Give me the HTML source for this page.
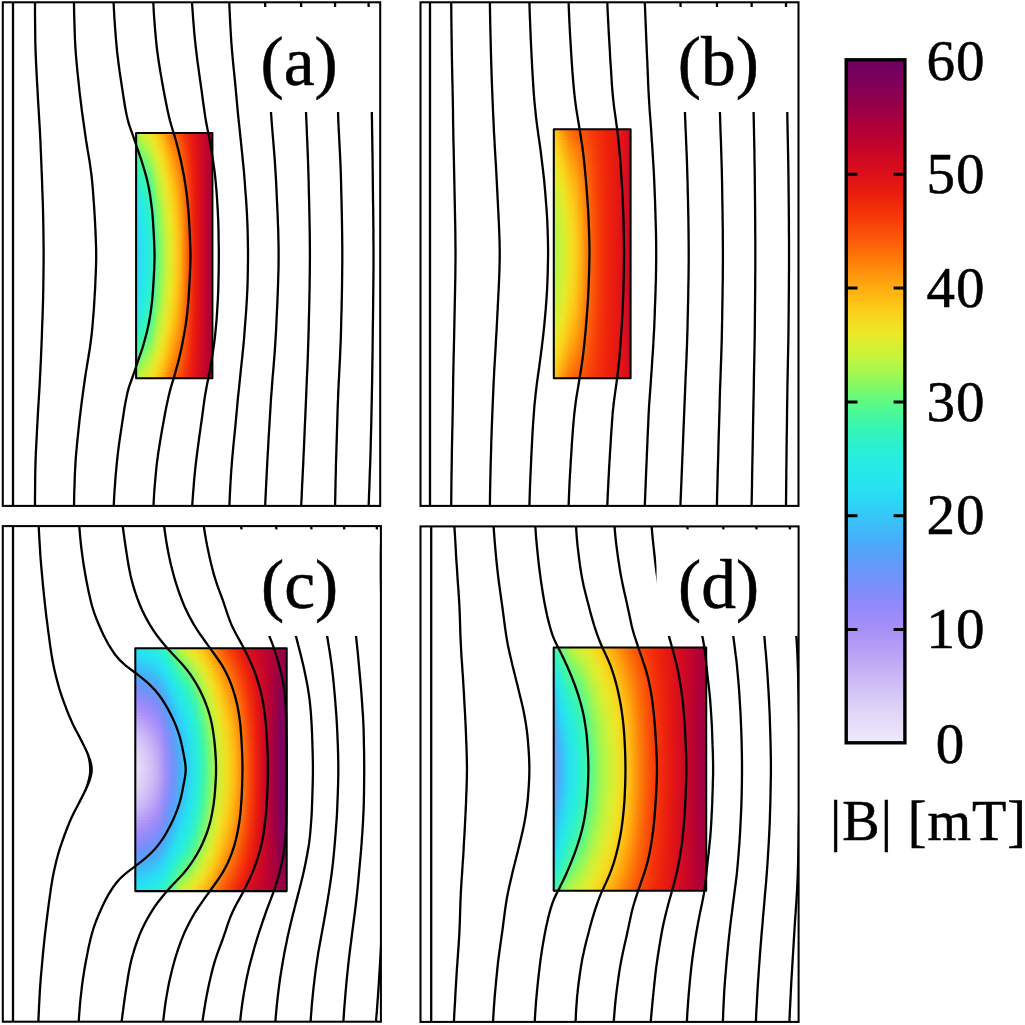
<!DOCTYPE html>
<html><head><meta charset="utf-8"><title>figure</title>
<style>
html,body{margin:0;padding:0;background:#fff}
#f{position:relative;width:1025px;height:1025px;overflow:hidden;background:#fff}
#f i{position:absolute;display:block}
#f svg{position:absolute;left:0;top:0}
text{font-family:"Liberation Serif",serif;fill:#000;stroke:#000;stroke-width:.55px}
.a0{background:linear-gradient(90deg,#2ed3f6 0%,#28def4 5%,#27e5ed 10%,#27ebe3 15%,#2af0d2 20%,#46f7a1 25%,#72f974 30%,#9df754 35%,#c0f43f 40%,#e0ec2e 45%,#f3dc22 50%,#fdc818 55%,#ffa70f 60%,#fc7a09 65%,#f94c08 70%,#f0280b 75%,#e51813 80%,#d70e1d 85%,#c80628 90%,#b60234 95%,#a6003f 100%)}
.a1{background:linear-gradient(90deg,#2ed3f6 0%,#28def4 5%,#27e5ed 10%,#27ece2 15%,#2af0d2 20%,#46f7a0 25%,#72f973 30%,#9df754 35%,#c0f43f 40%,#e0ec2e 45%,#f3dc22 50%,#fdc718 55%,#ffa70f 60%,#fc7909 65%,#f94c08 70%,#f0280b 75%,#e51813 80%,#d70e1d 85%,#c80628 90%,#b60234 95%,#a6003f 100%)}
.a2{background:linear-gradient(90deg,#2ed3f6 0%,#28dff3 5%,#27e5ed 10%,#27ece2 15%,#2af0d1 20%,#47f7a0 25%,#73f973 30%,#9ef753 35%,#c0f43f 40%,#e0ec2e 45%,#f3dc22 50%,#fdc718 55%,#ffa70f 60%,#fc7909 65%,#f94c08 70%,#f0280b 75%,#e51813 80%,#d70e1d 85%,#c80628 90%,#b60234 95%,#a6003f 100%)}
.a3{background:linear-gradient(90deg,#2dd4f6 0%,#28dff3 5%,#27e6ec 10%,#27ece2 15%,#2bf0d1 20%,#47f79f 25%,#73f972 30%,#9ef753 35%,#c1f43e 40%,#e1eb2e 45%,#f4dc21 50%,#fdc718 55%,#ffa60f 60%,#fc7909 65%,#f94c08 70%,#f0280b 75%,#e51813 80%,#d70e1d 85%,#c80628 90%,#b60234 95%,#a6003f 100%)}
.a4{background:linear-gradient(90deg,#2dd5f6 0%,#28dff3 5%,#27e6ec 10%,#27ece1 15%,#2bf0d0 20%,#48f89e 25%,#75f972 30%,#9ff752 35%,#c2f43e 40%,#e1eb2d 45%,#f4db21 50%,#fdc618 55%,#ffa60f 60%,#fc7909 65%,#f94c08 70%,#f0280b 75%,#e51813 80%,#d70e1d 85%,#c80628 90%,#b60234 95%,#a6003f 100%)}
.a5{background:linear-gradient(90deg,#2dd5f6 0%,#28e0f2 5%,#27e6ec 10%,#27ece0 15%,#2cf1cf 20%,#49f89d 25%,#76f971 30%,#a0f752 35%,#c3f33d 40%,#e2eb2d 45%,#f4db21 50%,#fdc618 55%,#ffa50f 60%,#fc7809 65%,#f94b08 70%,#f0280b 75%,#e51813 80%,#d70e1d 85%,#c80628 90%,#b60234 95%,#a6003f 100%)}
.a6{background:linear-gradient(90deg,#2cd6f5 0%,#28e0f2 5%,#27e7eb 10%,#28ecdf 15%,#2cf1cd 20%,#4af89b 25%,#77f96f 30%,#a2f751 35%,#c4f33c 40%,#e3eb2c 45%,#f5da21 50%,#fdc517 55%,#ffa40f 60%,#fc7709 65%,#f94b08 70%,#f0280b 75%,#e51813 80%,#d70e1d 85%,#c80628 90%,#b60234 95%,#a6003f 100%)}
.a7{background:linear-gradient(90deg,#2cd7f5 0%,#28e1f1 5%,#26e7eb 10%,#28edde 15%,#2df1cc 20%,#4bf89a 25%,#79f96e 30%,#a3f750 35%,#c6f33b 40%,#e4ea2c 45%,#f5d920 50%,#fdc417 55%,#ffa30f 60%,#fc7709 65%,#f94b08 70%,#f0280b 75%,#e51813 80%,#d70e1d 85%,#c80628 90%,#b60234 95%,#a6003f 100%)}
.a8{background:linear-gradient(90deg,#2bd9f5 0%,#27e1f1 5%,#26e8ea 10%,#28eddd 15%,#2ef1ca 20%,#4df898 25%,#7bf96c 30%,#a5f64f 35%,#c8f33a 40%,#e5ea2b 45%,#f6d920 50%,#fdc317 55%,#ffa20f 60%,#fc7609 65%,#f94a08 70%,#f0270b 75%,#e41813 80%,#d70d1e 85%,#c80628 90%,#b60234 95%,#a6003f 100%)}
.a9{background:linear-gradient(90deg,#2adaf5 0%,#27e2f0 5%,#26e9e9 10%,#28eddc 15%,#2ff2c8 20%,#4ff896 25%,#7ef96b 30%,#a7f64e 35%,#c9f339 40%,#e7ea2b 45%,#f6d81f 50%,#fdc216 55%,#fea10e 60%,#fc7509 65%,#f94a08 70%,#f0270b 75%,#e41813 80%,#d70d1e 85%,#c80628 90%,#b60234 95%,#a6003f 100%)}
.a10{background:linear-gradient(90deg,#29dcf4 0%,#27e3ef 5%,#26eae8 10%,#28eeda 15%,#30f2c6 20%,#51f893 25%,#80f968 30%,#aaf64c 35%,#cbf238 40%,#e8e92a 45%,#f7d61f 50%,#fdc016 55%,#fea00e 60%,#fc7409 65%,#f94908 70%,#ef270b 75%,#e41813 80%,#d70d1e 85%,#c80628 90%,#b60234 95%,#a6003f 100%)}
.a11{background:linear-gradient(90deg,#28ddf4 0%,#27e4ee 5%,#26eae7 10%,#29eed9 15%,#31f3c3 20%,#53f991 25%,#83f966 30%,#acf64b 35%,#cdf238 40%,#eae929 45%,#f8d51e 50%,#fdbf16 55%,#fe9e0e 60%,#fc7309 65%,#f84808 70%,#ef270b 75%,#e41813 80%,#d70d1e 85%,#c80628 90%,#b70234 95%,#a6003f 100%)}
.a12{background:linear-gradient(90deg,#28dff3 0%,#27e5ed 5%,#27ebe5 10%,#29efd7 15%,#32f3c1 20%,#55f98e 25%,#86f964 30%,#aff649 35%,#cff137 40%,#ece828 45%,#f8d41d 50%,#fdbd15 55%,#fe9d0e 60%,#fc7209 65%,#f84808 70%,#ef260b 75%,#e41813 80%,#d70d1e 85%,#c80628 90%,#b70234 95%,#a7003f 100%)}
.a13{background:linear-gradient(90deg,#28e0f2 0%,#27e6ec 5%,#27ebe3 10%,#29efd5 15%,#33f3be 20%,#58f98b 25%,#8af861 30%,#b2f547 35%,#d1f036 40%,#ede627 45%,#f9d31c 50%,#febc15 55%,#fe9b0d 60%,#fc7009 65%,#f84708 70%,#ef260b 75%,#e41714 80%,#d70d1e 85%,#c80628 90%,#b70234 95%,#a7003e 100%)}
.a14{background:linear-gradient(90deg,#27e1f1 0%,#26e7eb 5%,#27ece1 10%,#2af0d3 15%,#35f4ba 20%,#5bfa87 25%,#8ef85e 30%,#b5f545 35%,#d3f034 40%,#eee526 45%,#fad11c 50%,#feba14 55%,#fe990d 60%,#fc6f09 65%,#f84608 70%,#ef260b 75%,#e41714 80%,#d60d1e 85%,#c80628 90%,#b70233 95%,#a7003e 100%)}
.a15{background:linear-gradient(90deg,#27e2f0 0%,#26e9e9 5%,#28eddf 10%,#2bf0d0 15%,#36f5b7 20%,#5efa84 25%,#92f85b 30%,#b8f543 35%,#d6ef33 40%,#efe325 45%,#fbcf1b 50%,#feb814 55%,#fe970d 60%,#fc6e09 65%,#f84508 70%,#ef250b 75%,#e41714 80%,#d60d1e 85%,#c80628 90%,#b70233 95%,#a7003e 100%)}
.a16{background:linear-gradient(90deg,#27e4ee 0%,#26eae8 5%,#28eddc 10%,#2df1cc 15%,#38f5b4 20%,#62fa80 25%,#96f858 30%,#bcf441 35%,#d8ee32 40%,#f0e124 45%,#fcce1a 50%,#feb613 55%,#fe950d 60%,#fc6c09 65%,#f84408 70%,#ef250b 75%,#e31714 80%,#d60d1e 85%,#c80628 90%,#b70233 95%,#a7003e 100%)}
.a17{background:linear-gradient(90deg,#27e5ed 0%,#26ebe5 5%,#29eed9 10%,#2ef2c8 15%,#3af6b0 20%,#67fa7c 25%,#9af856 30%,#c0f43f 35%,#dbed30 40%,#f1df23 45%,#fccb19 50%,#feb412 55%,#fe930c 60%,#fc6a09 65%,#f84308 70%,#ef240b 75%,#e31714 80%,#d60d1e 85%,#c80628 90%,#b70233 95%,#a8003e 100%)}
.a18{background:linear-gradient(90deg,#27e7eb 0%,#27ece2 5%,#29efd7 10%,#30f2c4 15%,#3df6ab 20%,#6cfa78 25%,#9ef753 30%,#c4f33c 35%,#deec2f 40%,#f3dd22 45%,#fcc918 50%,#ffb112 55%,#fe910c 60%,#fc6909 65%,#f84208 70%,#ee240b 75%,#e31714 80%,#d60d1e 85%,#c80628 90%,#b70233 95%,#a8003e 100%)}
.a19{background:linear-gradient(90deg,#26e8ea 0%,#28ecdf 5%,#2af0d4 10%,#32f3bf 15%,#42f7a5 20%,#72f974 25%,#a3f750 30%,#c8f33a 35%,#e1eb2d 40%,#f4db21 45%,#fdc618 50%,#ffaf11 55%,#fe8e0c 60%,#fb6708 65%,#f84108 70%,#ee230c 75%,#e31614 80%,#d60d1e 85%,#c80628 90%,#b70233 95%,#a8003e 100%)}
.a20{background:linear-gradient(90deg,#26eae8 0%,#28eddc 5%,#2bf0d0 10%,#35f4bb 15%,#47f7a0 20%,#78f96f 25%,#a8f64d 30%,#ccf238 35%,#e5ea2c 40%,#f5d920 45%,#fdc317 50%,#ffac10 55%,#fd8c0b 60%,#fb6508 65%,#f74008 70%,#ee230c 75%,#e31615 80%,#d60d1e 85%,#c80628 90%,#b70233 95%,#a8003d 100%)}
.a21{background:linear-gradient(90deg,#27ebe4 0%,#29eed9 5%,#2df1ca 10%,#37f5b6 15%,#4cf89a 20%,#7ef96b 25%,#adf64a 30%,#cff137 35%,#e8e92a 40%,#f7d71f 45%,#fdc016 50%,#ffa910 55%,#fd890b 60%,#fb6308 65%,#f73e08 70%,#ee220c 75%,#e21615 80%,#d60d1f 85%,#c80628 90%,#b80233 95%,#a8003d 100%)}
.a22{background:linear-gradient(90deg,#27ece1 0%,#29efd6 5%,#30f2c5 10%,#39f6b1 15%,#51f893 20%,#84f966 25%,#b2f547 30%,#d3f035 35%,#ece828 40%,#f8d41d 45%,#fdbd15 50%,#ffa60f 55%,#fd860a 60%,#fb6008 65%,#f73d08 70%,#ee220c 75%,#e21615 80%,#d50d1f 85%,#c80628 90%,#b80233 95%,#a9003d 100%)}
.a23{background:linear-gradient(90deg,#28eddd 0%,#2af0d2 5%,#33f3bf 10%,#3ef6aa 15%,#56f98d 20%,#8bf860 25%,#b7f544 30%,#d6ef33 35%,#eee527 40%,#fad11c 45%,#feba14 50%,#ffa20f 55%,#fd830a 60%,#fb5e08 65%,#f73c08 70%,#ed210c 75%,#e21515 80%,#d50d1f 85%,#c80628 90%,#b80233 95%,#a9003d 100%)}
.a24{background:linear-gradient(90deg,#29eeda 0%,#2df1cc 5%,#35f4b9 10%,#44f7a3 15%,#5cfa86 20%,#92f85b 25%,#bdf441 30%,#daed31 35%,#efe325 40%,#fccf1a 45%,#feb713 50%,#fe9f0e 55%,#fd800a 60%,#fb5c08 65%,#f73b08 70%,#ed210c 75%,#e21515 80%,#d50d1f 85%,#c80628 90%,#b80233 95%,#a9003d 100%)}
.a25{background:linear-gradient(90deg,#29efd6 0%,#30f2c6 5%,#38f5b3 10%,#4af89b 15%,#63fa7f 20%,#99f856 25%,#c3f33d 30%,#deec2f 35%,#f1e023 40%,#fccb19 45%,#feb312 50%,#fe9b0d 55%,#fd7d0a 60%,#fa5a08 65%,#f63908 70%,#ed200c 75%,#e11516 80%,#d50c1f 85%,#c80628 90%,#b80233 95%,#aa003c 100%)}
.a26{background:linear-gradient(90deg,#2af0d1 0%,#33f3bf 5%,#3cf6ac 10%,#51f893 15%,#6cfa78 20%,#a0f752 25%,#c9f339 30%,#e3eb2d 35%,#f3dd22 40%,#fdc718 45%,#ffaf11 50%,#fe970d 55%,#fc7a09 60%,#fa5708 65%,#f63809 70%,#ec200c 75%,#e11516 80%,#d50c1f 85%,#c80628 90%,#b80232 95%,#aa003c 100%)}
.a27{background:linear-gradient(90deg,#2df1ca 0%,#36f4b8 5%,#43f7a4 10%,#58f98b 15%,#76f971 20%,#a7f64e 25%,#cef137 30%,#e7e92a 35%,#f5d920 40%,#fdc317 45%,#ffac10 50%,#fe930c 55%,#fc7609 60%,#fa5508 65%,#f53709 70%,#ec1f0d 75%,#e11416 80%,#d40c1f 85%,#c80628 90%,#b90232 95%,#aa003c 100%)}
.a28{background:linear-gradient(90deg,#31f2c3 0%,#39f6b1 5%,#4bf89b 10%,#5ffa82 15%,#80f969 20%,#aff649 25%,#d3f035 30%,#ece828 35%,#f7d61e 40%,#fdbf16 45%,#ffa70f 50%,#fe8f0c 55%,#fc7309 60%,#fa5308 65%,#f53509 70%,#ec1f0d 75%,#e01416 80%,#d40c1f 85%,#c80628 90%,#b90232 95%,#ab003c 100%)}
.a29{background:linear-gradient(90deg,#34f4bc 0%,#3ff7a9 5%,#52f992 10%,#69fa7a 15%,#8af861 20%,#b7f544 25%,#d8ee32 30%,#eee526 35%,#f9d21c 40%,#febb14 45%,#ffa20f 50%,#fd8a0b 55%,#fc6f09 60%,#f95008 65%,#f43409 70%,#eb1e0e 75%,#e01417 80%,#d40c20 85%,#c80628 90%,#b90232 95%,#ab003b 100%)}
.a30{background:linear-gradient(90deg,#37f5b5 0%,#47f79f 5%,#5af988 10%,#75f972 15%,#94f859 20%,#bff440 25%,#dded30 30%,#f0e124 35%,#fbcf1a 40%,#feb713 45%,#fe9d0e 50%,#fd860a 55%,#fc6c09 60%,#f94d08 65%,#f43209 70%,#eb1e0e 75%,#e01417 80%,#d40c20 85%,#c80628 90%,#b90232 95%,#ab003b 100%)}
.a31{background:linear-gradient(90deg,#3cf6ac 0%,#4ff895 5%,#64fa7e 10%,#80f969 15%,#9ef753 20%,#c7f33b 25%,#e2eb2d 30%,#f2dd22 35%,#fcca19 40%,#feb212 45%,#fe980d 50%,#fd810a 55%,#fc6809 60%,#f94b08 65%,#f3310a 70%,#ea1d0e 75%,#df1317 80%,#d40c20 85%,#c80628 90%,#b90232 95%,#ac003b 100%)}
.a32{background:linear-gradient(90deg,#45f7a2 0%,#58f98b 5%,#70f975 10%,#8cf860 15%,#a9f64d 20%,#cdf137 25%,#e8e92a 30%,#f5da20 35%,#fdc517 40%,#ffad10 45%,#fe930c 50%,#fd7d0a 55%,#fb6408 60%,#f84808 65%,#f22f0a 70%,#ea1d0f 75%,#df1317 80%,#d30c20 85%,#c70628 90%,#ba0232 95%,#ac003b 100%)}
.a33{background:linear-gradient(90deg,#4ef897 0%,#61fa80 5%,#7df96b 10%,#98f857 15%,#b3f546 20%,#d4ef34 25%,#ede727 30%,#f7d61e 35%,#fdc016 40%,#ffa80f 45%,#fd8d0b 50%,#fc7809 55%,#fb6008 60%,#f84508 65%,#f22e0a 70%,#e91c0f 75%,#df1318 80%,#d30c20 85%,#c70628 90%,#ba0231 95%,#ad003a 100%)}
.a34{background:linear-gradient(90deg,#57f98c 0%,#6ef976 5%,#8af861 10%,#a4f750 15%,#bef440 20%,#daed31 25%,#efe325 30%,#fad21c 35%,#febb14 40%,#fea20e 45%,#fd880b 50%,#fc7309 55%,#fb5c08 60%,#f84208 65%,#f12c0a 70%,#e91c10 75%,#de1218 80%,#d30b20 85%,#c70628 90%,#ba0231 95%,#ad003a 100%)}
.a35{background:linear-gradient(90deg,#60fa81 0%,#7cf96c 5%,#98f857 10%,#aff549 15%,#c9f33a 20%,#e1eb2d 25%,#f2de23 30%,#fccd1a 35%,#feb513 40%,#fe9c0e 45%,#fd820a 50%,#fc6e09 55%,#fa5808 60%,#f73f08 65%,#f12a0b 70%,#e81b10 75%,#de1218 80%,#d30b21 85%,#c70628 90%,#ba0331 95%,#ad003a 100%)}
.a36{background:linear-gradient(90deg,#6ff976 0%,#8af861 5%,#a4f74f 10%,#bcf441 15%,#d1f035 20%,#e8e92a 25%,#f5da20 30%,#fdc818 35%,#ffb011 40%,#fe950d 45%,#fd7c0a 50%,#fc6909 55%,#fa5408 60%,#f73c08 65%,#f0290b 70%,#e81b11 75%,#de1119 80%,#d20b21 85%,#c70628 90%,#ba0331 95%,#ae0039 100%)}
.a37{background:linear-gradient(90deg,#7df96b 0%,#99f856 5%,#b1f548 10%,#c8f33a 15%,#daee31 20%,#ede627 25%,#f7d51e 30%,#fdc216 35%,#ffaa10 40%,#fe8f0c 45%,#fc7709 50%,#fb6308 55%,#f95008 60%,#f63908 65%,#ef270b 70%,#e71a11 75%,#dd1119 80%,#d20b21 85%,#c70628 90%,#bb0331 95%,#ae0039 100%)}
.a38{background:linear-gradient(90deg,#8cf860 0%,#a6f64e 5%,#bff440 10%,#d1f035 15%,#e2eb2d 20%,#f1e024 25%,#fad11b 30%,#febc15 35%,#ffa30f 40%,#fd880b 45%,#fc7109 50%,#fb5e08 55%,#f94b08 60%,#f53609 65%,#ef250b 70%,#e61a11 75%,#dd1119 80%,#d20b21 85%,#c70628 90%,#bb0331 95%,#af0039 100%)}
.a39{background:linear-gradient(90deg,#9bf755 0%,#b4f546 5%,#cbf238 10%,#dbed31 15%,#ebe828 20%,#f4db21 25%,#fccb19 30%,#feb613 35%,#fe9c0e 40%,#fd820a 45%,#fc6b09 50%,#fa5908 55%,#f84708 60%,#f43309 65%,#ee230c 70%,#e61912 75%,#dc101a 80%,#d10b21 85%,#c70629 90%,#bb0331 95%,#af0038 100%)}
.a40{background:linear-gradient(90deg,#a9f64d 0%,#c2f43e 5%,#d5ef34 10%,#e4ea2c 15%,#f0e225 20%,#f7d61e 25%,#fdc517 30%,#ffb011 35%,#fe950c 40%,#fd7b0a 45%,#fb6508 50%,#fa5408 55%,#f84308 60%,#f3300a 65%,#ed210c 70%,#e51912 75%,#dc101a 80%,#d10b22 85%,#c70629 90%,#bb0330 95%,#b00038 100%)}
.b0{background:linear-gradient(90deg,#aaf64c 0%,#b8f543 5%,#c9f339 10%,#dced30 15%,#eee426 20%,#f5d920 25%,#fcc918 30%,#ffb011 35%,#fe900c 40%,#fc7509 45%,#fb5c08 50%,#f94908 55%,#f63908 60%,#f22f0a 65%,#ef250b 70%,#eb1e0e 75%,#e61a11 80%,#e11416 85%,#d90f1c 90%,#d00a23 95%,#c80628 100%)}
.b1{background:linear-gradient(90deg,#aaf64c 0%,#b9f543 5%,#c9f339 10%,#dced30 15%,#eee426 20%,#f5d920 25%,#fcc818 30%,#ffb011 35%,#fe900c 40%,#fc7509 45%,#fb5c08 50%,#f94908 55%,#f63908 60%,#f22f0a 65%,#ef250b 70%,#eb1e0e 75%,#e61a11 80%,#e11416 85%,#da0f1c 90%,#d00a22 95%,#c80628 100%)}
.b2{background:linear-gradient(90deg,#abf64c 0%,#b9f543 5%,#caf339 10%,#dced30 15%,#efe426 20%,#f5d920 25%,#fdc818 30%,#ffb011 35%,#fe900c 40%,#fc7509 45%,#fb5c08 50%,#f94908 55%,#f63908 60%,#f22f0a 65%,#ef250b 70%,#eb1e0e 75%,#e61a11 80%,#e11416 85%,#da0f1c 90%,#d00a22 95%,#c80628 100%)}
.b3{background:linear-gradient(90deg,#abf64b 0%,#b9f443 5%,#caf239 10%,#dded30 15%,#efe326 20%,#f6d820 25%,#fdc818 30%,#ffaf11 35%,#fe8f0c 40%,#fc7509 45%,#fb5c08 50%,#f94908 55%,#f63908 60%,#f22f0a 65%,#ef250b 70%,#eb1e0e 75%,#e61a11 80%,#e11416 85%,#da0f1c 90%,#d00a22 95%,#c80628 100%)}
.b4{background:linear-gradient(90deg,#acf64b 0%,#baf442 5%,#cbf239 10%,#ddec2f 15%,#efe325 20%,#f6d81f 25%,#fdc718 30%,#ffaf11 35%,#fe8f0c 40%,#fc7509 45%,#fb5c08 50%,#f94908 55%,#f63908 60%,#f22f0a 65%,#ef250b 70%,#eb1e0e 75%,#e61a11 80%,#e11416 85%,#da0f1c 90%,#d00a22 95%,#c80628 100%)}
.b5{background:linear-gradient(90deg,#adf64a 0%,#bbf442 5%,#cbf238 10%,#deec2f 15%,#efe325 20%,#f6d81f 25%,#fdc718 30%,#ffae11 35%,#fe8f0c 40%,#fc7409 45%,#fb5b08 50%,#f94908 55%,#f63908 60%,#f22f0a 65%,#ef250b 70%,#eb1e0e 75%,#e61a11 80%,#e11416 85%,#da0f1c 90%,#d00a22 95%,#c80628 100%)}
.b6{background:linear-gradient(90deg,#adf64a 0%,#bcf441 5%,#ccf238 10%,#dfec2e 15%,#f0e225 20%,#f6d71f 25%,#fdc618 30%,#ffae11 35%,#fe8e0c 40%,#fc7409 45%,#fb5b08 50%,#f94908 55%,#f63908 60%,#f22f0a 65%,#ef250b 70%,#eb1e0e 75%,#e61a11 80%,#e11416 85%,#da0f1c 90%,#d00a22 95%,#c80628 100%)}
.b7{background:linear-gradient(90deg,#aff649 0%,#bef440 5%,#cdf137 10%,#e0ec2e 15%,#f0e124 20%,#f7d61e 25%,#fdc517 30%,#ffad10 35%,#fd8d0b 40%,#fc7409 45%,#fb5b08 50%,#f84908 55%,#f63908 60%,#f22f0a 65%,#ef250b 70%,#eb1e0e 75%,#e61a11 80%,#e11416 85%,#da0f1c 90%,#d00a22 95%,#c80628 100%)}
.b8{background:linear-gradient(90deg,#b0f548 0%,#bff43f 5%,#cef137 10%,#e1eb2d 15%,#f1e024 20%,#f7d51e 25%,#fdc417 30%,#ffac10 35%,#fd8d0b 40%,#fc7309 45%,#fb5a08 50%,#f84808 55%,#f63908 60%,#f22f0a 65%,#ef250b 70%,#eb1e0e 75%,#e61a11 80%,#e11516 85%,#da0f1c 90%,#d00a22 95%,#c80628 100%)}
.b9{background:linear-gradient(90deg,#b1f548 0%,#c1f43e 5%,#d0f136 10%,#e3eb2d 15%,#f1df23 20%,#f8d51e 25%,#fdc317 30%,#ffab10 35%,#fd8c0b 40%,#fc7209 45%,#fb5a08 50%,#f84808 55%,#f63908 60%,#f22f0a 65%,#ef240b 70%,#eb1e0e 75%,#e61a11 80%,#e11516 85%,#da0f1b 90%,#d00a22 95%,#c90628 100%)}
.b10{background:linear-gradient(90deg,#b3f547 0%,#c3f43d 5%,#d1f036 10%,#e4ea2c 15%,#f2de23 20%,#f9d41d 25%,#fdc216 30%,#ffaa10 35%,#fd8b0b 40%,#fc7209 45%,#fa5a08 50%,#f84808 55%,#f63809 60%,#f22e0a 65%,#ef240b 70%,#eb1e0e 75%,#e61a11 80%,#e11516 85%,#da0f1b 90%,#d00a22 95%,#c90628 100%)}
.b11{background:linear-gradient(90deg,#b5f545 0%,#c5f33c 5%,#d3f035 10%,#e6ea2b 15%,#f3dd22 20%,#f9d21c 25%,#fdc116 30%,#ffa910 35%,#fd8a0b 40%,#fc7109 45%,#fa5908 50%,#f84708 55%,#f63809 60%,#f22e0a 65%,#ef240b 70%,#eb1e0e 75%,#e61a11 80%,#e11516 85%,#da0f1b 90%,#d10a22 95%,#c90627 100%)}
.b12{background:linear-gradient(90deg,#b7f544 0%,#c7f33b 5%,#d4ef34 10%,#e7e92a 15%,#f3dc22 20%,#fad11c 25%,#fdbf16 30%,#ffa70f 35%,#fd890b 40%,#fc7009 45%,#fa5908 50%,#f84708 55%,#f63809 60%,#f22e0a 65%,#ef240b 70%,#eb1e0e 75%,#e61a11 80%,#e11516 85%,#da0f1b 90%,#d10a22 95%,#c90627 100%)}
.b13{background:linear-gradient(90deg,#b9f443 0%,#c9f33a 5%,#d6ef33 10%,#e9e929 15%,#f4db21 20%,#fbd01b 25%,#fdbe15 30%,#ffa60f 35%,#fd880b 40%,#fc6f09 45%,#fa5808 50%,#f84708 55%,#f63809 60%,#f22e0a 65%,#ee240b 70%,#eb1e0e 75%,#e61a11 80%,#e11516 85%,#da0f1b 90%,#d10a22 95%,#c90727 100%)}
.b14{background:linear-gradient(90deg,#bbf442 0%,#cbf239 5%,#d8ee32 10%,#ebe828 15%,#f5d920 20%,#fccf1a 25%,#febc15 30%,#ffa40f 35%,#fd870a 40%,#fc6f09 45%,#fa5808 50%,#f84608 55%,#f53809 60%,#f22e0a 65%,#ee240b 70%,#eb1e0e 75%,#e61a11 80%,#e11516 85%,#da0f1b 90%,#d10b22 95%,#c90727 100%)}
.b15{background:linear-gradient(90deg,#bef440 0%,#cdf238 5%,#daed31 10%,#ede727 15%,#f6d81f 20%,#fccd1a 25%,#feba14 30%,#ffa30f 35%,#fd850a 40%,#fc6e09 45%,#fa5708 50%,#f84608 55%,#f53709 60%,#f22e0a 65%,#ee240b 70%,#eb1e0e 75%,#e61a11 80%,#e11516 85%,#db0f1b 90%,#d10b22 95%,#c90727 100%)}
.b16{background:linear-gradient(90deg,#c1f43e 0%,#cff137 5%,#dded30 10%,#eee527 15%,#f7d61e 20%,#fccb19 25%,#feb814 30%,#fea10e 35%,#fd840a 40%,#fc6d09 45%,#fa5608 50%,#f84508 55%,#f53709 60%,#f22d0a 65%,#ee240b 70%,#eb1e0e 75%,#e61a11 80%,#e11516 85%,#db0f1b 90%,#d10b21 95%,#ca0727 100%)}
.b17{background:linear-gradient(90deg,#c3f33d 0%,#d1f035 5%,#dfec2e 10%,#efe426 15%,#f8d41d 20%,#fcc918 25%,#feb613 30%,#fe9f0e 35%,#fd820a 40%,#fc6b09 45%,#fa5608 50%,#f84508 55%,#f53709 60%,#f22d0a 65%,#ee240b 70%,#eb1e0e 75%,#e61a11 80%,#e11516 85%,#db0f1b 90%,#d20b21 95%,#ca0727 100%)}
.b18{background:linear-gradient(90deg,#c6f33b 0%,#d3f034 5%,#e2eb2d 10%,#f0e225 15%,#f9d21c 20%,#fdc618 25%,#feb412 30%,#fe9d0e 35%,#fd810a 40%,#fc6a09 45%,#fa5508 50%,#f84408 55%,#f53609 60%,#f22d0a 65%,#ee240b 70%,#eb1e0e 75%,#e61a11 80%,#e11516 85%,#db101b 90%,#d20b21 95%,#ca0727 100%)}
.b19{background:linear-gradient(90deg,#c9f339 0%,#d6ef33 5%,#e4ea2c 10%,#f1e024 15%,#fad01b 20%,#fdc417 25%,#feb212 30%,#fe9a0d 35%,#fd7f0a 40%,#fc6909 45%,#fa5408 50%,#f84408 55%,#f53609 60%,#f22d0a 65%,#ee230c 70%,#eb1e0e 75%,#e61a11 80%,#e11516 85%,#db101b 90%,#d20b21 95%,#ca0726 100%)}
.b20{background:linear-gradient(90deg,#cbf238 0%,#d9ee32 5%,#e7e92a 10%,#f2de22 15%,#fcce1a 20%,#fdc116 25%,#ffb011 30%,#fe980d 35%,#fd7e0a 40%,#fc6809 45%,#fa5308 50%,#f84308 55%,#f53609 60%,#f12d0a 65%,#ee230c 70%,#eb1e0e 75%,#e61a11 80%,#e11516 85%,#db101a 90%,#d20b21 95%,#ca0726 100%)}
.b21{background:linear-gradient(90deg,#cef137 0%,#dbed30 5%,#eae929 10%,#f4db21 15%,#fccc19 20%,#fdbe15 25%,#ffad10 30%,#fe960d 35%,#fd7c0a 40%,#fb6608 45%,#fa5208 50%,#f84208 55%,#f53509 60%,#f12c0a 65%,#ee230c 70%,#eb1e0e 75%,#e61a11 80%,#e11516 85%,#dc101a 90%,#d30b21 95%,#cb0726 100%)}
.b22{background:linear-gradient(90deg,#d1f036 0%,#deec2f 5%,#ede727 10%,#f5d920 15%,#fcc918 20%,#febc15 25%,#ffaa10 30%,#fe930c 35%,#fc7a09 40%,#fb6508 45%,#fa5108 50%,#f84208 55%,#f53509 60%,#f12c0a 65%,#ee230c 70%,#eb1e0e 75%,#e61a11 80%,#e11516 85%,#dc101a 90%,#d30b20 95%,#cb0726 100%)}
.b23{background:linear-gradient(90deg,#d3f034 0%,#e1eb2d 5%,#eee526 10%,#f7d71f 15%,#fdc618 20%,#feb914 25%,#ffa70f 30%,#fe910c 35%,#fc7809 40%,#fb6308 45%,#f95008 50%,#f84108 55%,#f43509 60%,#f12c0a 65%,#ee230c 70%,#eb1e0e 75%,#e61a11 80%,#e21515 85%,#dc101a 90%,#d30c20 95%,#cb0826 100%)}
.b24{background:linear-gradient(90deg,#d6ef33 0%,#e5ea2c 5%,#f0e225 10%,#f8d41d 15%,#fdc217 20%,#feb513 25%,#ffa40f 30%,#fd8e0b 35%,#fc7609 40%,#fb6208 45%,#f94f08 50%,#f74008 55%,#f43409 60%,#f12b0a 65%,#ee230c 70%,#ea1e0e 75%,#e61a11 80%,#e21515 85%,#dc101a 90%,#d30c20 95%,#cb0826 100%)}
.b25{background:linear-gradient(90deg,#d9ee31 0%,#e8e92a 5%,#f1e023 10%,#fad21c 15%,#fdbf16 20%,#feb212 25%,#fea00e 30%,#fd8b0b 35%,#fc7409 40%,#fb6008 45%,#f94e08 50%,#f73f08 55%,#f43409 60%,#f12b0a 65%,#ee230c 70%,#ea1e0e 75%,#e61a12 80%,#e21515 85%,#dc101a 90%,#d40c20 95%,#cc0825 100%)}
.b26{background:linear-gradient(90deg,#dced30 0%,#ebe828 5%,#f3dd22 10%,#fbcf1a 15%,#febc15 20%,#ffaf11 25%,#fe9d0e 30%,#fd880b 35%,#fc7209 40%,#fb5f08 45%,#f94d08 50%,#f73f08 55%,#f43309 60%,#f12b0a 65%,#ee220c 70%,#ea1d0e 75%,#e61a12 80%,#e21515 85%,#dd111a 90%,#d40c20 95%,#cc0825 100%)}
.b27{background:linear-gradient(90deg,#dfec2e 0%,#ede627 5%,#f5da20 10%,#fccb19 15%,#feb813 20%,#ffab10 25%,#fe990d 30%,#fd850a 35%,#fc7009 40%,#fb5d08 45%,#f94c08 50%,#f73e08 55%,#f43309 60%,#f12a0b 65%,#ee220c 70%,#ea1d0e 75%,#e61a12 80%,#e21515 85%,#dd1119 90%,#d40c1f 95%,#cc0825 100%)}
.b28{background:linear-gradient(90deg,#e3eb2d 0%,#efe325 5%,#f6d71f 10%,#fdc818 15%,#feb412 20%,#ffa70f 25%,#fe950d 30%,#fd820a 35%,#fc6d09 40%,#fb5b08 45%,#f94b08 50%,#f73d08 55%,#f43309 60%,#f12a0b 65%,#ee220c 70%,#ea1d0e 75%,#e61a12 80%,#e21615 85%,#dd1119 90%,#d50c1f 95%,#cd0825 100%)}
.b29{background:linear-gradient(90deg,#e6ea2b 0%,#f1e024 5%,#f8d41d 10%,#fdc417 15%,#ffb011 20%,#ffa20f 25%,#fe910c 30%,#fd7e0a 35%,#fc6b09 40%,#fa5a08 45%,#f94a08 50%,#f73c08 55%,#f33209 60%,#f12a0b 65%,#ee220c 70%,#ea1d0e 75%,#e61a12 80%,#e21615 85%,#dd1119 90%,#d50c1f 95%,#cd0924 100%)}
.b30{background:linear-gradient(90deg,#eae929 0%,#f2de22 5%,#fad11c 10%,#fdc016 15%,#ffac10 20%,#fe9e0e 25%,#fd8d0b 30%,#fd7b0a 35%,#fc6809 40%,#fa5808 45%,#f84808 50%,#f73b08 55%,#f33209 60%,#f0290b 65%,#ee220c 70%,#ea1d0e 75%,#e61a12 80%,#e21615 85%,#dd1119 90%,#d50d1f 95%,#cd0924 100%)}
.b31{background:linear-gradient(90deg,#ede727 0%,#f4db21 5%,#fcce1a 10%,#febb15 15%,#ffa70f 20%,#fe990d 25%,#fd890b 30%,#fc7809 35%,#fb6608 40%,#fa5608 45%,#f84708 50%,#f63b08 55%,#f3310a 60%,#f0290b 65%,#ed210c 70%,#ea1d0e 75%,#e61a12 80%,#e21615 85%,#de1219 90%,#d60d1f 95%,#ce0924 100%)}
.b32{background:linear-gradient(90deg,#eee426 0%,#f6d81f 5%,#fcc919 10%,#feb713 15%,#ffa20f 20%,#fe940c 25%,#fd840a 30%,#fc7409 35%,#fb6308 40%,#fa5408 45%,#f84608 50%,#f63a08 55%,#f3300a 60%,#f0290b 65%,#ed210c 70%,#ea1d0f 75%,#e61a12 80%,#e21615 85%,#de1218 90%,#d60d1e 95%,#ce0924 100%)}
.b33{background:linear-gradient(90deg,#f0e124 0%,#f8d41d 5%,#fdc517 10%,#feb212 15%,#fe9d0e 20%,#fe8f0c 25%,#fd800a 30%,#fc7109 35%,#fb6008 40%,#fa5208 45%,#f84408 50%,#f63908 55%,#f3300a 60%,#f0280b 65%,#ed210c 70%,#ea1d0f 75%,#e61a12 80%,#e21615 85%,#de1218 90%,#d60d1e 95%,#cf0923 100%)}
.b34{background:linear-gradient(90deg,#f2de23 0%,#fad11c 5%,#fdc016 10%,#ffae11 15%,#fe980d 20%,#fd8a0b 25%,#fd7b0a 30%,#fc6d09 35%,#fb5d08 40%,#f95008 45%,#f84308 50%,#f63809 55%,#f22f0a 60%,#f0280b 65%,#ed210c 70%,#ea1d0f 75%,#e61a12 80%,#e31615 85%,#de1218 90%,#d70d1e 95%,#cf0923 100%)}
.b35{background:linear-gradient(90deg,#f4db21 0%,#fcce1a 5%,#febc15 10%,#ffa80f 15%,#fe920c 20%,#fd850a 25%,#fc7709 30%,#fc6909 35%,#fb5b08 40%,#f94e08 45%,#f84208 50%,#f53709 55%,#f22f0a 60%,#f0270b 65%,#ed200c 70%,#ea1d0f 75%,#e61a12 80%,#e31615 85%,#df1318 90%,#d70e1d 95%,#cf0a23 100%)}
.b36{background:linear-gradient(90deg,#f6d820 0%,#fcc919 5%,#feb713 10%,#ffa30f 15%,#fd8c0b 20%,#fd7f0a 25%,#fc7209 30%,#fb6508 35%,#fa5808 40%,#f94c08 45%,#f74008 50%,#f53609 55%,#f22e0a 60%,#f0270b 65%,#ed200c 70%,#ea1d0f 75%,#e61a12 80%,#e31614 85%,#df1318 90%,#d70e1d 95%,#d00a23 100%)}
.b37{background:linear-gradient(90deg,#f8d51e 0%,#fdc517 5%,#ffb212 10%,#fe9d0e 15%,#fd860a 20%,#fc7a09 25%,#fc6d09 30%,#fb6108 35%,#fa5508 40%,#f94a08 45%,#f73f08 50%,#f53509 55%,#f22e0a 60%,#ef270b 65%,#ed200c 70%,#ea1d0f 75%,#e61a12 80%,#e31614 85%,#df1317 90%,#d80e1d 95%,#d00a22 100%)}
.b38{background:linear-gradient(90deg,#fad21c 0%,#fdc016 5%,#ffac10 10%,#fe970d 15%,#fd810a 20%,#fc7509 25%,#fc6809 30%,#fb5d08 35%,#fa5208 40%,#f84808 45%,#f73d08 50%,#f43409 55%,#f22d0a 60%,#ef260b 65%,#ed200c 70%,#e91d0f 75%,#e61a12 80%,#e31714 85%,#e01317 90%,#d80e1d 95%,#d10a22 100%)}
.b39{background:linear-gradient(90deg,#fcce1a 0%,#febb14 5%,#ffa60f 10%,#fe900c 15%,#fd7b0a 20%,#fc6f09 25%,#fb6308 30%,#fa5908 35%,#f94f08 40%,#f84608 45%,#f73b08 50%,#f43309 55%,#f12c0a 60%,#ef260b 65%,#ed200c 70%,#e91d0f 75%,#e61a12 80%,#e31714 85%,#e01417 90%,#d90e1c 95%,#d10b22 100%)}
.b40{background:linear-gradient(90deg,#fcca19 0%,#feb613 5%,#fea00e 10%,#fd8a0b 15%,#fc7509 20%,#fc6909 25%,#fb5e08 30%,#fa5508 35%,#f94c08 40%,#f84308 45%,#f63a08 50%,#f43209 55%,#f12c0a 60%,#ef250b 65%,#ec1f0c 70%,#e91d0f 75%,#e61a12 80%,#e31714 85%,#e01417 90%,#d90f1c 95%,#d20b21 100%)}
.b41{background:linear-gradient(90deg,#fdc718 0%,#feb212 5%,#fe9b0d 10%,#fd850a 15%,#fc7009 20%,#fb6508 25%,#fb5a08 30%,#fa5208 35%,#f94a08 40%,#f84108 45%,#f63908 50%,#f33209 55%,#f12b0a 60%,#ef250b 65%,#ec1f0d 70%,#e91c0f 75%,#e61a12 80%,#e31714 85%,#e01416 90%,#da0f1c 95%,#d20b21 100%)}
.c0{background:linear-gradient(90deg,#e6def8 0%,#dfd4f7 5%,#d3c4f6 10%,#c3aef5 15%,#a28ef9 20%,#7392fa 25%,#46b0f8 30%,#2fd1f6 35%,#27ebe4 40%,#3af6af 45%,#7ff969 50%,#caf239 55%,#f1e024 60%,#fdbf16 65%,#fd8b0b 70%,#f94f08 75%,#ec1f0d 80%,#cf0a23 85%,#aa003c 90%,#850057 95%,#6e0066 100%)}
.c1{background:linear-gradient(90deg,#e5ddf8 0%,#ded3f7 5%,#d3c3f6 10%,#c3adf5 15%,#a18ef9 20%,#7292fa 25%,#46b1f8 30%,#2fd2f6 35%,#27ebe3 40%,#3af6af 45%,#80f969 50%,#caf239 55%,#f1e024 60%,#fdbf16 65%,#fd8a0b 70%,#f94e08 75%,#ec1f0d 80%,#cf0a23 85%,#aa003c 90%,#850057 95%,#6e0066 100%)}
.c2{background:linear-gradient(90deg,#e5dcf8 0%,#ddd2f7 5%,#d2c1f6 10%,#c2acf5 15%,#a18df9 20%,#7192fa 25%,#45b1f8 30%,#2fd2f6 35%,#27ebe3 40%,#3bf6ae 45%,#80f968 50%,#cbf239 55%,#f1e024 60%,#fdbf16 65%,#fd8a0b 70%,#f94e08 75%,#ec1f0d 80%,#cf0a23 85%,#aa003c 90%,#850057 95%,#6e0066 100%)}
.c3{background:linear-gradient(90deg,#e4dbf8 0%,#dcd0f7 5%,#d1c0f6 10%,#c1abf5 15%,#a08df9 20%,#7093fa 25%,#45b2f8 30%,#2ed3f6 35%,#27ebe3 40%,#3cf6ad 45%,#81f968 50%,#cbf238 55%,#f1df23 60%,#fdbe15 65%,#fd8a0b 70%,#f94e08 75%,#ec1f0d 80%,#cf0a23 85%,#aa003c 90%,#850057 95%,#6e0066 100%)}
.c4{background:linear-gradient(90deg,#e3d9f8 0%,#dbcff7 5%,#d0bff5 10%,#c0a9f6 15%,#9e8df9 20%,#6f93fa 25%,#44b3f8 30%,#2ed3f6 35%,#27ece2 40%,#3df6ac 45%,#83f967 50%,#ccf238 55%,#f2df23 60%,#fdbe15 65%,#fd890b 70%,#f94d08 75%,#ec1f0d 80%,#cf0a23 85%,#aa003c 90%,#850056 95%,#6e0066 100%)}
.c5{background:linear-gradient(90deg,#e2d8f8 0%,#dacef7 5%,#cfbef5 10%,#bfa8f6 15%,#9d8df9 20%,#6e94fa 25%,#43b4f8 30%,#2dd4f6 35%,#27ece1 40%,#3ef6aa 45%,#84f965 50%,#cdf137 55%,#f2de23 60%,#febd15 65%,#fd880b 70%,#f94d08 75%,#ec1f0d 80%,#cf0923 85%,#aa003c 90%,#850056 95%,#6e0066 100%)}
.c6{background:linear-gradient(90deg,#e0d5f7 0%,#d9cbf6 5%,#cdbbf5 10%,#bea6f6 15%,#9b8cf9 20%,#6c95fa 25%,#42b6f8 30%,#2dd6f6 35%,#27ece0 40%,#3ff7a9 45%,#86f964 50%,#cef137 55%,#f3dd22 60%,#febc15 65%,#fd870a 70%,#f94c08 75%,#eb1f0d 80%,#cf0923 85%,#aa003c 90%,#850056 95%,#6e0066 100%)}
.c7{background:linear-gradient(90deg,#ddd2f7 0%,#d6c8f6 5%,#cbb8f5 10%,#bba3f6 15%,#998cf9 20%,#6996fa 25%,#40b8f8 30%,#2cd7f5 35%,#28eddf 40%,#41f7a6 45%,#89f862 50%,#d0f136 55%,#f3dc22 60%,#febb14 65%,#fd860a 70%,#f94b08 75%,#eb1e0e 80%,#cf0923 85%,#aa003c 90%,#860056 95%,#6e0066 100%)}
.c8{background:linear-gradient(90deg,#dbcef7 0%,#d4c5f6 5%,#c9b5f5 10%,#b9a0f6 15%,#968bfa 20%,#6798fa 25%,#3fbaf8 30%,#2bd9f5 35%,#28eddd 40%,#43f7a4 45%,#8cf860 50%,#d1f035 55%,#f4db21 60%,#feb914 65%,#fd840a 70%,#f94a08 75%,#eb1e0e 80%,#cf0923 85%,#ab003c 90%,#860056 95%,#6e0066 100%)}
.c9{background:linear-gradient(90deg,#d8cbf6 0%,#d1c1f6 5%,#c6b2f5 10%,#b79ef6 15%,#948afa 20%,#6499fa 25%,#3dbcf8 30%,#2adaf5 35%,#28eddc 40%,#45f7a1 45%,#8ff85e 50%,#d3f034 55%,#f5da20 60%,#feb813 65%,#fd830a 70%,#f94908 75%,#eb1e0e 80%,#ce0923 85%,#ab003c 90%,#860055 95%,#6e0066 100%)}
.c10{background:linear-gradient(90deg,#d6c7f6 0%,#cfbdf5 5%,#c4aef5 10%,#b49bf7 15%,#908afa 20%,#619bfa 25%,#3bbff8 30%,#29dcf4 35%,#29eeda 40%,#48f89e 45%,#92f85b 50%,#d5ef33 55%,#f5d920 60%,#feb613 65%,#fd810a 70%,#f84808 75%,#ea1d0e 80%,#ce0924 85%,#ab003c 90%,#870055 95%,#6e0066 100%)}
.c11{background:linear-gradient(90deg,#d3c3f6 0%,#ccb9f5 5%,#c1aaf6 10%,#b198f7 15%,#8d8bfa 20%,#5e9cfa 25%,#39c1f8 30%,#28def4 35%,#29eed8 40%,#4bf89b 45%,#96f858 50%,#d7ee32 55%,#f6d71f 60%,#feb412 65%,#fd7f0a 70%,#f84708 75%,#ea1d0f 80%,#ce0924 85%,#ab003c 90%,#870055 95%,#6e0066 100%)}
.c12{background:linear-gradient(90deg,#cfbef5 0%,#c9b5f5 5%,#bea6f6 10%,#ae95f7 15%,#898cfa 20%,#5a9ffa 25%,#37c4f8 30%,#28e0f2 35%,#29efd6 40%,#4ef897 45%,#99f856 50%,#daee31 55%,#f7d51e 60%,#feb212 65%,#fd7d0a 70%,#f84508 75%,#e91c0f 80%,#ce0924 85%,#ab003b 90%,#870055 95%,#6e0066 100%)}
.c13{background:linear-gradient(90deg,#cbb8f5 0%,#c5aff5 5%,#baa1f6 10%,#ab92f8 15%,#848dfa 20%,#56a2f9 25%,#34c8f8 30%,#27e1f1 35%,#2af0d4 40%,#51f893 45%,#9df754 50%,#dced30 55%,#f9d41d 60%,#ffb011 65%,#fd7b0a 70%,#f84408 75%,#e91c0f 80%,#ce0924 85%,#ab003b 90%,#880054 95%,#6e0066 100%)}
.c14{background:linear-gradient(90deg,#c7b2f5 0%,#c0a9f6 5%,#b69df6 10%,#a78ff8 15%,#7f8efa 20%,#52a6f9 25%,#32cbf7 30%,#27e3ef 35%,#2bf0d1 40%,#55f98f 45%,#a2f751 50%,#dfec2e 55%,#fad21c 60%,#ffae10 65%,#fc7909 70%,#f84208 75%,#e81c10 80%,#cd0924 85%,#ab003b 90%,#880054 95%,#6f0066 100%)}
.c15{background:linear-gradient(90deg,#c2acf5 0%,#bca4f6 5%,#b198f7 10%,#a28ef9 15%,#7a8ffa 20%,#4ea9f9 25%,#30cff7 30%,#27e4ee 35%,#2df1cc 40%,#58f98a 45%,#a6f64e 50%,#e2eb2d 55%,#fbd01b 60%,#ffab10 65%,#fc7609 70%,#f84108 75%,#e81b10 80%,#cd0924 85%,#ac003b 90%,#890053 95%,#6f0065 100%)}
.c16{background:linear-gradient(90deg,#bda6f6 0%,#b79ef6 5%,#ad94f7 10%,#9c8cf9 15%,#7591fa 20%,#4aadf8 25%,#2ed2f6 30%,#27e6ec 35%,#2ff2c8 40%,#5cfa85 45%,#abf64b 50%,#e6ea2b 55%,#fccd1a 60%,#ffa80f 65%,#fc7409 70%,#f73f08 75%,#e71a11 80%,#cd0825 85%,#ac003b 90%,#8a0053 95%,#700065 100%)}
.c17{background:linear-gradient(90deg,#b89ff6 0%,#b299f7 5%,#a990f8 10%,#978bfa 15%,#6f93fa 20%,#45b1f8 25%,#2cd6f5 30%,#26e8ea 35%,#31f3c3 40%,#62fa80 45%,#b0f548 50%,#e9e92a 55%,#fcca19 60%,#ffa40f 65%,#fc7109 70%,#f73d08 75%,#e61a11 80%,#cd0825 85%,#ac003b 90%,#8a0053 95%,#710064 100%)}
.c18{background:linear-gradient(90deg,#b39af7 0%,#ad94f7 5%,#a38ef8 10%,#928afa 15%,#6a96fa 20%,#42b5f8 25%,#2adaf5 30%,#26eae8 35%,#33f3be 40%,#68fa7b 45%,#b6f545 50%,#ece828 55%,#fdc718 60%,#fea10e 65%,#fc6e09 70%,#f73b08 75%,#e61912 80%,#cc0825 85%,#ac003b 90%,#8b0052 95%,#720063 100%)}
.c19{background:linear-gradient(90deg,#ae95f7 0%,#a990f8 5%,#9d8df9 10%,#8b8bfa 15%,#6499fa 20%,#3ebaf8 25%,#28def4 30%,#27ebe4 35%,#36f4b9 40%,#6ff975 45%,#bcf441 50%,#eee526 55%,#fdc317 60%,#fe9d0e 65%,#fc6b09 70%,#f63908 75%,#e51813 80%,#cc0825 85%,#ac003b 90%,#8c0052 95%,#730063 100%)}
.c20{background:linear-gradient(90deg,#a990f8 0%,#a28ef9 5%,#978bfa 10%,#858dfa 15%,#5e9cfa 20%,#3abff8 25%,#28e1f1 30%,#27ece0 35%,#38f5b3 40%,#77f970 45%,#c2f43e 50%,#f0e225 55%,#fdc016 60%,#fe990d 65%,#fb6708 70%,#f53709 75%,#e41813 80%,#cb0826 85%,#ad003a 90%,#8c0051 95%,#740062 100%)}
.c21{background:linear-gradient(90deg,#a28ef9 0%,#9b8cf9 5%,#908afa 10%,#7e8efa 15%,#58a1fa 20%,#36c5f8 25%,#27e3ef 30%,#28eddc 35%,#3cf6ad 40%,#7ff96a 45%,#c8f33a 50%,#f2df23 55%,#febc15 60%,#fe950d 65%,#fb6408 70%,#f53509 75%,#e31714 80%,#cb0826 85%,#ad003a 90%,#8d0051 95%,#750061 100%)}
.c22{background:linear-gradient(90deg,#9b8cf9 0%,#948bfa 5%,#898cfa 10%,#7690fa 15%,#52a6f9 20%,#33caf8 25%,#27e6ec 30%,#29eed8 35%,#42f7a5 40%,#87f963 45%,#cdf238 50%,#f4dc21 55%,#feb814 60%,#fe900c 65%,#fb6008 70%,#f43309 75%,#e31615 80%,#cb0726 85%,#ad003a 90%,#8e0050 95%,#760061 100%)}
.c23{background:linear-gradient(90deg,#938afa 0%,#8c8bfa 5%,#818dfa 10%,#6f93fa 15%,#4cabf8 20%,#30cff7 25%,#26e9e9 30%,#2af0d3 35%,#49f89d 40%,#90f85d 45%,#d2f035 50%,#f6d820 55%,#feb412 60%,#fd8c0b 65%,#fb5c08 70%,#f3310a 75%,#e21515 80%,#ca0726 85%,#ad003a 90%,#8f004f 95%,#770060 100%)}
.c24{background:linear-gradient(90deg,#8b8bfa 0%,#848dfa 5%,#798ffa 10%,#6897fa 15%,#46b0f8 20%,#2dd5f6 25%,#26ebe6 30%,#2df1cc 35%,#50f894 40%,#99f856 45%,#d7ee32 50%,#f8d51e 55%,#ffb011 60%,#fd870a 65%,#fa5908 70%,#f22f0a 75%,#e11516 80%,#ca0727 85%,#ae003a 90%,#90004f 95%,#78005f 100%)}
.c25{background:linear-gradient(90deg,#838dfa 0%,#7c8efa 5%,#7193fa 10%,#609bfa 15%,#41b7f8 20%,#2adaf5 25%,#27ece0 30%,#30f2c4 35%,#58f98b 40%,#a1f751 45%,#dded30 50%,#fad11c 55%,#ffab10 60%,#fd820a 65%,#fa5508 70%,#f12c0a 75%,#e01417 80%,#c90727 85%,#ae0039 90%,#90004e 95%,#7a005e 100%)}
.c26{background:linear-gradient(90deg,#7a8ffa 0%,#7391fa 5%,#6997fa 10%,#59a0fa 15%,#3cbdf8 20%,#28dff3 25%,#28eedb 30%,#34f4bc 35%,#5ffa82 40%,#aaf64c 45%,#e2eb2d 50%,#fccd1a 55%,#ffa50f 60%,#fd7d0a 65%,#f95108 70%,#f02a0b 75%,#df1318 80%,#c90627 85%,#ae0039 90%,#91004d 95%,#7b005d 100%)}
.c27{background:linear-gradient(90deg,#7192fa 0%,#6b95fa 5%,#619bfa 10%,#52a6f9 15%,#37c4f8 20%,#27e2f0 25%,#29efd5 30%,#38f5b3 35%,#6bfa79 40%,#b3f546 45%,#e8e92a 50%,#fdc818 55%,#fea00e 60%,#fc7809 65%,#f94d08 70%,#f0270b 75%,#de1218 80%,#c80628 85%,#af0039 90%,#92004d 95%,#7c005d 100%)}
.c28{background:linear-gradient(90deg,#6897fa 0%,#629afa 5%,#59a1fa 10%,#4aadf8 15%,#32cbf7 20%,#27e6ec 25%,#2cf1cd 30%,#3ff7a9 35%,#78f96f 40%,#bdf441 45%,#ede627 50%,#fdc317 55%,#fe9a0d 60%,#fc7309 65%,#f94908 70%,#ef240b 75%,#dd1119 80%,#c80628 85%,#af0039 90%,#93004c 95%,#7e005c 100%)}
.c29{background:linear-gradient(90deg,#5f9cfa 0%,#59a0fa 5%,#50a7f9 10%,#43b4f8 15%,#2fd1f6 20%,#26e9e9 25%,#31f3c3 30%,#49f89d 35%,#84f966 40%,#c7f33b 45%,#f0e225 50%,#fdbd15 55%,#fe930c 60%,#fc6e09 65%,#f84508 70%,#ee220c 75%,#dc101a 80%,#c70628 85%,#af0039 90%,#95004b 95%,#7f005b 100%)}
.c30{background:linear-gradient(90deg,#56a3f9 0%,#51a7f9 5%,#48aef8 10%,#3dbcf8 15%,#2bd8f5 20%,#27ebe3 25%,#35f4b9 30%,#53f991 35%,#91f85b 40%,#cef137 45%,#f3dd22 50%,#feb813 55%,#fd8d0b 60%,#fc6809 65%,#f74008 70%,#ec1f0d 75%,#da0f1b 80%,#c70629 85%,#b00038 90%,#96004a 95%,#81005a 100%)}
.c31{background:linear-gradient(90deg,#4eaaf9 0%,#48aef8 5%,#41b6f8 10%,#37c4f8 15%,#28dff3 20%,#28eddc 25%,#3bf6ae 30%,#5dfa84 35%,#9ef753 40%,#d6ef33 45%,#f6d81f 50%,#ffb212 55%,#fd860a 60%,#fb6208 65%,#f73c08 70%,#eb1e0e 75%,#d90e1c 80%,#c60529 85%,#b00038 90%,#970049 95%,#820058 100%)}
.c32{background:linear-gradient(90deg,#45b1f8 0%,#41b7f8 5%,#3bbff8 10%,#32ccf7 15%,#27e2f0 20%,#29efd5 25%,#46f7a0 30%,#6cfa78 35%,#abf64b 40%,#deec2f 45%,#f9d31d 50%,#ffab10 55%,#fd800a 60%,#fb5c08 65%,#f53809 70%,#e91c10 75%,#d80e1d 80%,#c5052a 85%,#b00038 90%,#980048 95%,#840057 100%)}
.c33{background:linear-gradient(90deg,#3fb9f8 0%,#3bbff8 5%,#35c7f8 10%,#2ed3f6 15%,#27e6ec 20%,#2df1cc 25%,#51f992 30%,#7df96b 35%,#b8f543 40%,#e6ea2b 45%,#fccd1a 50%,#ffa40f 55%,#fc7909 60%,#fa5708 65%,#f43409 70%,#e71a11 75%,#d60d1e 80%,#c5052a 85%,#b10038 90%,#9a0047 95%,#860055 100%)}
.c34{background:linear-gradient(90deg,#3ac0f8 0%,#35c6f8 5%,#31cef7 10%,#2adaf5 15%,#26eae8 20%,#32f3c1 25%,#5dfa84 30%,#8ef85e 35%,#c6f33b 40%,#ede627 45%,#fdc618 50%,#fe9c0e 55%,#fc7209 60%,#f95108 65%,#f22f0a 70%,#e51813 75%,#d50c1f 80%,#c4052b 85%,#b10037 90%,#9b0046 95%,#880054 100%)}
.c35{background:linear-gradient(90deg,#34c8f8 0%,#31cef7 5%,#2dd5f6 10%,#28e0f2 15%,#27ece1 20%,#37f5b6 25%,#6ef976 30%,#9ef753 35%,#d1f036 40%,#f1e024 45%,#fdbf16 50%,#fe950c 55%,#fc6b09 60%,#f94b08 65%,#f12b0a 70%,#e31614 75%,#d30b20 80%,#c3052b 85%,#b10037 90%,#9d0045 95%,#8b0052 100%)}
.c36{background:linear-gradient(90deg,#30cff7 0%,#2dd5f6 5%,#29dcf4 10%,#27e4ee 15%,#29eeda 20%,#3ef6aa 25%,#81f968 30%,#aff649 35%,#dbed31 40%,#f5da20 45%,#feb713 50%,#fd8d0b 55%,#fb6408 60%,#f84508 65%,#ef270b 70%,#e11416 75%,#d10b21 80%,#c2052c 85%,#b20037 90%,#9e0044 95%,#8d0051 100%)}
.c37{background:linear-gradient(90deg,#2dd5f6 0%,#29dcf4 5%,#27e1f1 10%,#26e8ea 15%,#2af0d2 20%,#4bf89a 25%,#94f85a 30%,#c0f43f 35%,#e6ea2b 40%,#f9d31d 45%,#ffb011 50%,#fd840a 55%,#fb5c08 60%,#f73f08 65%,#ee220c 70%,#de1218 75%,#d00a23 80%,#c1042c 85%,#b20137 90%,#a00043 95%,#8f004f 100%)}
.c38{background:linear-gradient(90deg,#2adbf5 0%,#28e0f2 5%,#27e5ed 10%,#27ebe5 15%,#2ff2c8 20%,#57f98c 25%,#a5f64f 30%,#cef137 35%,#eee526 40%,#fccc19 45%,#ffa70f 50%,#fd7c0a 55%,#fa5608 60%,#f63908 65%,#eb1f0d 70%,#dc101a 75%,#ce0924 80%,#c1042d 85%,#b30136 90%,#a10042 95%,#91004d 100%)}
.c39{background:linear-gradient(90deg,#28dff3 0%,#27e3ef 5%,#26e8ea 10%,#28edde 15%,#34f4bd 20%,#65fa7d 25%,#b7f544 30%,#dbed30 35%,#f3dd22 40%,#fdc317 45%,#fe9e0e 50%,#fc7409 55%,#f94e08 60%,#f43309 65%,#e91c10 70%,#da0f1c 75%,#cc0825 80%,#c0042d 85%,#b30136 90%,#a30041 95%,#94004c 100%)}
.c40{background:linear-gradient(90deg,#28e0f2 0%,#27e5ed 5%,#26eae7 10%,#29eed9 15%,#37f5b5 20%,#73f973 25%,#c4f33d 30%,#e5ea2c 35%,#f7d71f 40%,#febc15 45%,#fe960d 50%,#fc6e09 55%,#f94908 60%,#f22f0a 65%,#e61a12 70%,#d80e1d 75%,#cb0726 80%,#bf042e 85%,#b30136 90%,#a40040 95%,#95004a 100%)}
.d0{background:linear-gradient(90deg,#788ffa 0%,#3fbaf8 5%,#28dff3 10%,#28edde 15%,#36f4b9 20%,#60fa81 25%,#98f857 30%,#c0f43f 35%,#deec2f 40%,#f4db21 45%,#febc15 50%,#fe8f0c 55%,#fb6508 60%,#f84208 65%,#f22d0a 70%,#e91d0f 75%,#de1219 80%,#d00a23 85%,#be042e 90%,#ac003b 95%,#9d0045 100%)}
.d1{background:linear-gradient(90deg,#778ffa 0%,#3ebaf8 5%,#28e0f2 10%,#28edde 15%,#36f4b8 20%,#60fa81 25%,#98f857 30%,#c0f43f 35%,#dfec2f 40%,#f4da21 45%,#febc15 50%,#fe8f0c 55%,#fb6508 60%,#f84208 65%,#f22d0a 70%,#e91d0f 75%,#de1219 80%,#d00a23 85%,#be042e 90%,#ac003b 95%,#9d0045 100%)}
.d2{background:linear-gradient(90deg,#7690fa 0%,#3ebbf8 5%,#28e0f2 10%,#28eddd 15%,#36f4b8 20%,#61fa81 25%,#98f857 30%,#c0f43f 35%,#dfec2f 40%,#f4da21 45%,#febb15 50%,#fe8f0c 55%,#fb6408 60%,#f84208 65%,#f22d0a 70%,#e91d0f 75%,#de1219 80%,#d00a23 85%,#be042e 90%,#ac003b 95%,#9d0045 100%)}
.d3{background:linear-gradient(90deg,#7591fa 0%,#3dbcf8 5%,#28e0f2 10%,#28eddd 15%,#36f5b7 20%,#62fa80 25%,#99f856 30%,#c1f43e 35%,#dfec2e 40%,#f5da20 45%,#febb14 50%,#fe8e0c 55%,#fb6408 60%,#f84208 65%,#f22d0a 70%,#e91d0f 75%,#de1219 80%,#d00a23 85%,#be042e 90%,#ac003b 95%,#9d0045 100%)}
.d4{background:linear-gradient(90deg,#7392fa 0%,#3cbdf8 5%,#28e1f1 10%,#28eddc 15%,#37f5b6 20%,#63fa7f 25%,#99f856 30%,#c1f43e 35%,#e0ec2e 40%,#f5da20 45%,#febb14 50%,#fe8e0c 55%,#fb6408 60%,#f84108 65%,#f22d0a 70%,#e91d0f 75%,#de1219 80%,#d00a23 85%,#be042e 90%,#ac003b 95%,#9d0045 100%)}
.d5{background:linear-gradient(90deg,#7193fa 0%,#3bbff8 5%,#27e1f1 10%,#28eedb 15%,#37f5b5 20%,#64fa7e 25%,#9af855 30%,#c2f43d 35%,#e0ec2e 40%,#f5d920 45%,#feba14 50%,#fd8e0b 55%,#fb6408 60%,#f84108 65%,#f22d0a 70%,#e91d0f 75%,#de1219 80%,#d00a23 85%,#bf042e 90%,#ac003b 95%,#9d0045 100%)}
.d6{background:linear-gradient(90deg,#6f94fa 0%,#3ac0f8 5%,#27e2f0 10%,#29eeda 15%,#38f5b4 20%,#65fa7d 25%,#9cf755 30%,#c3f33d 35%,#e1eb2e 40%,#f5d920 45%,#feba14 50%,#fd8d0b 55%,#fb6308 60%,#f84108 65%,#f22d0a 70%,#e91d0f 75%,#de1219 80%,#d00a23 85%,#bf042e 90%,#ac003a 95%,#9d0045 100%)}
.d7{background:linear-gradient(90deg,#6c95fa 0%,#38c2f8 5%,#27e3ef 10%,#29eed9 15%,#38f5b3 20%,#67fa7c 25%,#9df754 30%,#c5f33c 35%,#e2eb2d 40%,#f6d820 45%,#feb914 50%,#fd8d0b 55%,#fb6308 60%,#f84108 65%,#f22d0a 70%,#e91d0f 75%,#de1219 80%,#d00a23 85%,#bf042e 90%,#ac003a 95%,#9d0045 100%)}
.d8{background:linear-gradient(90deg,#6a96fa 0%,#37c4f8 5%,#27e4ee 10%,#29eed8 15%,#39f6b1 20%,#69fa7a 25%,#9ef753 30%,#c6f33b 35%,#e3eb2d 40%,#f6d81f 45%,#feb814 50%,#fd8c0b 55%,#fb6308 60%,#f84108 65%,#f22d0a 70%,#e91c0f 75%,#de1219 80%,#d00a23 85%,#bf042e 90%,#ad003a 95%,#9d0045 100%)}
.d9{background:linear-gradient(90deg,#6798fa 0%,#35c6f8 5%,#27e5ed 10%,#29efd6 15%,#3af6af 20%,#6bfa79 25%,#a0f752 30%,#c8f33a 35%,#e4ea2c 40%,#f7d71f 45%,#feb713 50%,#fd8b0b 55%,#fb6208 60%,#f84008 65%,#f22d0a 70%,#e91c0f 75%,#de1119 80%,#d00a23 85%,#bf042e 90%,#ad003a 95%,#9d0045 100%)}
.d10{background:linear-gradient(90deg,#6499fa 0%,#34c9f8 5%,#27e6ec 10%,#29efd5 15%,#3cf6ad 20%,#6df977 25%,#a2f751 30%,#c9f33a 35%,#e5ea2b 40%,#f7d61e 45%,#feb613 50%,#fd8a0b 55%,#fb6208 60%,#f74008 65%,#f12c0a 70%,#e91c0f 75%,#de1119 80%,#d00a23 85%,#bf042e 90%,#ad003a 95%,#9d0045 100%)}
.d11{background:linear-gradient(90deg,#619bfa 0%,#32cbf7 5%,#27e7eb 10%,#2af0d3 15%,#3ef6aa 20%,#70f975 25%,#a4f750 30%,#caf239 35%,#e6ea2b 40%,#f8d51e 45%,#feb513 50%,#fd890b 55%,#fb6108 60%,#f74008 65%,#f12c0a 70%,#e91c0f 75%,#de1119 80%,#cf0a23 85%,#bf042e 90%,#ad003a 95%,#9d0045 100%)}
.d12{background:linear-gradient(90deg,#5d9dfa 0%,#31cdf7 5%,#26e8ea 10%,#2af0d1 15%,#40f7a7 20%,#73f973 25%,#a6f64e 30%,#ccf238 35%,#e8e92a 40%,#f8d41d 45%,#feb412 50%,#fd880b 55%,#fb6008 60%,#f73f08 65%,#f12c0a 70%,#e91c0f 75%,#dd1119 80%,#cf0a23 85%,#bf042e 90%,#ad003a 95%,#9d0045 100%)}
.d13{background:linear-gradient(90deg,#5a9ffa 0%,#30d0f7 5%,#26e9e9 10%,#2cf1ce 15%,#43f7a4 20%,#76f970 25%,#a8f64d 30%,#cdf137 35%,#e9e929 40%,#f9d31d 45%,#feb312 50%,#fd870a 55%,#fb6008 60%,#f73f08 65%,#f12c0a 70%,#e91c0f 75%,#dd1119 80%,#cf0a23 85%,#bf042e 90%,#ad003a 95%,#9e0045 100%)}
.d14{background:linear-gradient(90deg,#57a2f9 0%,#2ed2f6 5%,#26eae7 10%,#2df1cb 15%,#46f7a1 20%,#79f96e 25%,#abf64b 30%,#cff136 35%,#ebe829 40%,#fad21c 45%,#feb212 50%,#fd860a 55%,#fb5f08 60%,#f73f08 65%,#f12c0a 70%,#e91c0f 75%,#dd1119 80%,#cf0a23 85%,#bf042e 90%,#ad003a 95%,#9e0045 100%)}
.d15{background:linear-gradient(90deg,#53a5f9 0%,#2dd5f6 5%,#27ebe5 10%,#2ff2c8 15%,#48f89d 20%,#7df96b 25%,#aef64a 30%,#d1f035 35%,#ece728 40%,#fad11c 45%,#ffb011 50%,#fd850a 55%,#fb5e08 60%,#f73e08 65%,#f12b0a 70%,#e91c10 75%,#dd1119 80%,#cf0a23 85%,#bf042e 90%,#ae003a 95%,#9e0045 100%)}
.d16{background:linear-gradient(90deg,#50a8f9 0%,#2bd8f5 5%,#27ece2 10%,#30f2c4 15%,#4bf89a 20%,#80f968 25%,#b1f548 30%,#d3f034 35%,#ede627 40%,#fbd01b 45%,#ffaf11 50%,#fd830a 55%,#fb5d08 60%,#f73e08 65%,#f12b0a 70%,#e91c10 75%,#dd1119 80%,#cf0a23 85%,#bf042e 90%,#ae003a 95%,#9e0044 100%)}
.d17{background:linear-gradient(90deg,#4cabf8 0%,#2adbf5 5%,#28ece0 10%,#32f3c0 15%,#4ff896 20%,#84f965 25%,#b4f546 30%,#d5ef33 35%,#eee526 40%,#fcce1a 45%,#ffad10 50%,#fd820a 55%,#fb5c08 60%,#f73d08 65%,#f12b0a 70%,#e81c10 75%,#dd1119 80%,#cf0a23 85%,#bf042e 90%,#ae0039 95%,#9e0044 100%)}
.d18{background:linear-gradient(90deg,#48aef8 0%,#28def4 5%,#28eddd 10%,#34f4bd 15%,#52f992 20%,#88f862 25%,#b7f544 30%,#d8ee32 35%,#efe325 40%,#fccc19 45%,#ffab10 50%,#fd800a 55%,#fb5b08 60%,#f73d08 65%,#f12a0b 70%,#e81c10 75%,#dd1119 80%,#cf0a23 85%,#bf042e 90%,#ae0039 95%,#9e0044 100%)}
.d19{background:linear-gradient(90deg,#44b2f8 0%,#28e0f2 5%,#29eeda 10%,#36f4b9 15%,#56f98d 20%,#8df85f 25%,#baf442 30%,#daee31 35%,#f0e124 40%,#fcca19 45%,#ffa910 50%,#fd7f0a 55%,#fb5a08 60%,#f73c08 65%,#f12a0b 70%,#e81c10 75%,#dd1119 80%,#cf0a23 85%,#c0042e 90%,#ae0039 95%,#9f0044 100%)}
.d20{background:linear-gradient(90deg,#41b6f8 0%,#27e2f0 5%,#29efd7 10%,#38f5b4 15%,#59f989 20%,#91f85c 25%,#bef440 30%,#dced30 35%,#f1e024 40%,#fdc818 45%,#ffa70f 50%,#fd7d0a 55%,#fa5908 60%,#f73c08 65%,#f02a0b 70%,#e81b10 75%,#dd1119 80%,#cf0a23 85%,#c0042e 90%,#af0039 95%,#9f0044 100%)}
.d21{background:linear-gradient(90deg,#3ebbf8 0%,#27e4ee 5%,#2af0d3 10%,#3af6b0 15%,#5dfa84 20%,#96f858 25%,#c2f43e 30%,#dfec2e 35%,#f2de23 40%,#fdc618 45%,#ffa50f 50%,#fd7b0a 55%,#fa5808 60%,#f73b08 65%,#f0290b 70%,#e81b10 75%,#dd1119 80%,#cf0a23 85%,#c0042d 90%,#af0039 95%,#9f0044 100%)}
.d22{background:linear-gradient(90deg,#3bbff8 0%,#27e6ec 5%,#2bf0cf 10%,#3ef6aa 15%,#62fa80 20%,#9bf855 25%,#c6f33b 30%,#e2eb2d 35%,#f3dc22 40%,#fdc417 45%,#ffa20f 50%,#fc7a09 55%,#fa5708 60%,#f63a08 65%,#f0290b 70%,#e81b10 75%,#dd1119 80%,#cf0a23 85%,#c0042d 90%,#af0039 95%,#9f0044 100%)}
.d23{background:linear-gradient(90deg,#37c4f8 0%,#26e8ea 5%,#2ef1ca 10%,#43f7a4 15%,#68fa7b 20%,#9ff752 25%,#caf339 30%,#e5ea2c 35%,#f5da20 40%,#fdc116 45%,#fea00e 50%,#fc7809 55%,#fa5608 60%,#f63a08 65%,#f0290b 70%,#e81b10 75%,#dd1119 80%,#cf0a23 85%,#c0042d 90%,#af0038 95%,#a00043 100%)}
.d24{background:linear-gradient(90deg,#34c8f8 0%,#26eae8 5%,#30f2c4 10%,#48f79e 15%,#6ff976 20%,#a4f74f 25%,#cdf238 30%,#e8e92a 35%,#f6d81f 40%,#fdbf15 45%,#fe9d0e 50%,#fc7609 55%,#fa5508 60%,#f63908 65%,#f0280b 70%,#e81b10 75%,#dd111a 80%,#cf0a23 85%,#c0042d 90%,#b00038 95%,#a00043 100%)}
.d25{background:linear-gradient(90deg,#31cdf7 0%,#27ebe4 5%,#33f3be 10%,#4df898 15%,#75f971 20%,#a9f64c 25%,#d0f136 30%,#ebe829 35%,#f7d61e 40%,#febc15 45%,#fe9a0d 50%,#fc7409 55%,#fa5408 60%,#f63908 65%,#f0280b 70%,#e71b11 75%,#dc101a 80%,#cf0a23 85%,#c0042d 90%,#b00038 95%,#a00043 100%)}
.d26{background:linear-gradient(90deg,#2fd1f6 0%,#27ece0 5%,#36f4b8 10%,#53f991 15%,#7cf96c 20%,#aff649 25%,#d3f034 30%,#ede627 35%,#f9d41d 40%,#feb914 45%,#fe970d 50%,#fc7209 55%,#fa5208 60%,#f63809 65%,#f0270b 70%,#e71b11 75%,#dc101a 80%,#cf0a23 85%,#c0042d 90%,#b00038 95%,#a00043 100%)}
.d27{background:linear-gradient(90deg,#2dd6f6 0%,#28eddc 5%,#38f5b2 10%,#58f98a 15%,#83f966 20%,#b4f546 25%,#d7ee33 30%,#eee426 35%,#fad11c 40%,#feb613 45%,#fe940c 50%,#fc6f09 55%,#f95108 60%,#f53709 65%,#ef270b 70%,#e71a11 75%,#dc101a 80%,#cf0a23 85%,#c1042d 90%,#b00038 95%,#a10043 100%)}
.d28{background:linear-gradient(90deg,#2adaf5 0%,#29eed8 5%,#3df6ab 10%,#5efa83 15%,#8bf861 20%,#baf442 25%,#dbed31 30%,#f0e124 35%,#fbcf1a 40%,#feb312 45%,#fe910c 50%,#fc6d09 55%,#f95008 60%,#f53709 65%,#ef260b 70%,#e71a11 75%,#dc101a 80%,#cf0a23 85%,#c1042d 90%,#b10037 95%,#a10042 100%)}
.d29{background:linear-gradient(90deg,#28dff3 0%,#2af0d4 5%,#44f7a3 10%,#66fa7c 15%,#92f85b 20%,#c0f43f 25%,#dfec2f 30%,#f2df23 35%,#fccc19 40%,#ffb011 45%,#fd8e0b 50%,#fc6b09 55%,#f94e08 60%,#f53609 65%,#ef260b 70%,#e71a11 75%,#dc101a 80%,#cf0a23 85%,#c1042d 90%,#b10037 95%,#a10042 100%)}
.d30{background:linear-gradient(90deg,#27e1f1 0%,#2cf1ce 5%,#4bf89b 10%,#70f975 15%,#9af856 20%,#c6f33b 25%,#e2eb2d 30%,#f3dc22 35%,#fcc818 40%,#ffad10 45%,#fd8b0b 50%,#fc6809 55%,#f94d08 60%,#f53509 65%,#ef250b 70%,#e71a11 75%,#dc101a 80%,#cf0a23 85%,#c1042d 90%,#b10037 95%,#a20042 100%)}
.d31{background:linear-gradient(90deg,#27e4ee 0%,#2ff2c6 5%,#52f992 10%,#79f96e 15%,#a1f751 20%,#cbf239 25%,#e7ea2b 30%,#f5d920 35%,#fdc517 40%,#ffa910 45%,#fd870a 50%,#fb6608 55%,#f94b08 60%,#f43409 65%,#ef250b 70%,#e61a11 75%,#dc101a 80%,#cf0a23 85%,#c1042c 90%,#b20037 95%,#a20042 100%)}
.d32{background:linear-gradient(90deg,#27e7eb 0%,#33f3bf 5%,#59f989 10%,#82f967 15%,#a9f64d 20%,#d0f136 25%,#ebe829 30%,#f7d61f 35%,#fdc116 40%,#ffa50f 45%,#fd840a 50%,#fb6308 55%,#f94908 60%,#f43409 65%,#ee240b 70%,#e61a12 75%,#dc101a 80%,#cf0a23 85%,#c1042c 90%,#b20137 95%,#a20041 100%)}
.d33{background:linear-gradient(90deg,#26eae8 0%,#36f5b8 5%,#61fa80 10%,#8cf85f 15%,#b0f548 20%,#d4ef34 25%,#ede627 30%,#f9d31d 35%,#fdbe15 40%,#fea10e 45%,#fd800a 50%,#fb6108 55%,#f84808 60%,#f43309 65%,#ee230c 70%,#e61912 75%,#db101a 80%,#cf0a23 85%,#c2042c 90%,#b20136 95%,#a30041 100%)}
.d34{background:linear-gradient(90deg,#27ebe3 0%,#3af6b0 5%,#6df977 10%,#96f858 15%,#b8f543 20%,#d9ee31 25%,#efe325 30%,#fbd01b 35%,#feba14 40%,#fe9d0e 45%,#fd7c0a 50%,#fb5e08 55%,#f84608 60%,#f33209 65%,#ee230c 70%,#e61912 75%,#db101b 80%,#cf0a23 85%,#c2042c 90%,#b30136 95%,#a30041 100%)}
.d35{background:linear-gradient(90deg,#28edde 0%,#41f7a6 5%,#78f96f 10%,#a0f752 15%,#c0f43f 20%,#deec2f 25%,#f1df23 30%,#fccd1a 35%,#feb613 40%,#fe990d 45%,#fc7909 50%,#fb5b08 55%,#f84408 60%,#f3310a 65%,#ee220c 70%,#e61912 75%,#db101b 80%,#cf0923 85%,#c2052c 90%,#b30136 95%,#a30041 100%)}
.d36{background:linear-gradient(90deg,#29eed9 0%,#4af89c 5%,#84f966 10%,#a9f64c 15%,#c8f33a 20%,#e3eb2c 25%,#f4dc21 30%,#fcc918 35%,#feb212 40%,#fe940c 45%,#fc7509 50%,#fa5908 55%,#f84208 60%,#f3300a 65%,#ee210c 70%,#e51912 75%,#db0f1b 80%,#cf0923 85%,#c2052c 90%,#b40136 95%,#a40040 100%)}
.d37{background:linear-gradient(90deg,#2af0d3 0%,#52f991 5%,#90f85c 10%,#b3f547 15%,#cff137 20%,#e9e92a 25%,#f6d820 30%,#fdc417 35%,#ffae10 40%,#fe900c 45%,#fc7109 50%,#fa5608 55%,#f84108 60%,#f22f0a 65%,#ed210c 70%,#e51913 75%,#db0f1b 80%,#cf0923 85%,#c2052c 90%,#b40135 95%,#a40040 100%)}
.d38{background:linear-gradient(90deg,#2df1cb 0%,#5bfa87 5%,#9cf754 10%,#bdf441 15%,#d5ef34 20%,#ede627 25%,#f8d51e 30%,#fdc016 35%,#ffa910 40%,#fd8b0b 45%,#fc6d09 50%,#fa5308 55%,#f73f08 60%,#f22e0a 65%,#ed200c 70%,#e51813 75%,#da0f1b 80%,#cf0923 85%,#c3052c 90%,#b40135 95%,#a50040 100%)}
.d39{background:linear-gradient(90deg,#31f3c2 0%,#66fa7c 5%,#a7f64e 10%,#c7f33a 15%,#dbed30 20%,#efe225 25%,#fad11c 30%,#febb14 35%,#ffa40f 40%,#fd860a 45%,#fc6909 50%,#f95008 55%,#f73d08 60%,#f22d0a 65%,#ed200c 70%,#e51813 75%,#da0f1b 80%,#cf0923 85%,#c3052b 90%,#b50135 95%,#a50040 100%)}
.d40{background:linear-gradient(90deg,#35f4ba 0%,#71f974 5%,#b0f548 10%,#cdf137 15%,#e0ec2e 20%,#f1df23 25%,#fcce1a 30%,#feb713 35%,#fea00e 40%,#fd820a 45%,#fb6608 50%,#f94e08 55%,#f73b08 60%,#f22d0a 65%,#ec1f0d 70%,#e41813 75%,#da0f1b 80%,#cf0923 85%,#c3052b 90%,#b50135 95%,#a5003f 100%)}
</style></head><body><div id="f">
<i class="a0" style="left:136.1px;width:76.3px;top:252.2px;height:3.6px"></i>
<i class="a0" style="left:136.1px;width:76.3px;top:255.2px;height:3.6px"></i>
<i class="a1" style="left:136.1px;width:76.3px;top:249.2px;height:3.6px"></i>
<i class="a1" style="left:136.1px;width:76.3px;top:258.2px;height:3.6px"></i>
<i class="a2" style="left:136.1px;width:76.3px;top:246.2px;height:3.6px"></i>
<i class="a2" style="left:136.1px;width:76.3px;top:261.2px;height:3.6px"></i>
<i class="a3" style="left:136.1px;width:76.3px;top:243.2px;height:3.6px"></i>
<i class="a3" style="left:136.1px;width:76.3px;top:264.2px;height:3.6px"></i>
<i class="a4" style="left:136.1px;width:76.3px;top:240.2px;height:3.6px"></i>
<i class="a4" style="left:136.1px;width:76.3px;top:267.2px;height:3.6px"></i>
<i class="a5" style="left:136.1px;width:76.3px;top:237.2px;height:3.6px"></i>
<i class="a5" style="left:136.1px;width:76.3px;top:270.2px;height:3.6px"></i>
<i class="a6" style="left:136.1px;width:76.3px;top:234.2px;height:3.6px"></i>
<i class="a6" style="left:136.1px;width:76.3px;top:273.2px;height:3.6px"></i>
<i class="a7" style="left:136.1px;width:76.3px;top:231.2px;height:3.6px"></i>
<i class="a7" style="left:136.1px;width:76.3px;top:276.2px;height:3.6px"></i>
<i class="a8" style="left:136.1px;width:76.3px;top:228.2px;height:3.6px"></i>
<i class="a8" style="left:136.1px;width:76.3px;top:279.2px;height:3.6px"></i>
<i class="a9" style="left:136.1px;width:76.3px;top:225.2px;height:3.6px"></i>
<i class="a9" style="left:136.1px;width:76.3px;top:282.2px;height:3.6px"></i>
<i class="a10" style="left:136.1px;width:76.3px;top:222.2px;height:3.6px"></i>
<i class="a10" style="left:136.1px;width:76.3px;top:285.2px;height:3.6px"></i>
<i class="a11" style="left:136.1px;width:76.3px;top:219.2px;height:3.6px"></i>
<i class="a11" style="left:136.1px;width:76.3px;top:288.2px;height:3.6px"></i>
<i class="a12" style="left:136.1px;width:76.3px;top:216.2px;height:3.6px"></i>
<i class="a12" style="left:136.1px;width:76.3px;top:291.2px;height:3.6px"></i>
<i class="a13" style="left:136.1px;width:76.3px;top:213.2px;height:3.6px"></i>
<i class="a13" style="left:136.1px;width:76.3px;top:294.2px;height:3.6px"></i>
<i class="a14" style="left:136.1px;width:76.3px;top:210.2px;height:3.6px"></i>
<i class="a14" style="left:136.1px;width:76.3px;top:297.2px;height:3.6px"></i>
<i class="a15" style="left:136.1px;width:76.3px;top:207.2px;height:3.6px"></i>
<i class="a15" style="left:136.1px;width:76.3px;top:300.2px;height:3.6px"></i>
<i class="a16" style="left:136.1px;width:76.3px;top:204.2px;height:3.6px"></i>
<i class="a16" style="left:136.1px;width:76.3px;top:303.2px;height:3.6px"></i>
<i class="a17" style="left:136.1px;width:76.3px;top:201.2px;height:3.6px"></i>
<i class="a17" style="left:136.1px;width:76.3px;top:306.2px;height:3.6px"></i>
<i class="a18" style="left:136.1px;width:76.3px;top:198.2px;height:3.6px"></i>
<i class="a18" style="left:136.1px;width:76.3px;top:309.2px;height:3.6px"></i>
<i class="a19" style="left:136.1px;width:76.3px;top:195.2px;height:3.6px"></i>
<i class="a19" style="left:136.1px;width:76.3px;top:312.2px;height:3.6px"></i>
<i class="a20" style="left:136.1px;width:76.3px;top:192.2px;height:3.6px"></i>
<i class="a20" style="left:136.1px;width:76.3px;top:315.2px;height:3.6px"></i>
<i class="a21" style="left:136.1px;width:76.3px;top:189.2px;height:3.6px"></i>
<i class="a21" style="left:136.1px;width:76.3px;top:318.2px;height:3.6px"></i>
<i class="a22" style="left:136.1px;width:76.3px;top:186.2px;height:3.6px"></i>
<i class="a22" style="left:136.1px;width:76.3px;top:321.2px;height:3.6px"></i>
<i class="a23" style="left:136.1px;width:76.3px;top:183.2px;height:3.6px"></i>
<i class="a23" style="left:136.1px;width:76.3px;top:324.2px;height:3.6px"></i>
<i class="a24" style="left:136.1px;width:76.3px;top:180.2px;height:3.6px"></i>
<i class="a24" style="left:136.1px;width:76.3px;top:327.2px;height:3.6px"></i>
<i class="a25" style="left:136.1px;width:76.3px;top:177.2px;height:3.6px"></i>
<i class="a25" style="left:136.1px;width:76.3px;top:330.2px;height:3.6px"></i>
<i class="a26" style="left:136.1px;width:76.3px;top:174.2px;height:3.6px"></i>
<i class="a26" style="left:136.1px;width:76.3px;top:333.2px;height:3.6px"></i>
<i class="a27" style="left:136.1px;width:76.3px;top:171.2px;height:3.6px"></i>
<i class="a27" style="left:136.1px;width:76.3px;top:336.2px;height:3.6px"></i>
<i class="a28" style="left:136.1px;width:76.3px;top:168.2px;height:3.6px"></i>
<i class="a28" style="left:136.1px;width:76.3px;top:339.2px;height:3.6px"></i>
<i class="a29" style="left:136.1px;width:76.3px;top:165.2px;height:3.6px"></i>
<i class="a29" style="left:136.1px;width:76.3px;top:342.2px;height:3.6px"></i>
<i class="a30" style="left:136.1px;width:76.3px;top:162.2px;height:3.6px"></i>
<i class="a30" style="left:136.1px;width:76.3px;top:345.2px;height:3.6px"></i>
<i class="a31" style="left:136.1px;width:76.3px;top:159.2px;height:3.6px"></i>
<i class="a31" style="left:136.1px;width:76.3px;top:348.2px;height:3.6px"></i>
<i class="a32" style="left:136.1px;width:76.3px;top:156.2px;height:3.6px"></i>
<i class="a32" style="left:136.1px;width:76.3px;top:351.2px;height:3.6px"></i>
<i class="a33" style="left:136.1px;width:76.3px;top:153.2px;height:3.6px"></i>
<i class="a33" style="left:136.1px;width:76.3px;top:354.2px;height:3.6px"></i>
<i class="a34" style="left:136.1px;width:76.3px;top:150.2px;height:3.6px"></i>
<i class="a34" style="left:136.1px;width:76.3px;top:357.2px;height:3.6px"></i>
<i class="a35" style="left:136.1px;width:76.3px;top:147.2px;height:3.6px"></i>
<i class="a35" style="left:136.1px;width:76.3px;top:360.2px;height:3.6px"></i>
<i class="a36" style="left:136.1px;width:76.3px;top:144.2px;height:3.6px"></i>
<i class="a36" style="left:136.1px;width:76.3px;top:363.2px;height:3.6px"></i>
<i class="a37" style="left:136.1px;width:76.3px;top:141.2px;height:3.6px"></i>
<i class="a37" style="left:136.1px;width:76.3px;top:366.2px;height:3.6px"></i>
<i class="a38" style="left:136.1px;width:76.3px;top:138.2px;height:3.6px"></i>
<i class="a38" style="left:136.1px;width:76.3px;top:369.2px;height:3.6px"></i>
<i class="a39" style="left:136.1px;width:76.3px;top:135.2px;height:3.6px"></i>
<i class="a39" style="left:136.1px;width:76.3px;top:372.2px;height:3.6px"></i>
<i class="a40" style="left:136.1px;width:76.3px;top:132.6px;height:3.2px"></i>
<i class="a40" style="left:136.1px;width:76.3px;top:375.2px;height:3.2px"></i>
<i class="b0" style="left:553.8px;width:76.8px;top:250.5px;height:3.6px"></i>
<i class="b0" style="left:553.8px;width:76.8px;top:253.5px;height:3.6px"></i>
<i class="b1" style="left:553.8px;width:76.8px;top:247.5px;height:3.6px"></i>
<i class="b1" style="left:553.8px;width:76.8px;top:256.5px;height:3.6px"></i>
<i class="b2" style="left:553.8px;width:76.8px;top:244.5px;height:3.6px"></i>
<i class="b2" style="left:553.8px;width:76.8px;top:259.5px;height:3.6px"></i>
<i class="b3" style="left:553.8px;width:76.8px;top:241.5px;height:3.6px"></i>
<i class="b3" style="left:553.8px;width:76.8px;top:262.5px;height:3.6px"></i>
<i class="b4" style="left:553.8px;width:76.8px;top:238.5px;height:3.6px"></i>
<i class="b4" style="left:553.8px;width:76.8px;top:265.5px;height:3.6px"></i>
<i class="b5" style="left:553.8px;width:76.8px;top:235.5px;height:3.6px"></i>
<i class="b5" style="left:553.8px;width:76.8px;top:268.5px;height:3.6px"></i>
<i class="b6" style="left:553.8px;width:76.8px;top:232.5px;height:3.6px"></i>
<i class="b6" style="left:553.8px;width:76.8px;top:271.5px;height:3.6px"></i>
<i class="b7" style="left:553.8px;width:76.8px;top:229.5px;height:3.6px"></i>
<i class="b7" style="left:553.8px;width:76.8px;top:274.5px;height:3.6px"></i>
<i class="b8" style="left:553.8px;width:76.8px;top:226.5px;height:3.6px"></i>
<i class="b8" style="left:553.8px;width:76.8px;top:277.5px;height:3.6px"></i>
<i class="b9" style="left:553.8px;width:76.8px;top:223.5px;height:3.6px"></i>
<i class="b9" style="left:553.8px;width:76.8px;top:280.5px;height:3.6px"></i>
<i class="b10" style="left:553.8px;width:76.8px;top:220.5px;height:3.6px"></i>
<i class="b10" style="left:553.8px;width:76.8px;top:283.5px;height:3.6px"></i>
<i class="b11" style="left:553.8px;width:76.8px;top:217.5px;height:3.6px"></i>
<i class="b11" style="left:553.8px;width:76.8px;top:286.5px;height:3.6px"></i>
<i class="b12" style="left:553.8px;width:76.8px;top:214.5px;height:3.6px"></i>
<i class="b12" style="left:553.8px;width:76.8px;top:289.5px;height:3.6px"></i>
<i class="b13" style="left:553.8px;width:76.8px;top:211.5px;height:3.6px"></i>
<i class="b13" style="left:553.8px;width:76.8px;top:292.5px;height:3.6px"></i>
<i class="b14" style="left:553.8px;width:76.8px;top:208.5px;height:3.6px"></i>
<i class="b14" style="left:553.8px;width:76.8px;top:295.5px;height:3.6px"></i>
<i class="b15" style="left:553.8px;width:76.8px;top:205.5px;height:3.6px"></i>
<i class="b15" style="left:553.8px;width:76.8px;top:298.5px;height:3.6px"></i>
<i class="b16" style="left:553.8px;width:76.8px;top:202.5px;height:3.6px"></i>
<i class="b16" style="left:553.8px;width:76.8px;top:301.5px;height:3.6px"></i>
<i class="b17" style="left:553.8px;width:76.8px;top:199.5px;height:3.6px"></i>
<i class="b17" style="left:553.8px;width:76.8px;top:304.5px;height:3.6px"></i>
<i class="b18" style="left:553.8px;width:76.8px;top:196.5px;height:3.6px"></i>
<i class="b18" style="left:553.8px;width:76.8px;top:307.5px;height:3.6px"></i>
<i class="b19" style="left:553.8px;width:76.8px;top:193.5px;height:3.6px"></i>
<i class="b19" style="left:553.8px;width:76.8px;top:310.5px;height:3.6px"></i>
<i class="b20" style="left:553.8px;width:76.8px;top:190.5px;height:3.6px"></i>
<i class="b20" style="left:553.8px;width:76.8px;top:313.5px;height:3.6px"></i>
<i class="b21" style="left:553.8px;width:76.8px;top:187.5px;height:3.6px"></i>
<i class="b21" style="left:553.8px;width:76.8px;top:316.5px;height:3.6px"></i>
<i class="b22" style="left:553.8px;width:76.8px;top:184.5px;height:3.6px"></i>
<i class="b22" style="left:553.8px;width:76.8px;top:319.5px;height:3.6px"></i>
<i class="b23" style="left:553.8px;width:76.8px;top:181.5px;height:3.6px"></i>
<i class="b23" style="left:553.8px;width:76.8px;top:322.5px;height:3.6px"></i>
<i class="b24" style="left:553.8px;width:76.8px;top:178.5px;height:3.6px"></i>
<i class="b24" style="left:553.8px;width:76.8px;top:325.5px;height:3.6px"></i>
<i class="b25" style="left:553.8px;width:76.8px;top:175.5px;height:3.6px"></i>
<i class="b25" style="left:553.8px;width:76.8px;top:328.5px;height:3.6px"></i>
<i class="b26" style="left:553.8px;width:76.8px;top:172.5px;height:3.6px"></i>
<i class="b26" style="left:553.8px;width:76.8px;top:331.5px;height:3.6px"></i>
<i class="b27" style="left:553.8px;width:76.8px;top:169.5px;height:3.6px"></i>
<i class="b27" style="left:553.8px;width:76.8px;top:334.5px;height:3.6px"></i>
<i class="b28" style="left:553.8px;width:76.8px;top:166.5px;height:3.6px"></i>
<i class="b28" style="left:553.8px;width:76.8px;top:337.5px;height:3.6px"></i>
<i class="b29" style="left:553.8px;width:76.8px;top:163.5px;height:3.6px"></i>
<i class="b29" style="left:553.8px;width:76.8px;top:340.5px;height:3.6px"></i>
<i class="b30" style="left:553.8px;width:76.8px;top:160.5px;height:3.6px"></i>
<i class="b30" style="left:553.8px;width:76.8px;top:343.5px;height:3.6px"></i>
<i class="b31" style="left:553.8px;width:76.8px;top:157.5px;height:3.6px"></i>
<i class="b31" style="left:553.8px;width:76.8px;top:346.5px;height:3.6px"></i>
<i class="b32" style="left:553.8px;width:76.8px;top:154.5px;height:3.6px"></i>
<i class="b32" style="left:553.8px;width:76.8px;top:349.5px;height:3.6px"></i>
<i class="b33" style="left:553.8px;width:76.8px;top:151.5px;height:3.6px"></i>
<i class="b33" style="left:553.8px;width:76.8px;top:352.5px;height:3.6px"></i>
<i class="b34" style="left:553.8px;width:76.8px;top:148.5px;height:3.6px"></i>
<i class="b34" style="left:553.8px;width:76.8px;top:355.5px;height:3.6px"></i>
<i class="b35" style="left:553.8px;width:76.8px;top:145.5px;height:3.6px"></i>
<i class="b35" style="left:553.8px;width:76.8px;top:358.5px;height:3.6px"></i>
<i class="b36" style="left:553.8px;width:76.8px;top:142.5px;height:3.6px"></i>
<i class="b36" style="left:553.8px;width:76.8px;top:361.5px;height:3.6px"></i>
<i class="b37" style="left:553.8px;width:76.8px;top:139.5px;height:3.6px"></i>
<i class="b37" style="left:553.8px;width:76.8px;top:364.5px;height:3.6px"></i>
<i class="b38" style="left:553.8px;width:76.8px;top:136.5px;height:3.6px"></i>
<i class="b38" style="left:553.8px;width:76.8px;top:367.5px;height:3.6px"></i>
<i class="b39" style="left:553.8px;width:76.8px;top:133.5px;height:3.6px"></i>
<i class="b39" style="left:553.8px;width:76.8px;top:370.5px;height:3.6px"></i>
<i class="b40" style="left:553.8px;width:76.8px;top:130.5px;height:3.6px"></i>
<i class="b40" style="left:553.8px;width:76.8px;top:373.5px;height:3.6px"></i>
<i class="b41" style="left:553.8px;width:76.8px;top:129.0px;height:2.1px"></i>
<i class="b41" style="left:553.8px;width:76.8px;top:376.5px;height:2.1px"></i>
<i class="c0" style="left:135.3px;width:151.4px;top:766.4px;height:3.6px"></i>
<i class="c0" style="left:135.3px;width:151.4px;top:769.4px;height:3.6px"></i>
<i class="c1" style="left:135.3px;width:151.4px;top:763.4px;height:3.6px"></i>
<i class="c1" style="left:135.3px;width:151.4px;top:772.4px;height:3.6px"></i>
<i class="c2" style="left:135.3px;width:151.4px;top:760.4px;height:3.6px"></i>
<i class="c2" style="left:135.3px;width:151.4px;top:775.4px;height:3.6px"></i>
<i class="c3" style="left:135.3px;width:151.4px;top:757.4px;height:3.6px"></i>
<i class="c3" style="left:135.3px;width:151.4px;top:778.4px;height:3.6px"></i>
<i class="c4" style="left:135.3px;width:151.4px;top:754.4px;height:3.6px"></i>
<i class="c4" style="left:135.3px;width:151.4px;top:781.4px;height:3.6px"></i>
<i class="c5" style="left:135.3px;width:151.4px;top:751.4px;height:3.6px"></i>
<i class="c5" style="left:135.3px;width:151.4px;top:784.4px;height:3.6px"></i>
<i class="c6" style="left:135.3px;width:151.4px;top:748.4px;height:3.6px"></i>
<i class="c6" style="left:135.3px;width:151.4px;top:787.4px;height:3.6px"></i>
<i class="c7" style="left:135.3px;width:151.4px;top:745.4px;height:3.6px"></i>
<i class="c7" style="left:135.3px;width:151.4px;top:790.4px;height:3.6px"></i>
<i class="c8" style="left:135.3px;width:151.4px;top:742.4px;height:3.6px"></i>
<i class="c8" style="left:135.3px;width:151.4px;top:793.4px;height:3.6px"></i>
<i class="c9" style="left:135.3px;width:151.4px;top:739.4px;height:3.6px"></i>
<i class="c9" style="left:135.3px;width:151.4px;top:796.4px;height:3.6px"></i>
<i class="c10" style="left:135.3px;width:151.4px;top:736.4px;height:3.6px"></i>
<i class="c10" style="left:135.3px;width:151.4px;top:799.4px;height:3.6px"></i>
<i class="c11" style="left:135.3px;width:151.4px;top:733.4px;height:3.6px"></i>
<i class="c11" style="left:135.3px;width:151.4px;top:802.4px;height:3.6px"></i>
<i class="c12" style="left:135.3px;width:151.4px;top:730.4px;height:3.6px"></i>
<i class="c12" style="left:135.3px;width:151.4px;top:805.4px;height:3.6px"></i>
<i class="c13" style="left:135.3px;width:151.4px;top:727.4px;height:3.6px"></i>
<i class="c13" style="left:135.3px;width:151.4px;top:808.4px;height:3.6px"></i>
<i class="c14" style="left:135.3px;width:151.4px;top:724.4px;height:3.6px"></i>
<i class="c14" style="left:135.3px;width:151.4px;top:811.4px;height:3.6px"></i>
<i class="c15" style="left:135.3px;width:151.4px;top:721.4px;height:3.6px"></i>
<i class="c15" style="left:135.3px;width:151.4px;top:814.4px;height:3.6px"></i>
<i class="c16" style="left:135.3px;width:151.4px;top:718.4px;height:3.6px"></i>
<i class="c16" style="left:135.3px;width:151.4px;top:817.4px;height:3.6px"></i>
<i class="c17" style="left:135.3px;width:151.4px;top:715.4px;height:3.6px"></i>
<i class="c17" style="left:135.3px;width:151.4px;top:820.4px;height:3.6px"></i>
<i class="c18" style="left:135.3px;width:151.4px;top:712.4px;height:3.6px"></i>
<i class="c18" style="left:135.3px;width:151.4px;top:823.4px;height:3.6px"></i>
<i class="c19" style="left:135.3px;width:151.4px;top:709.4px;height:3.6px"></i>
<i class="c19" style="left:135.3px;width:151.4px;top:826.4px;height:3.6px"></i>
<i class="c20" style="left:135.3px;width:151.4px;top:706.4px;height:3.6px"></i>
<i class="c20" style="left:135.3px;width:151.4px;top:829.4px;height:3.6px"></i>
<i class="c21" style="left:135.3px;width:151.4px;top:703.4px;height:3.6px"></i>
<i class="c21" style="left:135.3px;width:151.4px;top:832.4px;height:3.6px"></i>
<i class="c22" style="left:135.3px;width:151.4px;top:700.4px;height:3.6px"></i>
<i class="c22" style="left:135.3px;width:151.4px;top:835.4px;height:3.6px"></i>
<i class="c23" style="left:135.3px;width:151.4px;top:697.4px;height:3.6px"></i>
<i class="c23" style="left:135.3px;width:151.4px;top:838.4px;height:3.6px"></i>
<i class="c24" style="left:135.3px;width:151.4px;top:694.4px;height:3.6px"></i>
<i class="c24" style="left:135.3px;width:151.4px;top:841.4px;height:3.6px"></i>
<i class="c25" style="left:135.3px;width:151.4px;top:691.4px;height:3.6px"></i>
<i class="c25" style="left:135.3px;width:151.4px;top:844.4px;height:3.6px"></i>
<i class="c26" style="left:135.3px;width:151.4px;top:688.4px;height:3.6px"></i>
<i class="c26" style="left:135.3px;width:151.4px;top:847.4px;height:3.6px"></i>
<i class="c27" style="left:135.3px;width:151.4px;top:685.4px;height:3.6px"></i>
<i class="c27" style="left:135.3px;width:151.4px;top:850.4px;height:3.6px"></i>
<i class="c28" style="left:135.3px;width:151.4px;top:682.4px;height:3.6px"></i>
<i class="c28" style="left:135.3px;width:151.4px;top:853.4px;height:3.6px"></i>
<i class="c29" style="left:135.3px;width:151.4px;top:679.4px;height:3.6px"></i>
<i class="c29" style="left:135.3px;width:151.4px;top:856.4px;height:3.6px"></i>
<i class="c30" style="left:135.3px;width:151.4px;top:676.4px;height:3.6px"></i>
<i class="c30" style="left:135.3px;width:151.4px;top:859.4px;height:3.6px"></i>
<i class="c31" style="left:135.3px;width:151.4px;top:673.4px;height:3.6px"></i>
<i class="c31" style="left:135.3px;width:151.4px;top:862.4px;height:3.6px"></i>
<i class="c32" style="left:135.3px;width:151.4px;top:670.4px;height:3.6px"></i>
<i class="c32" style="left:135.3px;width:151.4px;top:865.4px;height:3.6px"></i>
<i class="c33" style="left:135.3px;width:151.4px;top:667.4px;height:3.6px"></i>
<i class="c33" style="left:135.3px;width:151.4px;top:868.4px;height:3.6px"></i>
<i class="c34" style="left:135.3px;width:151.4px;top:664.4px;height:3.6px"></i>
<i class="c34" style="left:135.3px;width:151.4px;top:871.4px;height:3.6px"></i>
<i class="c35" style="left:135.3px;width:151.4px;top:661.4px;height:3.6px"></i>
<i class="c35" style="left:135.3px;width:151.4px;top:874.4px;height:3.6px"></i>
<i class="c36" style="left:135.3px;width:151.4px;top:658.4px;height:3.6px"></i>
<i class="c36" style="left:135.3px;width:151.4px;top:877.4px;height:3.6px"></i>
<i class="c37" style="left:135.3px;width:151.4px;top:655.4px;height:3.6px"></i>
<i class="c37" style="left:135.3px;width:151.4px;top:880.4px;height:3.6px"></i>
<i class="c38" style="left:135.3px;width:151.4px;top:652.4px;height:3.6px"></i>
<i class="c38" style="left:135.3px;width:151.4px;top:883.4px;height:3.6px"></i>
<i class="c39" style="left:135.3px;width:151.4px;top:649.4px;height:3.6px"></i>
<i class="c39" style="left:135.3px;width:151.4px;top:886.4px;height:3.6px"></i>
<i class="c40" style="left:135.3px;width:151.4px;top:647.9px;height:2.0px"></i>
<i class="c40" style="left:135.3px;width:151.4px;top:889.4px;height:2.0px"></i>
<i class="d0" style="left:553.7px;width:152.5px;top:765.8px;height:3.6px"></i>
<i class="d0" style="left:553.7px;width:152.5px;top:768.8px;height:3.6px"></i>
<i class="d1" style="left:553.7px;width:152.5px;top:762.8px;height:3.6px"></i>
<i class="d1" style="left:553.7px;width:152.5px;top:771.8px;height:3.6px"></i>
<i class="d2" style="left:553.7px;width:152.5px;top:759.8px;height:3.6px"></i>
<i class="d2" style="left:553.7px;width:152.5px;top:774.8px;height:3.6px"></i>
<i class="d3" style="left:553.7px;width:152.5px;top:756.8px;height:3.6px"></i>
<i class="d3" style="left:553.7px;width:152.5px;top:777.8px;height:3.6px"></i>
<i class="d4" style="left:553.7px;width:152.5px;top:753.8px;height:3.6px"></i>
<i class="d4" style="left:553.7px;width:152.5px;top:780.8px;height:3.6px"></i>
<i class="d5" style="left:553.7px;width:152.5px;top:750.8px;height:3.6px"></i>
<i class="d5" style="left:553.7px;width:152.5px;top:783.8px;height:3.6px"></i>
<i class="d6" style="left:553.7px;width:152.5px;top:747.8px;height:3.6px"></i>
<i class="d6" style="left:553.7px;width:152.5px;top:786.8px;height:3.6px"></i>
<i class="d7" style="left:553.7px;width:152.5px;top:744.8px;height:3.6px"></i>
<i class="d7" style="left:553.7px;width:152.5px;top:789.8px;height:3.6px"></i>
<i class="d8" style="left:553.7px;width:152.5px;top:741.8px;height:3.6px"></i>
<i class="d8" style="left:553.7px;width:152.5px;top:792.8px;height:3.6px"></i>
<i class="d9" style="left:553.7px;width:152.5px;top:738.8px;height:3.6px"></i>
<i class="d9" style="left:553.7px;width:152.5px;top:795.8px;height:3.6px"></i>
<i class="d10" style="left:553.7px;width:152.5px;top:735.8px;height:3.6px"></i>
<i class="d10" style="left:553.7px;width:152.5px;top:798.8px;height:3.6px"></i>
<i class="d11" style="left:553.7px;width:152.5px;top:732.8px;height:3.6px"></i>
<i class="d11" style="left:553.7px;width:152.5px;top:801.8px;height:3.6px"></i>
<i class="d12" style="left:553.7px;width:152.5px;top:729.8px;height:3.6px"></i>
<i class="d12" style="left:553.7px;width:152.5px;top:804.8px;height:3.6px"></i>
<i class="d13" style="left:553.7px;width:152.5px;top:726.8px;height:3.6px"></i>
<i class="d13" style="left:553.7px;width:152.5px;top:807.8px;height:3.6px"></i>
<i class="d14" style="left:553.7px;width:152.5px;top:723.8px;height:3.6px"></i>
<i class="d14" style="left:553.7px;width:152.5px;top:810.8px;height:3.6px"></i>
<i class="d15" style="left:553.7px;width:152.5px;top:720.8px;height:3.6px"></i>
<i class="d15" style="left:553.7px;width:152.5px;top:813.8px;height:3.6px"></i>
<i class="d16" style="left:553.7px;width:152.5px;top:717.8px;height:3.6px"></i>
<i class="d16" style="left:553.7px;width:152.5px;top:816.8px;height:3.6px"></i>
<i class="d17" style="left:553.7px;width:152.5px;top:714.8px;height:3.6px"></i>
<i class="d17" style="left:553.7px;width:152.5px;top:819.8px;height:3.6px"></i>
<i class="d18" style="left:553.7px;width:152.5px;top:711.8px;height:3.6px"></i>
<i class="d18" style="left:553.7px;width:152.5px;top:822.8px;height:3.6px"></i>
<i class="d19" style="left:553.7px;width:152.5px;top:708.8px;height:3.6px"></i>
<i class="d19" style="left:553.7px;width:152.5px;top:825.8px;height:3.6px"></i>
<i class="d20" style="left:553.7px;width:152.5px;top:705.8px;height:3.6px"></i>
<i class="d20" style="left:553.7px;width:152.5px;top:828.8px;height:3.6px"></i>
<i class="d21" style="left:553.7px;width:152.5px;top:702.8px;height:3.6px"></i>
<i class="d21" style="left:553.7px;width:152.5px;top:831.8px;height:3.6px"></i>
<i class="d22" style="left:553.7px;width:152.5px;top:699.8px;height:3.6px"></i>
<i class="d22" style="left:553.7px;width:152.5px;top:834.8px;height:3.6px"></i>
<i class="d23" style="left:553.7px;width:152.5px;top:696.8px;height:3.6px"></i>
<i class="d23" style="left:553.7px;width:152.5px;top:837.8px;height:3.6px"></i>
<i class="d24" style="left:553.7px;width:152.5px;top:693.8px;height:3.6px"></i>
<i class="d24" style="left:553.7px;width:152.5px;top:840.8px;height:3.6px"></i>
<i class="d25" style="left:553.7px;width:152.5px;top:690.8px;height:3.6px"></i>
<i class="d25" style="left:553.7px;width:152.5px;top:843.8px;height:3.6px"></i>
<i class="d26" style="left:553.7px;width:152.5px;top:687.8px;height:3.6px"></i>
<i class="d26" style="left:553.7px;width:152.5px;top:846.8px;height:3.6px"></i>
<i class="d27" style="left:553.7px;width:152.5px;top:684.8px;height:3.6px"></i>
<i class="d27" style="left:553.7px;width:152.5px;top:849.8px;height:3.6px"></i>
<i class="d28" style="left:553.7px;width:152.5px;top:681.8px;height:3.6px"></i>
<i class="d28" style="left:553.7px;width:152.5px;top:852.8px;height:3.6px"></i>
<i class="d29" style="left:553.7px;width:152.5px;top:678.8px;height:3.6px"></i>
<i class="d29" style="left:553.7px;width:152.5px;top:855.8px;height:3.6px"></i>
<i class="d30" style="left:553.7px;width:152.5px;top:675.8px;height:3.6px"></i>
<i class="d30" style="left:553.7px;width:152.5px;top:858.8px;height:3.6px"></i>
<i class="d31" style="left:553.7px;width:152.5px;top:672.8px;height:3.6px"></i>
<i class="d31" style="left:553.7px;width:152.5px;top:861.8px;height:3.6px"></i>
<i class="d32" style="left:553.7px;width:152.5px;top:669.8px;height:3.6px"></i>
<i class="d32" style="left:553.7px;width:152.5px;top:864.8px;height:3.6px"></i>
<i class="d33" style="left:553.7px;width:152.5px;top:666.8px;height:3.6px"></i>
<i class="d33" style="left:553.7px;width:152.5px;top:867.8px;height:3.6px"></i>
<i class="d34" style="left:553.7px;width:152.5px;top:663.8px;height:3.6px"></i>
<i class="d34" style="left:553.7px;width:152.5px;top:870.8px;height:3.6px"></i>
<i class="d35" style="left:553.7px;width:152.5px;top:660.8px;height:3.6px"></i>
<i class="d35" style="left:553.7px;width:152.5px;top:873.8px;height:3.6px"></i>
<i class="d36" style="left:553.7px;width:152.5px;top:657.8px;height:3.6px"></i>
<i class="d36" style="left:553.7px;width:152.5px;top:876.8px;height:3.6px"></i>
<i class="d37" style="left:553.7px;width:152.5px;top:654.8px;height:3.6px"></i>
<i class="d37" style="left:553.7px;width:152.5px;top:879.8px;height:3.6px"></i>
<i class="d38" style="left:553.7px;width:152.5px;top:651.8px;height:3.6px"></i>
<i class="d38" style="left:553.7px;width:152.5px;top:882.8px;height:3.6px"></i>
<i class="d39" style="left:553.7px;width:152.5px;top:648.8px;height:3.6px"></i>
<i class="d39" style="left:553.7px;width:152.5px;top:885.8px;height:3.6px"></i>
<i class="d40" style="left:553.7px;width:152.5px;top:647.1px;height:2.3px"></i>
<i class="d40" style="left:553.7px;width:152.5px;top:888.8px;height:2.3px"></i>
<i style="left:846.2px;top:59.8px;width:58.7px;height:683.0px;background:linear-gradient(180deg,#6e0066 0%,#770060 1.67%,#80005a 3.33%,#8b0052 5%,#96004a 6.67%,#a30041 8.33%,#b00038 10%,#bc0330 11.67%,#c80628 13.33%,#d20b21 15%,#dc101a 16.67%,#e41813 18.33%,#ed200c 20%,#f22e0a 21.67%,#f73c08 23.33%,#f94d08 25%,#fb5e08 26.67%,#fc7109 28.33%,#fd840a 30%,#fe980d 31.67%,#ffac10 33.33%,#febd15 35%,#fcce1a 36.67%,#f4db21 38.33%,#ece828 40%,#daee31 41.67%,#c8f33a 43.33%,#aff649 45%,#96f858 46.67%,#7af96d 48.33%,#5ffa82 50%,#4cf898 51.67%,#3af6af 53.33%,#32f3c0 55%,#2af0d2 56.67%,#28eddd 58.33%,#26eae8 60%,#27e4ee 61.67%,#28def4 63.33%,#2ed3f6 65%,#34c8f8 66.67%,#3dbcf8 68.33%,#46b0f8 70%,#52a6f9 71.67%,#5e9cfa 73.33%,#6b96fa 75%,#788ffa 76.67%,#858cfa 78.33%,#928afa 80%,#9d8cf9 81.67%,#a88ff8 83.33%,#b098f7 85%,#b9a0f6 86.67%,#c1aaf6 88.33%,#c9b5f5 90%,#d0bff6 91.67%,#d7c9f6 93.33%,#ded2f7 95%,#e4dbf8 96.67%,#e9e2f9 98.33%,#eee9fa 100%)"></i>
<svg width="1025" height="1025" viewBox="0 0 1025 1025">
<clipPath id="clipa"><rect x="2.8" y="2.3" width="377.4" height="503.6"/></clipPath>
<g clip-path="url(#clipa)" fill="none" stroke="#000" stroke-width="2.3">
<path d="M13.0 2.3C13.0 5.6 13.0 8.9 13.0 12.2C13.0 15.5 13.0 18.8 13.0 22.0C13.0 25.3 13.0 28.6 13.0 31.9C13.0 35.2 13.0 38.5 13.0 41.8C13.0 45.1 13.0 48.4 13.0 51.7C13.0 55.0 13.0 58.2 13.0 61.5C13.0 64.8 13.0 68.1 13.0 71.4C13.0 74.7 13.0 78.0 13.0 81.3C13.0 84.6 13.0 87.9 13.0 91.2C13.0 94.5 13.0 97.7 13.0 101.0C13.0 104.3 13.0 107.6 13.0 110.9C13.0 114.2 13.0 117.5 13.0 120.8C13.0 124.1 13.0 127.4 13.0 130.7C13.0 133.9 13.0 137.2 13.0 140.5C13.0 143.8 13.0 147.1 13.0 150.4C13.0 153.7 13.0 157.0 13.0 160.3C13.0 163.6 13.0 166.9 13.0 170.2C13.0 173.4 13.0 176.7 13.0 180.0C13.0 183.3 13.0 186.6 13.0 189.9C13.0 193.2 13.0 196.5 13.0 199.8C13.0 203.1 13.0 206.4 13.0 209.6C13.0 212.9 13.0 216.2 13.0 219.5C13.0 222.8 13.0 226.1 13.0 229.4C13.0 232.7 13.0 236.0 13.0 239.3C13.0 242.6 13.0 245.8 13.0 249.1C13.0 252.4 13.0 255.7 13.0 259.0C13.0 262.3 13.0 265.6 13.0 268.9C13.0 272.2 13.0 275.5 13.0 278.8C13.0 282.1 13.0 285.3 13.0 288.6C13.0 291.9 13.0 295.2 13.0 298.5C13.0 301.8 13.0 305.1 13.0 308.4C13.0 311.7 13.0 315.0 13.0 318.3C13.0 321.5 13.0 324.8 13.0 328.1C13.0 331.4 13.0 334.7 13.0 338.0C13.0 341.3 13.0 344.6 13.0 347.9C13.0 351.2 13.0 354.5 13.0 357.7C13.0 361.0 13.0 364.3 13.0 367.6C13.0 370.9 13.0 374.2 13.0 377.5C13.0 380.8 13.0 384.1 13.0 387.4C13.0 390.7 13.0 393.9 13.0 397.2C13.0 400.5 13.0 403.8 13.0 407.1C13.0 410.4 13.0 413.7 13.0 417.0C13.0 420.3 13.0 423.6 13.0 426.9C13.0 430.2 13.0 433.4 13.0 436.7C13.0 440.0 13.0 443.3 13.0 446.6C13.0 449.9 13.0 453.2 13.0 456.5C13.0 459.8 13.0 463.1 13.0 466.4C13.0 469.6 13.0 472.9 13.0 476.2C13.0 479.5 13.0 482.8 13.0 486.1C13.0 489.4 13.0 492.7 13.0 496.0C13.0 499.3 13.0 502.6 13.0 505.9"/>
<path d="M35.0 2.3C35.0 5.6 35.0 8.9 35.0 12.2C35.0 15.5 35.1 18.8 35.1 22.0C35.1 25.3 35.2 28.6 35.2 31.9C35.2 35.2 35.3 38.5 35.3 41.8C35.4 45.1 35.5 48.4 35.6 51.7C35.7 55.0 35.9 58.2 36.0 61.5C36.2 64.8 36.3 68.1 36.5 71.4C36.7 74.7 36.9 78.0 37.0 81.3C37.2 84.6 37.4 87.9 37.6 91.2C37.7 94.5 37.9 97.7 38.1 101.0C38.3 104.3 38.5 107.6 38.7 110.9C38.9 114.2 39.1 117.5 39.3 120.8C39.5 124.1 39.7 127.4 39.9 130.7C40.0 133.9 40.2 137.2 40.4 140.5C40.5 143.8 40.7 147.1 40.8 150.4C41.0 153.7 41.1 157.0 41.2 160.3C41.4 163.6 41.5 166.9 41.6 170.2C41.8 173.4 41.9 176.7 42.0 180.0C42.1 183.3 42.2 186.6 42.3 189.9C42.5 193.2 42.6 196.5 42.7 199.8C42.8 203.1 42.9 206.4 43.0 209.6C43.1 212.9 43.1 216.2 43.2 219.5C43.3 222.8 43.3 226.1 43.4 229.4C43.4 232.7 43.5 236.0 43.5 239.3C43.5 242.6 43.6 245.8 43.6 249.1C43.6 252.4 43.6 255.7 43.6 259.0C43.6 262.3 43.6 265.6 43.5 268.9C43.5 272.2 43.5 275.5 43.4 278.8C43.4 282.1 43.3 285.3 43.3 288.6C43.2 291.9 43.1 295.2 43.1 298.5C43.0 301.8 42.9 305.1 42.8 308.4C42.7 311.7 42.6 315.0 42.5 318.3C42.3 321.5 42.2 324.8 42.1 328.1C42.0 331.4 41.9 334.7 41.8 338.0C41.6 341.3 41.5 344.6 41.4 347.9C41.2 351.2 41.1 354.5 41.0 357.7C40.8 361.0 40.7 364.3 40.5 367.6C40.4 370.9 40.2 374.2 40.0 377.5C39.9 380.8 39.7 384.1 39.5 387.4C39.3 390.7 39.1 393.9 38.9 397.2C38.7 400.5 38.5 403.8 38.3 407.1C38.1 410.4 37.9 413.7 37.7 417.0C37.6 420.3 37.4 423.6 37.2 426.9C37.0 430.2 36.9 433.4 36.7 436.7C36.5 440.0 36.3 443.3 36.2 446.6C36.0 449.9 35.8 453.2 35.7 456.5C35.6 459.8 35.5 463.1 35.4 466.4C35.3 469.6 35.3 472.9 35.2 476.2C35.2 479.5 35.2 482.8 35.1 486.1C35.1 489.4 35.1 492.7 35.0 496.0C35.0 499.3 35.0 502.6 35.0 505.9"/>
<path d="M74.0 2.3C74.0 5.6 74.1 8.9 74.1 12.2C74.2 15.5 74.3 18.8 74.4 22.0C74.5 25.3 74.6 28.6 74.7 31.9C74.8 35.2 74.9 38.5 75.1 41.8C75.3 45.1 75.4 48.4 75.7 51.7C75.9 55.0 76.2 58.2 76.5 61.5C76.8 64.8 77.1 68.1 77.4 71.4C77.8 74.7 78.1 78.0 78.5 81.3C78.8 84.6 79.2 87.9 79.5 91.2C79.9 94.5 80.3 97.7 80.7 101.0C81.1 104.3 81.5 107.6 81.9 110.9C82.4 114.2 82.8 117.5 83.3 120.8C83.8 124.1 84.2 127.4 84.7 130.7C85.1 133.9 85.6 137.2 86.1 140.5C86.7 143.8 87.2 147.1 87.7 150.4C88.3 153.7 88.8 157.0 89.4 160.3C89.9 163.6 90.4 166.9 90.8 170.2C91.3 173.4 91.7 176.7 92.0 180.0C92.3 183.3 92.6 186.6 92.9 189.9C93.1 193.2 93.4 196.5 93.6 199.8C93.9 203.1 94.1 206.4 94.3 209.6C94.5 212.9 94.7 216.2 94.9 219.5C95.1 222.8 95.2 226.1 95.4 229.4C95.5 232.7 95.7 236.0 95.8 239.3C95.9 242.6 96.0 245.8 96.1 249.1C96.2 252.4 96.2 255.7 96.2 259.0C96.1 262.3 96.0 265.6 95.9 268.9C95.8 272.2 95.7 275.5 95.5 278.8C95.4 282.1 95.2 285.3 95.1 288.6C94.9 291.9 94.7 295.2 94.5 298.5C94.3 301.8 94.1 305.1 93.9 308.4C93.7 311.7 93.4 315.0 93.1 318.3C92.9 321.5 92.6 324.8 92.3 328.1C92.0 331.4 91.7 334.7 91.2 338.0C90.8 341.3 90.4 344.6 89.9 347.9C89.4 351.2 88.8 354.5 88.3 357.7C87.7 361.0 87.2 364.3 86.7 367.6C86.1 370.9 85.6 374.2 85.1 377.5C84.7 380.8 84.2 384.1 83.7 387.4C83.3 390.7 82.8 393.9 82.4 397.2C81.9 400.5 81.5 403.8 81.1 407.1C80.7 410.4 80.3 413.7 79.9 417.0C79.5 420.3 79.2 423.6 78.8 426.9C78.5 430.2 78.1 433.4 77.8 436.7C77.4 440.0 77.1 443.3 76.8 446.6C76.5 449.9 76.2 453.2 75.9 456.5C75.7 459.8 75.4 463.1 75.3 466.4C75.1 469.6 74.9 472.9 74.8 476.2C74.7 479.5 74.6 482.8 74.5 486.1C74.3 489.4 74.2 492.7 74.2 496.0C74.1 499.3 74.1 502.6 74.0 505.9"/>
<path d="M113.6 2.3C113.7 5.6 113.9 8.9 114.1 12.2C114.2 15.5 114.4 18.8 114.7 22.0C114.9 25.3 115.1 28.6 115.4 31.9C115.6 35.2 115.9 38.5 116.2 41.8C116.5 45.1 116.8 48.4 117.1 51.7C117.5 55.0 117.9 58.2 118.3 61.5C118.7 64.8 119.2 68.1 119.6 71.4C120.1 74.7 120.6 78.0 121.1 81.3C121.6 84.6 122.1 87.9 122.6 91.2C123.1 94.5 123.6 97.7 124.1 101.0C124.6 104.3 125.2 107.6 125.8 110.9C126.4 114.2 127.1 117.5 128.0 120.8C128.8 124.1 130.0 127.4 131.2 130.7C132.4 133.9 133.6 137.2 134.6 140.5C135.7 143.8 136.8 147.1 138.0 150.4C139.1 153.7 140.3 157.0 141.4 160.3C142.5 163.6 143.5 166.9 144.4 170.2C145.4 173.4 146.3 176.7 147.1 180.0C147.9 183.3 148.6 186.6 149.2 189.9C149.8 193.2 150.3 196.5 150.7 199.8C151.2 203.1 151.6 206.4 152.0 209.6C152.3 212.9 152.6 216.2 152.9 219.5C153.1 222.8 153.3 226.1 153.5 229.4C153.7 232.7 153.9 236.0 154.0 239.3C154.2 242.6 154.3 245.8 154.4 249.1C154.5 252.4 154.6 255.7 154.5 259.0C154.4 262.3 154.3 265.6 154.2 268.9C154.0 272.2 153.9 275.5 153.7 278.8C153.5 282.1 153.3 285.3 153.1 288.6C152.9 291.9 152.6 295.2 152.3 298.5C152.0 301.8 151.6 305.1 151.2 308.4C150.8 311.7 150.3 315.0 149.7 318.3C149.2 321.5 148.6 324.8 147.8 328.1C147.1 331.4 146.2 334.7 145.3 338.0C144.4 341.3 143.5 344.6 142.5 347.9C141.4 351.2 140.3 354.5 139.1 357.7C138.0 361.0 136.8 364.3 135.7 367.6C134.6 370.9 133.6 374.2 132.4 377.5C131.2 380.8 129.9 384.1 128.9 387.4C127.9 390.7 127.1 393.9 126.5 397.2C125.8 400.5 125.2 403.8 124.6 407.1C124.1 410.4 123.6 413.7 123.1 417.0C122.6 420.3 122.1 423.6 121.6 426.9C121.1 430.2 120.6 433.4 120.1 436.7C119.6 440.0 119.2 443.3 118.7 446.6C118.3 449.9 117.9 453.2 117.5 456.5C117.1 459.8 116.8 463.1 116.5 466.4C116.2 469.6 115.9 472.9 115.6 476.2C115.3 479.5 115.1 482.8 114.9 486.1C114.6 489.4 114.4 492.7 114.2 496.0C114.1 499.3 113.9 502.6 113.7 505.9"/>
<path d="M153.3 2.3C153.5 5.6 153.6 8.9 153.8 12.2C154.0 15.5 154.2 18.8 154.5 22.0C154.7 25.3 155.0 28.6 155.3 31.9C155.6 35.2 155.9 38.5 156.2 41.8C156.5 45.1 156.9 48.4 157.3 51.7C157.8 55.0 158.2 58.2 158.7 61.5C159.2 64.8 159.8 68.1 160.3 71.4C160.9 74.7 161.5 78.0 162.0 81.3C162.6 84.6 163.2 87.9 163.8 91.2C164.4 94.5 165.0 97.7 165.7 101.0C166.3 104.3 167.0 107.6 167.7 110.9C168.4 114.2 169.2 117.5 170.0 120.8C170.9 124.1 171.9 127.4 172.9 130.7C174.0 133.9 174.9 137.2 175.9 140.5C176.8 143.8 177.6 147.1 178.5 150.4C179.3 153.7 180.1 157.0 180.8 160.3C181.5 163.6 182.2 166.9 182.8 170.2C183.5 173.4 184.1 176.7 184.6 180.0C185.2 183.3 185.7 186.6 186.1 189.9C186.6 193.2 187.0 196.5 187.3 199.8C187.7 203.1 188.0 206.4 188.3 209.6C188.6 212.9 188.8 216.2 189.0 219.5C189.2 222.8 189.4 226.1 189.6 229.4C189.7 232.7 189.9 236.0 190.0 239.3C190.2 242.6 190.3 245.8 190.4 249.1C190.5 252.4 190.6 255.7 190.5 259.0C190.4 262.3 190.3 265.6 190.2 268.9C190.0 272.2 189.9 275.5 189.7 278.8C189.6 282.1 189.4 285.3 189.2 288.6C189.0 291.9 188.8 295.2 188.6 298.5C188.3 301.8 188.0 305.1 187.7 308.4C187.3 311.7 187.0 315.0 186.6 318.3C186.2 321.5 185.7 324.8 185.2 328.1C184.7 331.4 184.1 334.7 183.4 338.0C182.8 341.3 182.2 344.6 181.5 347.9C180.8 351.2 180.0 354.5 179.3 357.7C178.5 361.0 177.6 364.3 176.7 367.6C175.9 370.9 174.9 374.2 173.9 377.5C172.9 380.8 171.9 384.1 170.9 387.4C170.0 390.7 169.2 393.9 168.4 397.2C167.7 400.5 167.0 403.8 166.3 407.1C165.6 410.4 165.0 413.7 164.4 417.0C163.8 420.3 163.2 423.6 162.6 426.9C162.0 430.2 161.5 433.4 160.9 436.7C160.3 440.0 159.8 443.3 159.3 446.6C158.7 449.9 158.2 453.2 157.8 456.5C157.3 459.8 156.9 463.1 156.5 466.4C156.2 469.6 155.9 472.9 155.6 476.2C155.3 479.5 155.0 482.8 154.7 486.1C154.4 489.4 154.2 492.7 154.0 496.0C153.8 499.3 153.6 502.6 153.5 505.9"/>
<path d="M192.0 2.3C192.2 5.6 192.4 8.9 192.7 12.2C192.9 15.5 193.1 18.8 193.4 22.0C193.7 25.3 194.0 28.6 194.2 31.9C194.5 35.2 194.9 38.5 195.2 41.8C195.5 45.1 195.9 48.4 196.3 51.7C196.7 55.0 197.1 58.2 197.5 61.5C198.0 64.8 198.4 68.1 198.9 71.4C199.3 74.7 199.8 78.0 200.3 81.3C200.7 84.6 201.2 87.9 201.7 91.2C202.1 94.5 202.5 97.7 203.0 101.0C203.4 104.3 203.9 107.6 204.4 110.9C204.8 114.2 205.3 117.5 205.9 120.8C206.5 124.1 207.1 127.4 207.8 130.7C208.5 133.9 209.1 137.2 209.7 140.5C210.3 143.8 210.9 147.1 211.4 150.4C212.0 153.7 212.5 157.0 213.0 160.3C213.5 163.6 214.0 166.9 214.4 170.2C214.8 173.4 215.2 176.7 215.5 180.0C215.8 183.3 216.1 186.6 216.4 189.9C216.7 193.2 216.9 196.5 217.1 199.8C217.3 203.1 217.5 206.4 217.7 209.6C217.9 212.9 218.0 216.2 218.2 219.5C218.3 222.8 218.4 226.1 218.5 229.4C218.5 232.7 218.6 236.0 218.6 239.3C218.7 242.6 218.7 245.8 218.8 249.1C218.8 252.4 218.8 255.7 218.8 259.0C218.8 262.3 218.7 265.6 218.7 268.9C218.7 272.2 218.6 275.5 218.5 278.8C218.5 282.1 218.4 285.3 218.3 288.6C218.2 291.9 218.0 295.2 217.9 298.5C217.7 301.8 217.5 305.1 217.3 308.4C217.1 311.7 216.9 315.0 216.7 318.3C216.4 321.5 216.1 324.8 215.8 328.1C215.5 331.4 215.2 334.7 214.8 338.0C214.4 341.3 214.0 344.6 213.5 347.9C213.0 351.2 212.5 354.5 212.0 357.7C211.4 361.0 210.9 364.3 210.3 367.6C209.7 370.9 209.1 374.2 208.5 377.5C207.8 380.8 207.1 384.1 206.5 387.4C205.9 390.7 205.3 393.9 204.8 397.2C204.3 400.5 203.9 403.8 203.4 407.1C203.0 410.4 202.5 413.7 202.1 417.0C201.7 420.3 201.2 423.6 200.7 426.9C200.3 430.2 199.8 433.4 199.3 436.7C198.9 440.0 198.4 443.3 198.0 446.6C197.5 449.9 197.1 453.2 196.7 456.5C196.3 459.8 195.9 463.1 195.5 466.4C195.2 469.6 194.9 472.9 194.5 476.2C194.2 479.5 193.9 482.8 193.7 486.1C193.4 489.4 193.1 492.7 192.9 496.0C192.6 499.3 192.4 502.6 192.2 505.9"/>
<path d="M229.3 2.3C229.4 5.6 229.5 8.9 229.7 12.2C229.8 15.5 230.0 18.8 230.2 22.0C230.3 25.3 230.5 28.6 230.7 31.9C230.9 35.2 231.1 38.5 231.3 41.8C231.6 45.1 231.8 48.4 232.1 51.7C232.4 55.0 232.7 58.2 233.0 61.5C233.3 64.8 233.6 68.1 234.0 71.4C234.3 74.7 234.6 78.0 235.0 81.3C235.3 84.6 235.6 87.9 235.9 91.2C236.2 94.5 236.5 97.7 236.8 101.0C237.1 104.3 237.4 107.6 237.7 110.9C238.0 114.2 238.4 117.5 238.7 120.8C239.1 124.1 239.4 127.4 239.8 130.7C240.1 133.9 240.4 137.2 240.8 140.5C241.1 143.8 241.5 147.1 241.8 150.4C242.2 153.7 242.5 157.0 242.8 160.3C243.2 163.6 243.5 166.9 243.8 170.2C244.1 173.4 244.3 176.7 244.6 180.0C244.9 183.3 245.1 186.6 245.3 189.9C245.6 193.2 245.8 196.5 246.1 199.8C246.3 203.1 246.5 206.4 246.7 209.6C246.9 212.9 247.1 216.2 247.2 219.5C247.4 222.8 247.5 226.1 247.6 229.4C247.7 232.7 247.7 236.0 247.8 239.3C247.9 242.6 247.9 245.8 248.0 249.1C248.0 252.4 248.0 255.7 248.0 259.0C248.0 262.3 247.9 265.6 247.9 268.9C247.8 272.2 247.7 275.5 247.7 278.8C247.6 282.1 247.5 285.3 247.4 288.6C247.2 291.9 247.1 295.2 246.9 298.5C246.7 301.8 246.5 305.1 246.3 308.4C246.1 311.7 245.8 315.0 245.6 318.3C245.3 321.5 245.1 324.8 244.8 328.1C244.6 331.4 244.3 334.7 244.1 338.0C243.8 341.3 243.5 344.6 243.2 347.9C242.8 351.2 242.5 354.5 242.2 357.7C241.8 361.0 241.5 364.3 241.1 367.6C240.8 370.9 240.4 374.2 240.1 377.5C239.8 380.8 239.4 384.1 239.1 387.4C238.7 390.7 238.4 393.9 238.0 397.2C237.7 400.5 237.4 403.8 237.1 407.1C236.8 410.4 236.5 413.7 236.2 417.0C235.9 420.3 235.6 423.6 235.3 426.9C235.0 430.2 234.6 433.4 234.3 436.7C234.0 440.0 233.6 443.3 233.3 446.6C233.0 449.9 232.7 453.2 232.4 456.5C232.1 459.8 231.8 463.1 231.6 466.4C231.3 469.6 231.1 472.9 230.9 476.2C230.7 479.5 230.5 482.8 230.3 486.1C230.2 489.4 230.0 492.7 229.8 496.0C229.7 499.3 229.5 502.6 229.4 505.9"/>
<path d="M265.0 2.3C265.2 5.6 265.3 8.9 265.5 12.2C265.6 15.5 265.8 18.8 265.9 22.0C266.1 25.3 266.2 28.6 266.4 31.9C266.6 35.2 266.7 38.5 266.9 41.8C267.1 45.1 267.2 48.4 267.4 51.7C267.6 55.0 267.8 58.2 268.0 61.5C268.2 64.8 268.3 68.1 268.5 71.4C268.7 74.7 268.9 78.0 269.1 81.3C269.3 84.6 269.5 87.9 269.7 91.2C269.9 94.5 270.1 97.7 270.3 101.0C270.5 104.3 270.7 107.6 270.9 110.9C271.1 114.2 271.4 117.5 271.6 120.8C271.9 124.1 272.1 127.4 272.4 130.7C272.6 133.9 272.9 137.2 273.2 140.5C273.5 143.8 273.7 147.1 274.0 150.4C274.3 153.7 274.5 157.0 274.8 160.3C275.0 163.6 275.2 166.9 275.4 170.2C275.6 173.4 275.8 176.7 276.0 180.0C276.2 183.3 276.3 186.6 276.5 189.9C276.6 193.2 276.8 196.5 276.9 199.8C277.1 203.1 277.3 206.4 277.4 209.6C277.5 212.9 277.7 216.2 277.8 219.5C277.9 222.8 278.0 226.1 278.2 229.4C278.3 232.7 278.3 236.0 278.4 239.3C278.5 242.6 278.5 245.8 278.6 249.1C278.6 252.4 278.6 255.7 278.6 259.0C278.6 262.3 278.5 265.6 278.5 268.9C278.4 272.2 278.3 275.5 278.2 278.8C278.2 282.1 278.0 285.3 277.9 288.6C277.8 291.9 277.7 295.2 277.5 298.5C277.4 301.8 277.3 305.1 277.1 308.4C276.9 311.7 276.8 315.0 276.6 318.3C276.5 321.5 276.3 324.8 276.2 328.1C276.0 331.4 275.8 334.7 275.6 338.0C275.4 341.3 275.2 344.6 275.0 347.9C274.8 351.2 274.5 354.5 274.3 357.7C274.0 361.0 273.7 364.3 273.5 367.6C273.2 370.9 272.9 374.2 272.6 377.5C272.4 380.8 272.1 384.1 271.9 387.4C271.6 390.7 271.4 393.9 271.1 397.2C270.9 400.5 270.7 403.8 270.5 407.1C270.3 410.4 270.1 413.7 269.9 417.0C269.7 420.3 269.5 423.6 269.3 426.9C269.1 430.2 268.9 433.4 268.7 436.7C268.5 440.0 268.3 443.3 268.2 446.6C268.0 449.9 267.8 453.2 267.6 456.5C267.4 459.8 267.2 463.1 267.1 466.4C266.9 469.6 266.7 472.9 266.6 476.2C266.4 479.5 266.2 482.8 266.1 486.1C265.9 489.4 265.8 492.7 265.6 496.0C265.4 499.3 265.3 502.6 265.2 505.9"/>
<path d="M301.0 2.3C301.2 5.6 301.3 8.9 301.5 12.2C301.7 15.5 301.8 18.8 302.0 22.0C302.1 25.3 302.3 28.6 302.5 31.9C302.6 35.2 302.8 38.5 302.9 41.8C303.1 45.1 303.2 48.4 303.4 51.7C303.5 55.0 303.7 58.2 303.8 61.5C304.0 64.8 304.1 68.1 304.3 71.4C304.4 74.7 304.6 78.0 304.7 81.3C304.8 84.6 305.0 87.9 305.1 91.2C305.3 94.5 305.4 97.7 305.5 101.0C305.7 104.3 305.8 107.6 306.0 110.9C306.1 114.2 306.2 117.5 306.4 120.8C306.5 124.1 306.7 127.4 306.8 130.7C306.9 133.9 307.1 137.2 307.2 140.5C307.4 143.8 307.5 147.1 307.6 150.4C307.8 153.7 307.9 157.0 308.0 160.3C308.1 163.6 308.2 166.9 308.3 170.2C308.4 173.4 308.5 176.7 308.6 180.0C308.7 183.3 308.8 186.6 308.8 189.9C308.9 193.2 309.0 196.5 309.1 199.8C309.2 203.1 309.2 206.4 309.3 209.6C309.4 212.9 309.4 216.2 309.5 219.5C309.6 222.8 309.6 226.1 309.7 229.4C309.7 232.7 309.8 236.0 309.8 239.3C309.8 242.6 309.9 245.8 309.9 249.1C309.9 252.4 309.9 255.7 309.9 259.0C309.9 262.3 309.9 265.6 309.8 268.9C309.8 272.2 309.8 275.5 309.7 278.8C309.7 282.1 309.6 285.3 309.6 288.6C309.5 291.9 309.4 295.2 309.4 298.5C309.3 301.8 309.2 305.1 309.2 308.4C309.1 311.7 309.0 315.0 308.9 318.3C308.8 321.5 308.8 324.8 308.7 328.1C308.6 331.4 308.5 334.7 308.4 338.0C308.3 341.3 308.2 344.6 308.1 347.9C308.0 351.2 307.9 354.5 307.8 357.7C307.6 361.0 307.5 364.3 307.4 367.6C307.2 370.9 307.1 374.2 306.9 377.5C306.8 380.8 306.7 384.1 306.5 387.4C306.4 390.7 306.2 393.9 306.1 397.2C306.0 400.5 305.8 403.8 305.7 407.1C305.5 410.4 305.4 413.7 305.3 417.0C305.1 420.3 305.0 423.6 304.8 426.9C304.7 430.2 304.6 433.4 304.4 436.7C304.3 440.0 304.1 443.3 304.0 446.6C303.8 449.9 303.7 453.2 303.5 456.5C303.4 459.8 303.2 463.1 303.1 466.4C302.9 469.6 302.8 472.9 302.6 476.2C302.5 479.5 302.3 482.8 302.1 486.1C302.0 489.4 301.8 492.7 301.7 496.0C301.5 499.3 301.3 502.6 301.2 505.9"/>
<path d="M335.0 2.3C335.1 5.6 335.1 8.9 335.2 12.2C335.2 15.5 335.3 18.8 335.4 22.0C335.5 25.3 335.5 28.6 335.6 31.9C335.7 35.2 335.8 38.5 335.9 41.8C335.9 45.1 336.0 48.4 336.1 51.7C336.2 55.0 336.3 58.2 336.4 61.5C336.5 64.8 336.6 68.1 336.7 71.4C336.8 74.7 336.9 78.0 337.0 81.3C337.1 84.6 337.2 87.9 337.3 91.2C337.4 94.5 337.5 97.7 337.6 101.0C337.7 104.3 337.8 107.6 338.0 110.9C338.1 114.2 338.2 117.5 338.3 120.8C338.5 124.1 338.6 127.4 338.8 130.7C339.0 133.9 339.1 137.2 339.3 140.5C339.5 143.8 339.6 147.1 339.8 150.4C340.0 153.7 340.1 157.0 340.3 160.3C340.4 163.6 340.6 166.9 340.7 170.2C340.8 173.4 340.9 176.7 341.0 180.0C341.1 183.3 341.2 186.6 341.2 189.9C341.3 193.2 341.4 196.5 341.5 199.8C341.6 203.1 341.6 206.4 341.7 209.6C341.8 212.9 341.9 216.2 341.9 219.5C342.0 222.8 342.0 226.1 342.1 229.4C342.1 232.7 342.2 236.0 342.2 239.3C342.2 242.6 342.3 245.8 342.3 249.1C342.3 252.4 342.3 255.7 342.3 259.0C342.3 262.3 342.3 265.6 342.2 268.9C342.2 272.2 342.2 275.5 342.1 278.8C342.1 282.1 342.0 285.3 342.0 288.6C341.9 291.9 341.9 295.2 341.8 298.5C341.7 301.8 341.6 305.1 341.6 308.4C341.5 311.7 341.4 315.0 341.3 318.3C341.2 321.5 341.2 324.8 341.1 328.1C341.0 331.4 340.9 334.7 340.8 338.0C340.7 341.3 340.6 344.6 340.4 347.9C340.3 351.2 340.1 354.5 340.0 357.7C339.8 361.0 339.6 364.3 339.5 367.6C339.3 370.9 339.1 374.2 339.0 377.5C338.8 380.8 338.6 384.1 338.5 387.4C338.3 390.7 338.2 393.9 338.1 397.2C338.0 400.5 337.8 403.8 337.7 407.1C337.6 410.4 337.5 413.7 337.4 417.0C337.3 420.3 337.2 423.6 337.1 426.9C337.0 430.2 336.9 433.4 336.8 436.7C336.7 440.0 336.6 443.3 336.5 446.6C336.4 449.9 336.3 453.2 336.2 456.5C336.1 459.8 336.0 463.1 335.9 466.4C335.9 469.6 335.8 472.9 335.7 476.2C335.6 479.5 335.5 482.8 335.5 486.1C335.4 489.4 335.3 492.7 335.3 496.0C335.2 499.3 335.1 502.6 335.1 505.9"/>
<path d="M368.5 2.3C368.6 5.6 368.8 8.9 368.9 12.2C369.0 15.5 369.1 18.8 369.3 22.0C369.4 25.3 369.5 28.6 369.6 31.9C369.7 35.2 369.8 38.5 369.9 41.8C370.1 45.1 370.2 48.4 370.3 51.7C370.4 55.0 370.5 58.2 370.6 61.5C370.7 64.8 370.8 68.1 370.8 71.4C370.9 74.7 371.0 78.0 371.1 81.3C371.2 84.6 371.3 87.9 371.4 91.2C371.4 94.5 371.5 97.7 371.6 101.0C371.6 104.3 371.7 107.6 371.8 110.9C371.8 114.2 371.9 117.5 372.0 120.8C372.0 124.1 372.1 127.4 372.1 130.7C372.2 133.9 372.2 137.2 372.3 140.5C372.3 143.8 372.4 147.1 372.4 150.4C372.5 153.7 372.5 157.0 372.6 160.3C372.6 163.6 372.6 166.9 372.7 170.2C372.7 173.4 372.8 176.7 372.8 180.0C372.8 183.3 372.9 186.6 372.9 189.9C373.0 193.2 373.0 196.5 373.0 199.8C373.1 203.1 373.1 206.4 373.2 209.6C373.2 212.9 373.2 216.2 373.3 219.5C373.3 222.8 373.3 226.1 373.4 229.4C373.4 232.7 373.4 236.0 373.4 239.3C373.5 242.6 373.5 245.8 373.5 249.1C373.5 252.4 373.5 255.7 373.5 259.0C373.5 262.3 373.5 265.6 373.5 268.9C373.4 272.2 373.4 275.5 373.4 278.8C373.4 282.1 373.3 285.3 373.3 288.6C373.3 291.9 373.2 295.2 373.2 298.5C373.2 301.8 373.1 305.1 373.1 308.4C373.0 311.7 373.0 315.0 373.0 318.3C372.9 321.5 372.9 324.8 372.8 328.1C372.8 331.4 372.8 334.7 372.7 338.0C372.7 341.3 372.6 344.6 372.6 347.9C372.6 351.2 372.5 354.5 372.5 357.7C372.4 361.0 372.4 364.3 372.3 367.6C372.3 370.9 372.2 374.2 372.2 377.5C372.1 380.8 372.1 384.1 372.0 387.4C372.0 390.7 371.9 393.9 371.8 397.2C371.8 400.5 371.7 403.8 371.6 407.1C371.6 410.4 371.5 413.7 371.4 417.0C371.4 420.3 371.3 423.6 371.2 426.9C371.1 430.2 371.0 433.4 370.9 436.7C370.8 440.0 370.8 443.3 370.7 446.6C370.6 449.9 370.5 453.2 370.4 456.5C370.3 459.8 370.2 463.1 370.1 466.4C369.9 469.6 369.8 472.9 369.7 476.2C369.6 479.5 369.5 482.8 369.4 486.1C369.3 489.4 369.1 492.7 369.0 496.0C368.9 499.3 368.8 502.6 368.6 505.9"/>
</g>
<rect x="239.4" y="7.0" width="139.6" height="105.0" fill="#fff"/>
<rect x="136.1" y="132.9" width="76.3" height="245.3" fill="none" stroke="#000" stroke-linejoin="round" stroke-width="2.05"/>
<rect x="2.8" y="2.3" width="377.4" height="503.6" fill="none" stroke="#000" stroke-width="2.05"/>
<text x="260.5" y="85.1" font-size="69.5">(a)</text>
<clipPath id="clipb"><rect x="420.5" y="2.3" width="378.0" height="503.6"/></clipPath>
<g clip-path="url(#clipb)" fill="none" stroke="#000" stroke-width="2.3">
<path d="M430.0 2.3C430.0 5.6 430.0 8.9 430.0 12.2C430.0 15.5 430.0 18.8 430.0 22.0C430.0 25.3 430.0 28.6 430.0 31.9C430.0 35.2 430.0 38.5 430.0 41.8C430.0 45.1 430.0 48.4 430.0 51.7C430.0 55.0 430.0 58.3 430.0 61.5C430.0 64.8 430.0 68.1 430.0 71.4C430.0 74.7 430.0 78.0 430.0 81.3C430.0 84.6 430.0 87.9 430.0 91.2C430.0 94.5 430.0 97.8 430.0 101.0C430.0 104.3 430.0 107.6 430.0 110.9C430.0 114.2 430.0 117.5 430.0 120.8C430.0 124.1 430.0 127.4 430.0 130.7C430.0 134.0 430.0 137.3 430.0 140.5C430.0 143.8 430.0 147.1 430.0 150.4C430.0 153.7 430.0 157.0 430.0 160.3C430.0 163.6 430.0 166.9 430.0 170.2C430.0 173.5 430.0 176.7 430.0 180.0C430.0 183.3 430.0 186.6 430.0 189.9C430.0 193.2 430.0 196.5 430.0 199.8C430.0 203.1 430.0 206.4 430.0 209.7C430.0 213.0 430.0 216.2 430.0 219.5C430.0 222.8 430.0 226.1 430.0 229.4C430.0 232.7 430.0 236.0 430.0 239.3C430.0 242.6 430.0 245.9 430.0 249.2C430.0 252.5 430.0 255.7 430.0 259.0C430.0 262.3 430.0 265.6 430.0 268.9C430.0 272.2 430.0 275.5 430.0 278.8C430.0 282.1 430.0 285.4 430.0 288.7C430.0 292.0 430.0 295.2 430.0 298.5C430.0 301.8 430.0 305.1 430.0 308.4C430.0 311.7 430.0 315.0 430.0 318.3C430.0 321.6 430.0 324.9 430.0 328.2C430.0 331.5 430.0 334.7 430.0 338.0C430.0 341.3 430.0 344.6 430.0 347.9C430.0 351.2 430.0 354.5 430.0 357.8C430.0 361.1 430.0 364.4 430.0 367.7C430.0 370.9 430.0 374.2 430.0 377.5C430.0 380.8 430.0 384.1 430.0 387.4C430.0 390.7 430.0 394.0 430.0 397.3C430.0 400.6 430.0 403.9 430.0 407.2C430.0 410.4 430.0 413.7 430.0 417.0C430.0 420.3 430.0 423.6 430.0 426.9C430.0 430.2 430.0 433.5 430.0 436.8C430.0 440.1 430.0 443.4 430.0 446.7C430.0 449.9 430.0 453.2 430.0 456.5C430.0 459.8 430.0 463.1 430.0 466.4C430.0 469.7 430.0 473.0 430.0 476.3C430.0 479.6 430.0 482.9 430.0 486.2C430.0 489.4 430.0 492.7 430.0 496.0C430.0 499.3 430.0 502.6 430.0 505.9"/>
<path d="M451.2 2.3C451.2 5.6 451.3 8.9 451.3 12.2C451.3 15.5 451.4 18.8 451.4 22.0C451.4 25.3 451.5 28.6 451.5 31.9C451.6 35.2 451.6 38.5 451.7 41.8C451.7 45.1 451.8 48.4 451.8 51.7C451.9 55.0 451.9 58.3 452.0 61.5C452.0 64.8 452.1 68.1 452.2 71.4C452.2 74.7 452.3 78.0 452.4 81.3C452.5 84.6 452.6 87.9 452.6 91.2C452.7 94.5 452.8 97.8 452.8 101.0C452.9 104.3 452.9 107.6 453.0 110.9C453.0 114.2 453.0 117.5 453.1 120.8C453.1 124.1 453.2 127.4 453.3 130.7C453.3 134.0 453.4 137.3 453.4 140.5C453.5 143.8 453.6 147.1 453.7 150.4C453.7 153.7 453.8 157.0 453.9 160.3C453.9 163.6 454.0 166.9 454.1 170.2C454.2 173.5 454.2 176.7 454.3 180.0C454.4 183.3 454.4 186.6 454.5 189.9C454.6 193.2 454.6 196.5 454.7 199.8C454.8 203.1 454.8 206.4 454.9 209.7C455.0 213.0 455.0 216.2 455.1 219.5C455.2 222.8 455.2 226.1 455.3 229.4C455.3 232.7 455.4 236.0 455.4 239.3C455.4 242.6 455.5 245.9 455.5 249.2C455.5 252.5 455.5 255.7 455.5 259.0C455.5 262.3 455.4 265.6 455.4 268.9C455.4 272.2 455.3 275.5 455.3 278.8C455.2 282.1 455.1 285.4 455.1 288.7C455.0 292.0 455.0 295.2 454.9 298.5C454.8 301.8 454.7 305.1 454.7 308.4C454.6 311.7 454.5 315.0 454.5 318.3C454.4 321.6 454.4 324.9 454.3 328.2C454.2 331.5 454.2 334.7 454.1 338.0C454.0 341.3 453.9 344.6 453.9 347.9C453.8 351.2 453.7 354.5 453.6 357.8C453.6 361.1 453.5 364.4 453.4 367.7C453.4 370.9 453.3 374.2 453.2 377.5C453.2 380.8 453.1 384.1 453.1 387.4C453.0 390.7 453.0 394.0 452.9 397.3C452.9 400.6 452.9 403.9 452.8 407.2C452.7 410.4 452.7 413.7 452.6 417.0C452.5 420.3 452.5 423.6 452.4 426.9C452.3 430.2 452.2 433.5 452.2 436.8C452.1 440.1 452.0 443.4 452.0 446.7C451.9 449.9 451.9 453.2 451.8 456.5C451.8 459.8 451.7 463.1 451.7 466.4C451.6 469.7 451.6 473.0 451.5 476.3C451.5 479.6 451.4 482.9 451.4 486.2C451.4 489.4 451.3 492.7 451.3 496.0C451.3 499.3 451.2 502.6 451.2 505.9"/>
<path d="M489.9 2.3C489.9 5.6 490.0 8.9 490.0 12.2C490.1 15.5 490.2 18.8 490.2 22.0C490.3 25.3 490.4 28.6 490.4 31.9C490.5 35.2 490.6 38.5 490.7 41.8C490.7 45.1 490.8 48.4 490.9 51.7C491.0 55.0 491.1 58.3 491.2 61.5C491.3 64.8 491.4 68.1 491.5 71.4C491.6 74.7 491.7 78.0 491.8 81.3C492.0 84.6 492.1 87.9 492.2 91.2C492.4 94.5 492.5 97.8 492.6 101.0C492.8 104.3 492.9 107.6 493.0 110.9C493.2 114.2 493.3 117.5 493.5 120.8C493.6 124.1 493.8 127.4 493.9 130.7C494.1 134.0 494.3 137.3 494.5 140.5C494.6 143.8 494.8 147.1 495.0 150.4C495.2 153.7 495.4 157.0 495.6 160.3C495.8 163.6 496.0 166.9 496.2 170.2C496.4 173.5 496.5 176.7 496.7 180.0C496.9 183.3 497.0 186.6 497.2 189.9C497.4 193.2 497.5 196.5 497.7 199.8C497.9 203.1 498.0 206.4 498.2 209.7C498.4 213.0 498.5 216.2 498.7 219.5C498.9 222.8 499.0 226.1 499.1 229.4C499.3 232.7 499.4 236.0 499.5 239.3C499.6 242.6 499.6 245.9 499.7 249.2C499.7 252.5 499.7 255.7 499.7 259.0C499.6 262.3 499.5 265.6 499.5 268.9C499.4 272.2 499.2 275.5 499.1 278.8C499.0 282.1 498.8 285.4 498.7 288.7C498.5 292.0 498.3 295.2 498.2 298.5C498.0 301.8 497.8 305.1 497.7 308.4C497.5 311.7 497.3 315.0 497.2 318.3C497.0 321.6 496.8 324.9 496.7 328.2C496.5 331.5 496.3 334.7 496.1 338.0C495.9 341.3 495.7 344.6 495.6 347.9C495.4 351.2 495.2 354.5 495.0 357.8C494.8 361.1 494.6 364.4 494.4 367.7C494.2 370.9 494.1 374.2 493.9 377.5C493.7 380.8 493.6 384.1 493.4 387.4C493.3 390.7 493.2 394.0 493.0 397.3C492.9 400.6 492.7 403.9 492.6 407.2C492.5 410.4 492.3 413.7 492.2 417.0C492.1 420.3 491.9 423.6 491.8 426.9C491.7 430.2 491.6 433.5 491.5 436.8C491.3 440.1 491.2 443.4 491.2 446.7C491.1 449.9 491.0 453.2 490.9 456.5C490.8 459.8 490.7 463.1 490.6 466.4C490.6 469.7 490.5 473.0 490.4 476.3C490.3 479.6 490.3 482.9 490.2 486.2C490.1 489.4 490.1 492.7 490.0 496.0C490.0 499.3 489.9 502.6 489.9 505.9"/>
<path d="M529.4 2.3C529.5 5.6 529.6 8.9 529.7 12.2C529.8 15.5 529.9 18.8 530.1 22.0C530.2 25.3 530.3 28.6 530.5 31.9C530.6 35.2 530.7 38.5 530.9 41.8C531.0 45.1 531.2 48.4 531.4 51.7C531.5 55.0 531.7 58.3 531.9 61.5C532.0 64.8 532.2 68.1 532.4 71.4C532.6 74.7 532.8 78.0 533.0 81.3C533.2 84.6 533.4 87.9 533.6 91.2C533.9 94.5 534.1 97.8 534.4 101.0C534.7 104.3 535.0 107.6 535.4 110.9C535.7 114.2 536.1 117.5 536.5 120.8C536.9 124.1 537.3 127.4 537.8 130.7C538.2 134.0 538.7 137.3 539.2 140.5C539.7 143.8 540.1 147.1 540.6 150.4C541.0 153.7 541.4 157.0 541.8 160.3C542.2 163.6 542.6 166.9 543.0 170.2C543.4 173.5 543.7 176.7 544.1 180.0C544.4 183.3 544.7 186.6 545.0 189.9C545.3 193.2 545.6 196.5 545.8 199.8C546.1 203.1 546.3 206.4 546.6 209.7C546.8 213.0 547.0 216.2 547.2 219.5C547.3 222.8 547.4 226.1 547.6 229.4C547.7 232.7 547.8 236.0 547.9 239.3C548.0 242.6 548.0 245.9 548.1 249.2C548.1 252.5 548.1 255.7 548.0 259.0C548.0 262.3 547.9 265.6 547.8 268.9C547.8 272.2 547.6 275.5 547.5 278.8C547.4 282.1 547.3 285.4 547.1 288.7C547.0 292.0 546.7 295.2 546.5 298.5C546.3 301.8 546.0 305.1 545.8 308.4C545.5 311.7 545.2 315.0 544.9 318.3C544.6 321.6 544.3 324.9 544.0 328.2C543.6 331.5 543.3 334.7 542.9 338.0C542.5 341.3 542.1 344.6 541.7 347.9C541.3 351.2 540.9 354.5 540.4 357.8C540.0 361.1 539.5 364.4 539.1 367.7C538.6 370.9 538.1 374.2 537.7 377.5C537.2 380.8 536.8 384.1 536.4 387.4C536.0 390.7 535.6 394.0 535.3 397.3C534.9 400.6 534.6 403.9 534.3 407.2C534.1 410.4 533.8 413.7 533.6 417.0C533.3 420.3 533.1 423.6 532.9 426.9C532.7 430.2 532.5 433.5 532.3 436.8C532.2 440.1 532.0 443.4 531.8 446.7C531.6 449.9 531.5 453.2 531.3 456.5C531.2 459.8 531.0 463.1 530.9 466.4C530.7 469.7 530.6 473.0 530.4 476.3C530.3 479.6 530.2 482.9 530.0 486.2C529.9 489.4 529.8 492.7 529.7 496.0C529.6 499.3 529.5 502.6 529.4 505.9"/>
<path d="M568.6 2.3C568.7 5.6 568.8 8.9 569.0 12.2C569.1 15.5 569.3 18.8 569.4 22.0C569.6 25.3 569.8 28.6 569.9 31.9C570.1 35.2 570.3 38.5 570.5 41.8C570.7 45.1 570.9 48.4 571.1 51.7C571.3 55.0 571.5 58.3 571.7 61.5C572.0 64.8 572.2 68.1 572.4 71.4C572.7 74.7 572.9 78.0 573.2 81.3C573.5 84.6 573.8 87.9 574.1 91.2C574.4 94.5 574.8 97.8 575.2 101.0C575.6 104.3 576.0 107.6 576.6 110.9C577.1 114.2 577.7 117.5 578.2 120.8C578.8 124.1 579.3 127.4 579.8 130.7C580.4 134.0 580.9 137.3 581.4 140.5C582.0 143.8 582.4 147.1 582.8 150.4C583.3 153.7 583.6 157.0 584.0 160.3C584.4 163.6 584.7 166.9 585.0 170.2C585.3 173.5 585.6 176.7 585.9 180.0C586.2 183.3 586.5 186.6 586.7 189.9C587.0 193.2 587.2 196.5 587.4 199.8C587.6 203.1 587.9 206.4 588.1 209.7C588.3 213.0 588.4 216.2 588.6 219.5C588.7 222.8 588.8 226.1 589.0 229.4C589.1 232.7 589.2 236.0 589.3 239.3C589.4 242.6 589.4 245.9 589.5 249.2C589.5 252.5 589.5 255.7 589.4 259.0C589.4 262.3 589.3 265.6 589.2 268.9C589.2 272.2 589.0 275.5 588.9 278.8C588.8 282.1 588.7 285.4 588.5 288.7C588.4 292.0 588.2 295.2 588.0 298.5C587.8 301.8 587.6 305.1 587.4 308.4C587.1 311.7 586.9 315.0 586.6 318.3C586.4 321.6 586.1 324.9 585.8 328.2C585.6 331.5 585.3 334.7 584.9 338.0C584.6 341.3 584.3 344.6 583.9 347.9C583.5 351.2 583.2 354.5 582.7 357.8C582.3 361.1 581.8 364.4 581.3 367.7C580.8 370.9 580.3 374.2 579.7 377.5C579.2 380.8 578.6 384.1 578.1 387.4C577.5 390.7 577.0 394.0 576.4 397.3C575.9 400.6 575.5 403.9 575.1 407.2C574.7 410.4 574.3 413.7 574.0 417.0C573.7 420.3 573.4 423.6 573.1 426.9C572.9 430.2 572.6 433.5 572.4 436.8C572.1 440.1 571.9 443.4 571.7 446.7C571.5 449.9 571.3 453.2 571.1 456.5C570.8 459.8 570.6 463.1 570.5 466.4C570.3 469.7 570.1 473.0 569.9 476.3C569.7 479.6 569.5 482.9 569.4 486.2C569.2 489.4 569.1 492.7 569.0 496.0C568.8 499.3 568.7 502.6 568.6 505.9"/>
<path d="M607.3 2.3C607.5 5.6 607.6 8.9 607.7 12.2C607.9 15.5 608.1 18.8 608.2 22.0C608.4 25.3 608.6 28.6 608.7 31.9C608.9 35.2 609.1 38.5 609.3 41.8C609.5 45.1 609.7 48.4 609.9 51.7C610.0 55.0 610.2 58.3 610.4 61.5C610.7 64.8 610.9 68.1 611.1 71.4C611.3 74.7 611.5 78.0 611.7 81.3C611.9 84.6 612.2 87.9 612.4 91.2C612.7 94.5 613.0 97.8 613.4 101.0C613.7 104.3 614.1 107.6 614.6 110.9C615.1 114.2 615.6 117.5 616.0 120.8C616.5 124.1 616.9 127.4 617.3 130.7C617.7 134.0 618.1 137.3 618.5 140.5C618.8 143.8 619.1 147.1 619.4 150.4C619.7 153.7 620.0 157.0 620.3 160.3C620.5 163.6 620.8 166.9 621.0 170.2C621.2 173.5 621.4 176.7 621.6 180.0C621.8 183.3 622.0 186.6 622.2 189.9C622.4 193.2 622.5 196.5 622.7 199.8C622.8 203.1 623.0 206.4 623.1 209.7C623.3 213.0 623.4 216.2 623.5 219.5C623.6 222.8 623.6 226.1 623.7 229.4C623.8 232.7 623.8 236.0 623.9 239.3C623.9 242.6 624.0 245.9 624.0 249.2C624.0 252.5 624.0 255.7 624.0 259.0C623.9 262.3 623.9 265.6 623.9 268.9C623.8 272.2 623.7 275.5 623.7 278.8C623.6 282.1 623.5 285.4 623.4 288.7C623.3 292.0 623.2 295.2 623.1 298.5C623.0 301.8 622.8 305.1 622.7 308.4C622.5 311.7 622.3 315.0 622.2 318.3C622.0 321.6 621.8 324.9 621.6 328.2C621.4 331.5 621.2 334.7 620.9 338.0C620.7 341.3 620.5 344.6 620.2 347.9C619.9 351.2 619.7 354.5 619.4 357.8C619.1 361.1 618.7 364.4 618.4 367.7C618.0 370.9 617.6 374.2 617.2 377.5C616.8 380.8 616.4 384.1 615.9 387.4C615.4 390.7 614.9 394.0 614.5 397.3C614.0 400.6 613.6 403.9 613.3 407.2C612.9 410.4 612.6 413.7 612.4 417.0C612.1 420.3 611.9 423.6 611.7 426.9C611.4 430.2 611.2 433.5 611.0 436.8C610.8 440.1 610.6 443.4 610.4 446.7C610.2 449.9 610.0 453.2 609.8 456.5C609.6 459.8 609.4 463.1 609.2 466.4C609.0 469.7 608.9 473.0 608.7 476.3C608.5 479.6 608.3 482.9 608.2 486.2C608.0 489.4 607.9 492.7 607.7 496.0C607.6 499.3 607.4 502.6 607.3 505.9"/>
<path d="M644.8 2.3C644.9 5.6 645.1 8.9 645.2 12.2C645.3 15.5 645.5 18.8 645.6 22.0C645.7 25.3 645.9 28.6 646.0 31.9C646.1 35.2 646.3 38.5 646.4 41.8C646.6 45.1 646.7 48.4 646.8 51.7C647.0 55.0 647.1 58.3 647.3 61.5C647.4 64.8 647.5 68.1 647.7 71.4C647.8 74.7 648.0 78.0 648.1 81.3C648.2 84.6 648.4 87.9 648.5 91.2C648.7 94.5 648.9 97.8 649.1 101.0C649.3 104.3 649.5 107.6 649.7 110.9C650.0 114.2 650.2 117.5 650.5 120.8C650.7 124.1 651.0 127.4 651.2 130.7C651.4 134.0 651.6 137.3 651.8 140.5C652.1 143.8 652.3 147.1 652.5 150.4C652.7 153.7 652.9 157.0 653.1 160.3C653.3 163.6 653.5 166.9 653.7 170.2C653.9 173.5 654.0 176.7 654.2 180.0C654.3 183.3 654.5 186.6 654.6 189.9C654.7 193.2 654.8 196.5 655.0 199.8C655.1 203.1 655.2 206.4 655.3 209.7C655.4 213.0 655.5 216.2 655.6 219.5C655.7 222.8 655.8 226.1 655.9 229.4C656.0 232.7 656.0 236.0 656.1 239.3C656.1 242.6 656.2 245.9 656.2 249.2C656.2 252.5 656.2 255.7 656.2 259.0C656.2 262.3 656.1 265.6 656.1 268.9C656.0 272.2 655.9 275.5 655.9 278.8C655.8 282.1 655.7 285.4 655.6 288.7C655.5 292.0 655.4 295.2 655.3 298.5C655.2 301.8 655.0 305.1 654.9 308.4C654.8 311.7 654.7 315.0 654.6 318.3C654.4 321.6 654.3 324.9 654.2 328.2C654.0 331.5 653.8 334.7 653.6 338.0C653.5 341.3 653.3 344.6 653.1 347.9C652.9 351.2 652.7 354.5 652.4 357.8C652.2 361.1 652.0 364.4 651.8 367.7C651.6 370.9 651.3 374.2 651.1 377.5C650.9 380.8 650.7 384.1 650.4 387.4C650.2 390.7 649.9 394.0 649.7 397.3C649.4 400.6 649.2 403.9 649.0 407.2C648.8 410.4 648.7 413.7 648.5 417.0C648.4 420.3 648.2 423.6 648.1 426.9C647.9 430.2 647.8 433.5 647.6 436.8C647.5 440.1 647.4 443.4 647.2 446.7C647.1 449.9 646.9 453.2 646.8 456.5C646.7 459.8 646.5 463.1 646.4 466.4C646.2 469.7 646.1 473.0 646.0 476.3C645.8 479.6 645.7 482.9 645.6 486.2C645.4 489.4 645.3 492.7 645.2 496.0C645.0 499.3 644.9 502.6 644.8 505.9"/>
<path d="M680.4 2.3C680.6 5.6 680.7 8.9 680.8 12.2C681.0 15.5 681.1 18.8 681.2 22.0C681.4 25.3 681.5 28.6 681.7 31.9C681.8 35.2 681.9 38.5 682.1 41.8C682.2 45.1 682.3 48.4 682.5 51.7C682.6 55.0 682.7 58.3 682.9 61.5C683.0 64.8 683.1 68.1 683.3 71.4C683.4 74.7 683.5 78.0 683.7 81.3C683.8 84.6 683.9 87.9 684.1 91.2C684.2 94.5 684.3 97.8 684.5 101.0C684.6 104.3 684.7 107.6 684.9 110.9C685.0 114.2 685.1 117.5 685.3 120.8C685.4 124.1 685.5 127.4 685.7 130.7C685.8 134.0 686.0 137.3 686.1 140.5C686.2 143.8 686.4 147.1 686.5 150.4C686.7 153.7 686.8 157.0 686.9 160.3C687.0 163.6 687.1 166.9 687.2 170.2C687.3 173.5 687.4 176.7 687.5 180.0C687.6 183.3 687.7 186.6 687.7 189.9C687.8 193.2 687.9 196.5 688.0 199.8C688.0 203.1 688.1 206.4 688.2 209.7C688.2 213.0 688.3 216.2 688.4 219.5C688.4 222.8 688.5 226.1 688.5 229.4C688.6 232.7 688.6 236.0 688.6 239.3C688.7 242.6 688.7 245.9 688.7 249.2C688.7 252.5 688.7 255.7 688.7 259.0C688.7 262.3 688.7 265.6 688.6 268.9C688.6 272.2 688.6 275.5 688.5 278.8C688.5 282.1 688.4 285.4 688.3 288.7C688.3 292.0 688.2 295.2 688.2 298.5C688.1 301.8 688.0 305.1 687.9 308.4C687.9 311.7 687.8 315.0 687.7 318.3C687.6 321.6 687.6 324.9 687.5 328.2C687.4 331.5 687.3 334.7 687.2 338.0C687.1 341.3 687.0 344.6 686.9 347.9C686.7 351.2 686.6 354.5 686.5 357.8C686.4 361.1 686.2 364.4 686.1 367.7C685.9 370.9 685.8 374.2 685.6 377.5C685.5 380.8 685.4 384.1 685.2 387.4C685.1 390.7 685.0 394.0 684.8 397.3C684.7 400.6 684.6 403.9 684.4 407.2C684.3 410.4 684.2 413.7 684.0 417.0C683.9 420.3 683.8 423.6 683.6 426.9C683.5 430.2 683.4 433.5 683.2 436.8C683.1 440.1 683.0 443.4 682.8 446.7C682.7 449.9 682.6 453.2 682.4 456.5C682.3 459.8 682.2 463.1 682.0 466.4C681.9 469.7 681.8 473.0 681.6 476.3C681.5 479.6 681.4 482.9 681.2 486.2C681.1 489.4 680.9 492.7 680.8 496.0C680.7 499.3 680.5 502.6 680.4 505.9"/>
<path d="M716.9 2.3C717.0 5.6 717.1 8.9 717.2 12.2C717.2 15.5 717.3 18.8 717.4 22.0C717.5 25.3 717.6 28.6 717.7 31.9C717.8 35.2 717.8 38.5 717.9 41.8C718.0 45.1 718.1 48.4 718.2 51.7C718.3 55.0 718.4 58.3 718.5 61.5C718.6 64.8 718.7 68.1 718.7 71.4C718.8 74.7 718.9 78.0 719.0 81.3C719.1 84.6 719.2 87.9 719.3 91.2C719.4 94.5 719.5 97.8 719.6 101.0C719.7 104.3 719.8 107.6 719.9 110.9C720.0 114.2 720.1 117.5 720.2 120.8C720.3 124.1 720.4 127.4 720.5 130.7C720.6 134.0 720.7 137.3 720.9 140.5C721.0 143.8 721.1 147.1 721.2 150.4C721.3 153.7 721.4 157.0 721.5 160.3C721.6 163.6 721.7 166.9 721.8 170.2C721.9 173.5 721.9 176.7 722.0 180.0C722.1 183.3 722.1 186.6 722.2 189.9C722.2 193.2 722.3 196.5 722.3 199.8C722.4 203.1 722.5 206.4 722.5 209.7C722.6 213.0 722.6 216.2 722.6 219.5C722.7 222.8 722.7 226.1 722.8 229.4C722.8 232.7 722.8 236.0 722.8 239.3C722.9 242.6 722.9 245.9 722.9 249.2C722.9 252.5 722.9 255.7 722.9 259.0C722.9 262.3 722.9 265.6 722.8 268.9C722.8 272.2 722.8 275.5 722.8 278.8C722.7 282.1 722.7 285.4 722.6 288.7C722.6 292.0 722.5 295.2 722.5 298.5C722.4 301.8 722.4 305.1 722.3 308.4C722.3 311.7 722.2 315.0 722.2 318.3C722.1 321.6 722.0 324.9 722.0 328.2C721.9 331.5 721.8 334.7 721.8 338.0C721.7 341.3 721.6 344.6 721.5 347.9C721.4 351.2 721.3 354.5 721.2 357.8C721.1 361.1 720.9 364.4 720.8 367.7C720.7 370.9 720.6 374.2 720.5 377.5C720.4 380.8 720.3 384.1 720.1 387.4C720.0 390.7 719.9 394.0 719.8 397.3C719.7 400.6 719.7 403.9 719.6 407.2C719.5 410.4 719.4 413.7 719.3 417.0C719.2 420.3 719.1 423.6 719.0 426.9C718.9 430.2 718.8 433.5 718.7 436.8C718.6 440.1 718.5 443.4 718.4 446.7C718.4 449.9 718.3 453.2 718.2 456.5C718.1 459.8 718.0 463.1 717.9 466.4C717.8 469.7 717.7 473.0 717.6 476.3C717.6 479.6 717.5 482.9 717.4 486.2C717.3 489.4 717.2 492.7 717.1 496.0C717.1 499.3 717.0 502.6 716.9 505.9"/>
<path d="M751.6 2.3C751.7 5.6 751.7 8.9 751.8 12.2C751.8 15.5 751.9 18.8 752.0 22.0C752.0 25.3 752.1 28.6 752.2 31.9C752.2 35.2 752.3 38.5 752.3 41.8C752.4 45.1 752.5 48.4 752.5 51.7C752.6 55.0 752.6 58.3 752.7 61.5C752.8 64.8 752.8 68.1 752.9 71.4C752.9 74.7 753.0 78.0 753.0 81.3C753.1 84.6 753.2 87.9 753.2 91.2C753.3 94.5 753.3 97.8 753.4 101.0C753.5 104.3 753.5 107.6 753.6 110.9C753.6 114.2 753.7 117.5 753.8 120.8C753.8 124.1 753.9 127.4 754.0 130.7C754.0 134.0 754.1 137.3 754.2 140.5C754.2 143.8 754.3 147.1 754.4 150.4C754.4 153.7 754.5 157.0 754.5 160.3C754.6 163.6 754.6 166.9 754.7 170.2C754.7 173.5 754.8 176.7 754.8 180.0C754.8 183.3 754.9 186.6 754.9 189.9C754.9 193.2 755.0 196.5 755.0 199.8C755.0 203.1 755.1 206.4 755.1 209.7C755.1 213.0 755.1 216.2 755.2 219.5C755.2 222.8 755.2 226.1 755.2 229.4C755.2 232.7 755.3 236.0 755.3 239.3C755.3 242.6 755.3 245.9 755.3 249.2C755.3 252.5 755.3 255.7 755.3 259.0C755.3 262.3 755.3 265.6 755.3 268.9C755.3 272.2 755.2 275.5 755.2 278.8C755.2 282.1 755.2 285.4 755.2 288.7C755.1 292.0 755.1 295.2 755.1 298.5C755.0 301.8 755.0 305.1 755.0 308.4C755.0 311.7 754.9 315.0 754.9 318.3C754.9 321.6 754.8 324.9 754.8 328.2C754.8 331.5 754.7 334.7 754.7 338.0C754.6 341.3 754.6 344.6 754.5 347.9C754.5 351.2 754.4 354.5 754.3 357.8C754.3 361.1 754.2 364.4 754.1 367.7C754.1 370.9 754.0 374.2 753.9 377.5C753.9 380.8 753.8 384.1 753.8 387.4C753.7 390.7 753.6 394.0 753.6 397.3C753.5 400.6 753.4 403.9 753.4 407.2C753.3 410.4 753.3 413.7 753.2 417.0C753.2 420.3 753.1 423.6 753.0 426.9C753.0 430.2 752.9 433.5 752.9 436.8C752.8 440.1 752.7 443.4 752.7 446.7C752.6 449.9 752.6 453.2 752.5 456.5C752.4 459.8 752.4 463.1 752.3 466.4C752.3 469.7 752.2 473.0 752.1 476.3C752.1 479.6 752.0 482.9 752.0 486.2C751.9 489.4 751.8 492.7 751.8 496.0C751.7 499.3 751.7 502.6 751.6 505.9"/>
<path d="M786.0 2.3C786.0 5.6 786.1 8.9 786.1 12.2C786.1 15.5 786.1 18.8 786.2 22.0C786.2 25.3 786.2 28.6 786.3 31.9C786.3 35.2 786.4 38.5 786.4 41.8C786.4 45.1 786.5 48.4 786.5 51.7C786.5 55.0 786.6 58.3 786.6 61.5C786.7 64.8 786.7 68.1 786.7 71.4C786.8 74.7 786.8 78.0 786.9 81.3C786.9 84.6 787.0 87.9 787.0 91.2C787.1 94.5 787.1 97.8 787.1 101.0C787.2 104.3 787.2 107.6 787.3 110.9C787.3 114.2 787.4 117.5 787.4 120.8C787.5 124.1 787.6 127.4 787.6 130.7C787.7 134.0 787.8 137.3 787.8 140.5C787.9 143.8 788.0 147.1 788.0 150.4C788.1 153.7 788.2 157.0 788.2 160.3C788.3 163.6 788.3 166.9 788.4 170.2C788.4 173.5 788.5 176.7 788.5 180.0C788.5 183.3 788.6 186.6 788.6 189.9C788.6 193.2 788.7 196.5 788.7 199.8C788.7 203.1 788.8 206.4 788.8 209.7C788.8 213.0 788.8 216.2 788.9 219.5C788.9 222.8 788.9 226.1 788.9 229.4C788.9 232.7 789.0 236.0 789.0 239.3C789.0 242.6 789.0 245.9 789.0 249.2C789.0 252.5 789.0 255.7 789.0 259.0C789.0 262.3 789.0 265.6 789.0 268.9C789.0 272.2 788.9 275.5 788.9 278.8C788.9 282.1 788.9 285.4 788.9 288.7C788.8 292.0 788.8 295.2 788.8 298.5C788.7 301.8 788.7 305.1 788.7 308.4C788.7 311.7 788.6 315.0 788.6 318.3C788.6 321.6 788.5 324.9 788.5 328.2C788.5 331.5 788.4 334.7 788.4 338.0C788.3 341.3 788.3 344.6 788.2 347.9C788.1 351.2 788.1 354.5 788.0 357.8C787.9 361.1 787.9 364.4 787.8 367.7C787.7 370.9 787.7 374.2 787.6 377.5C787.5 380.8 787.5 384.1 787.4 387.4C787.4 390.7 787.3 394.0 787.3 397.3C787.2 400.6 787.2 403.9 787.1 407.2C787.1 410.4 787.0 413.7 787.0 417.0C787.0 420.3 786.9 423.6 786.9 426.9C786.8 430.2 786.8 433.5 786.7 436.8C786.7 440.1 786.7 443.4 786.6 446.7C786.6 449.9 786.5 453.2 786.5 456.5C786.5 459.8 786.4 463.1 786.4 466.4C786.3 469.7 786.3 473.0 786.3 476.3C786.2 479.6 786.2 482.9 786.2 486.2C786.1 489.4 786.1 492.7 786.1 496.0C786.1 499.3 786.0 502.6 786.0 505.9"/>
</g>
<rect x="656.5" y="7.0" width="140.9" height="105.0" fill="#fff"/>
<rect x="553.8" y="129.3" width="76.8" height="249.0" fill="none" stroke="#000" stroke-linejoin="round" stroke-width="2.05"/>
<rect x="420.5" y="2.3" width="378.0" height="503.6" fill="none" stroke="#000" stroke-width="2.05"/>
<text x="677.8" y="85.1" font-size="69.5">(b)</text>
<clipPath id="clipc"><rect x="2.8" y="526.1" width="378.1" height="495.6"/></clipPath>
<g clip-path="url(#clipc)" fill="none" stroke="#000" stroke-width="2.3">
<path d="M13.0 526.1C13.0 529.5 13.0 532.8 13.0 536.1C13.0 539.4 13.0 542.7 13.0 546.0C13.0 549.3 13.0 552.6 13.0 555.9C13.0 559.2 13.0 562.5 13.0 565.8C13.0 569.1 13.0 572.4 13.0 575.7C13.0 579.0 13.0 582.3 13.0 585.6C13.0 588.9 13.0 592.2 13.0 595.5C13.0 598.8 13.0 602.1 13.0 605.5C13.0 608.8 13.0 612.1 13.0 615.4C13.0 618.7 13.0 622.0 13.0 625.3C13.0 628.6 13.0 631.9 13.0 635.2C13.0 638.5 13.0 641.8 13.0 645.1C13.0 648.4 13.0 651.7 13.0 655.0C13.0 658.3 13.0 661.6 13.0 664.9C13.0 668.2 13.0 671.5 13.0 674.8C13.0 678.1 13.0 681.5 13.0 684.8C13.0 688.1 13.0 691.4 13.0 694.7C13.0 698.0 13.0 701.3 13.0 704.6C13.0 707.9 13.0 711.2 13.0 714.5C13.0 717.8 13.0 721.1 13.0 724.4C13.0 727.7 13.0 731.0 13.0 734.3C13.0 737.6 13.0 740.9 13.0 744.2C13.0 747.5 13.0 750.8 13.0 754.1C13.0 757.5 13.0 760.8 13.0 764.1C13.0 767.4 13.0 770.7 13.0 774.0C13.0 777.3 13.0 780.6 13.0 783.9C13.0 787.2 13.0 790.5 13.0 793.8C13.0 797.1 13.0 800.4 13.0 803.7C13.0 807.0 13.0 810.3 13.0 813.6C13.0 816.9 13.0 820.2 13.0 823.5C13.0 826.8 13.0 830.1 13.0 833.5C13.0 836.8 13.0 840.1 13.0 843.4C13.0 846.7 13.0 850.0 13.0 853.3C13.0 856.6 13.0 859.9 13.0 863.2C13.0 866.5 13.0 869.8 13.0 873.1C13.0 876.4 13.0 879.7 13.0 883.0C13.0 886.3 13.0 889.6 13.0 892.9C13.0 896.2 13.0 899.5 13.0 902.8C13.0 906.1 13.0 909.5 13.0 912.8C13.0 916.1 13.0 919.4 13.0 922.7C13.0 926.0 13.0 929.3 13.0 932.6C13.0 935.9 13.0 939.2 13.0 942.5C13.0 945.8 13.0 949.1 13.0 952.4C13.0 955.7 13.0 959.0 13.0 962.3C13.0 965.6 13.0 968.9 13.0 972.2C13.0 975.5 13.0 978.8 13.0 982.1C13.0 985.5 13.0 988.8 13.0 992.1C13.0 995.4 13.0 998.7 13.0 1002.0C13.0 1005.3 13.0 1008.6 13.0 1011.9C13.0 1015.2 13.0 1018.5 13.0 1021.8"/>
<path d="M38.7 526.1C38.9 529.5 39.0 532.8 39.2 536.1C39.4 539.4 39.6 542.7 39.8 546.0C40.0 549.3 40.2 552.6 40.4 555.9C40.7 559.2 40.9 562.5 41.2 565.8C41.5 569.1 41.8 572.4 42.1 575.7C42.4 579.0 42.7 582.3 43.0 585.6C43.4 588.9 43.7 592.2 44.0 595.5C44.4 598.8 44.7 602.1 45.1 605.5C45.5 608.8 45.8 612.1 46.2 615.4C46.6 618.7 47.1 622.0 47.5 625.3C47.9 628.6 48.3 631.9 48.8 635.2C49.2 638.5 49.7 641.8 50.1 645.1C50.6 648.4 51.1 651.7 51.6 655.0C52.2 658.3 52.7 661.6 53.4 664.9C54.1 668.2 54.8 671.5 55.6 674.8C56.4 678.1 57.3 681.5 58.2 684.8C59.1 688.1 60.1 691.4 61.2 694.7C62.3 698.0 63.6 701.3 64.8 704.6C66.0 707.9 67.3 711.2 68.6 714.5C70.0 717.8 71.4 721.1 73.0 724.4C74.6 727.7 76.3 731.0 78.1 734.3C79.8 737.6 81.6 740.9 83.2 744.2C84.9 747.5 86.5 750.8 87.9 754.1C89.3 757.5 90.4 760.8 91.1 764.1C91.8 767.4 91.9 770.7 91.3 774.0C90.7 777.3 89.6 780.6 88.3 783.9C87.0 787.2 85.4 790.5 83.7 793.8C82.1 797.1 80.3 800.4 78.6 803.7C76.8 807.0 75.1 810.3 73.5 813.6C71.9 816.9 70.4 820.2 69.0 823.5C67.6 826.8 66.4 830.1 65.1 833.5C63.9 836.8 62.7 840.1 61.6 843.4C60.4 846.7 59.4 850.0 58.4 853.3C57.5 856.6 56.6 859.9 55.8 863.2C55.0 866.5 54.3 869.8 53.6 873.1C52.9 876.4 52.3 879.7 51.8 883.0C51.2 886.3 50.7 889.6 50.3 892.9C49.8 896.2 49.4 899.5 48.9 902.8C48.5 906.1 48.0 909.5 47.6 912.8C47.2 916.1 46.8 919.4 46.4 922.7C46.0 926.0 45.6 929.3 45.2 932.6C44.8 935.9 44.5 939.2 44.1 942.5C43.8 945.8 43.5 949.1 43.1 952.4C42.8 955.7 42.5 959.0 42.2 962.3C41.9 965.6 41.6 968.9 41.3 972.2C41.0 975.5 40.7 978.8 40.5 982.1C40.2 985.5 40.0 988.8 39.8 992.1C39.6 995.4 39.4 998.7 39.3 1002.0C39.1 1005.3 38.9 1008.6 38.8 1011.9C38.6 1015.2 38.5 1018.5 38.4 1021.8"/>
<path d="M79.3 526.1C79.6 529.5 79.8 532.8 80.1 536.1C80.4 539.4 80.8 542.7 81.1 546.0C81.5 549.3 81.9 552.6 82.4 555.9C82.8 559.2 83.3 562.5 83.8 565.8C84.4 569.1 84.9 572.4 85.5 575.7C86.1 579.0 86.7 582.3 87.4 585.6C88.0 588.9 88.7 592.2 89.5 595.5C90.2 598.8 91.0 602.1 91.9 605.5C92.9 608.8 93.9 612.1 95.1 615.4C96.3 618.7 97.7 622.0 99.1 625.3C100.5 628.6 102.0 631.9 103.6 635.2C105.3 638.5 107.0 641.8 108.9 645.1C110.9 648.4 113.0 651.7 115.4 655.0C117.9 658.3 120.9 661.6 124.9 664.9C128.9 668.2 133.7 671.5 138.0 674.8C142.4 678.1 146.4 681.5 149.9 684.8C153.3 688.1 156.3 691.4 158.8 694.7C161.3 698.0 163.5 701.3 165.4 704.6C167.4 707.9 169.2 711.2 170.8 714.5C172.5 717.8 174.0 721.1 175.4 724.4C176.7 727.7 177.9 731.0 179.0 734.3C180.1 737.6 180.9 740.9 181.6 744.2C182.4 747.5 183.0 750.8 183.6 754.1C184.2 757.5 184.9 760.8 185.3 764.1C185.8 767.4 185.8 770.7 185.4 774.0C185.1 777.3 184.4 780.6 183.7 783.9C183.1 787.2 182.5 790.5 181.8 793.8C181.1 797.1 180.3 800.4 179.3 803.7C178.3 807.0 177.1 810.3 175.7 813.6C174.4 816.9 173.0 820.2 171.3 823.5C169.7 826.8 167.9 830.1 166.0 833.5C164.1 836.8 162.0 840.1 159.5 843.4C157.1 846.7 154.2 850.0 150.9 853.3C147.5 856.6 143.6 859.9 139.3 863.2C135.0 866.5 130.3 869.8 126.1 873.1C122.0 876.4 118.7 879.7 116.2 883.0C113.6 886.3 111.5 889.6 109.5 892.9C107.5 896.2 105.8 899.5 104.1 902.8C102.5 906.1 101.0 909.5 99.5 912.8C98.1 916.1 96.7 919.4 95.5 922.7C94.2 926.0 93.2 929.3 92.2 932.6C91.3 935.9 90.4 939.2 89.7 942.5C88.9 945.8 88.2 949.1 87.6 952.4C86.9 955.7 86.3 959.0 85.7 962.3C85.1 965.6 84.5 968.9 84.0 972.2C83.5 975.5 83.0 978.8 82.5 982.1C82.0 985.5 81.6 988.8 81.3 992.1C80.9 995.4 80.5 998.7 80.2 1002.0C79.9 1005.3 79.6 1008.6 79.4 1011.9C79.1 1015.2 78.9 1018.5 78.7 1021.8"/>
<path d="M122.7 526.1C123.2 529.5 123.6 532.8 124.1 536.1C124.5 539.4 125.0 542.7 125.5 546.0C126.0 549.3 126.5 552.6 127.0 555.9C127.5 559.2 128.1 562.5 128.6 565.8C129.2 569.1 129.9 572.4 130.6 575.7C131.4 579.0 132.2 582.3 133.2 585.6C134.1 588.9 135.2 592.2 136.3 595.5C137.5 598.8 138.7 602.1 140.1 605.5C141.5 608.8 143.0 612.1 144.7 615.4C146.4 618.7 148.2 622.0 150.2 625.3C152.2 628.6 154.4 631.9 156.8 635.2C159.3 638.5 161.9 641.8 164.6 645.1C167.3 648.4 170.3 651.7 173.5 655.0C176.7 658.3 180.0 661.6 182.9 664.9C185.8 668.2 188.4 671.5 190.7 674.8C192.9 678.1 195.0 681.5 196.9 684.8C198.9 688.1 200.6 691.4 202.1 694.7C203.6 698.0 205.0 701.3 206.2 704.6C207.5 707.9 208.6 711.2 209.5 714.5C210.5 717.8 211.2 721.1 211.9 724.4C212.5 727.7 213.1 731.0 213.5 734.3C214.0 737.6 214.4 740.9 214.7 744.2C215.0 747.5 215.3 750.8 215.5 754.1C215.7 757.5 215.9 760.8 216.0 764.1C216.1 767.4 216.1 770.7 216.0 774.0C215.9 777.3 215.7 780.6 215.5 783.9C215.3 787.2 215.1 790.5 214.8 793.8C214.5 797.1 214.1 800.4 213.7 803.7C213.2 807.0 212.7 810.3 212.0 813.6C211.4 816.9 210.7 820.2 209.8 823.5C208.9 826.8 207.8 830.1 206.6 833.5C205.3 836.8 204.0 840.1 202.5 843.4C201.0 846.7 199.4 850.0 197.5 853.3C195.6 856.6 193.6 859.9 191.3 863.2C189.1 866.5 186.6 869.8 183.8 873.1C180.9 876.4 177.6 879.7 174.4 883.0C171.2 886.3 168.2 889.6 165.4 892.9C162.6 896.2 160.0 899.5 157.5 902.8C155.1 906.1 152.8 909.5 150.8 912.8C148.7 916.1 146.9 919.4 145.2 922.7C143.5 926.0 141.9 929.3 140.5 932.6C139.1 935.9 137.9 939.2 136.7 942.5C135.5 945.8 134.4 949.1 133.5 952.4C132.5 955.7 131.6 959.0 130.8 962.3C130.1 965.6 129.4 968.9 128.8 972.2C128.2 975.5 127.7 978.8 127.2 982.1C126.6 985.5 126.1 988.8 125.6 992.1C125.1 995.4 124.7 998.7 124.2 1002.0C123.7 1005.3 123.3 1008.6 122.9 1011.9C122.4 1015.2 122.0 1018.5 121.6 1021.8"/>
<path d="M164.1 526.1C164.6 529.5 165.0 532.8 165.5 536.1C166.0 539.4 166.5 542.7 167.1 546.0C167.7 549.3 168.3 552.6 169.0 555.9C169.7 559.2 170.4 562.5 171.2 565.8C172.1 569.1 172.9 572.4 173.8 575.7C174.7 579.0 175.7 582.3 176.8 585.6C177.8 588.9 178.9 592.2 180.2 595.5C181.4 598.8 182.7 602.1 184.1 605.5C185.6 608.8 187.1 612.1 188.8 615.4C190.5 618.7 192.3 622.0 194.3 625.3C196.2 628.6 198.4 631.9 200.8 635.2C203.1 638.5 205.5 641.8 207.9 645.1C210.3 648.4 212.6 651.7 215.0 655.0C217.4 658.3 219.7 661.6 221.8 664.9C223.8 668.2 225.5 671.5 227.1 674.8C228.7 678.1 230.1 681.5 231.4 684.8C232.6 688.1 233.7 691.4 234.6 694.7C235.6 698.0 236.4 701.3 237.1 704.6C237.8 707.9 238.5 711.2 239.0 714.5C239.5 717.8 239.9 721.1 240.3 724.4C240.6 727.7 240.9 731.0 241.1 734.3C241.4 737.6 241.6 740.9 241.7 744.2C241.9 747.5 242.0 750.8 242.2 754.1C242.3 757.5 242.4 760.8 242.4 764.1C242.5 767.4 242.5 770.7 242.4 774.0C242.4 777.3 242.3 780.6 242.2 783.9C242.1 787.2 241.9 790.5 241.8 793.8C241.6 797.1 241.5 800.4 241.2 803.7C241.0 807.0 240.7 810.3 240.4 813.6C240.0 816.9 239.6 820.2 239.1 823.5C238.6 826.8 238.0 830.1 237.3 833.5C236.6 836.8 235.8 840.1 234.9 843.4C234.0 846.7 233.0 850.0 231.7 853.3C230.5 856.6 229.1 859.9 227.6 863.2C226.0 866.5 224.3 869.8 222.3 873.1C220.3 876.4 218.0 879.7 215.7 883.0C213.3 886.3 210.9 889.6 208.6 892.9C206.2 896.2 203.8 899.5 201.5 902.8C199.1 906.1 196.9 909.5 194.8 912.8C192.8 916.1 191.0 919.4 189.3 922.7C187.6 926.0 186.0 929.3 184.5 932.6C183.1 935.9 181.7 939.2 180.5 942.5C179.3 945.8 178.1 949.1 177.1 952.4C176.0 955.7 175.0 959.0 174.1 962.3C173.2 965.6 172.3 968.9 171.5 972.2C170.7 975.5 169.9 978.8 169.2 982.1C168.5 985.5 167.9 988.8 167.3 992.1C166.7 995.4 166.1 998.7 165.6 1002.0C165.1 1005.3 164.7 1008.6 164.3 1011.9C163.9 1015.2 163.5 1018.5 163.1 1021.8"/>
<path d="M203.8 526.1C204.3 529.5 204.8 532.8 205.4 536.1C205.9 539.4 206.6 542.7 207.2 546.0C207.9 549.3 208.5 552.6 209.3 555.9C210.0 559.2 210.8 562.5 211.6 565.8C212.4 569.1 213.3 572.4 214.2 575.7C215.2 579.0 216.3 582.3 217.4 585.6C218.6 588.9 219.9 592.2 221.1 595.5C222.4 598.8 223.5 602.1 224.6 605.5C225.7 608.8 226.8 612.1 227.9 615.4C229.1 618.7 230.3 622.0 231.7 625.3C233.2 628.6 234.9 631.9 236.7 635.2C238.5 638.5 240.4 641.8 242.2 645.1C243.9 648.4 245.5 651.7 247.2 655.0C248.8 658.3 250.4 661.6 251.8 664.9C253.3 668.2 254.6 671.5 255.7 674.8C256.8 678.1 257.9 681.5 258.9 684.8C259.8 688.1 260.7 691.4 261.5 694.7C262.3 698.0 262.9 701.3 263.4 704.6C263.9 707.9 264.4 711.2 264.8 714.5C265.2 717.8 265.6 721.1 265.9 724.4C266.2 727.7 266.4 731.0 266.6 734.3C266.8 737.6 267.0 740.9 267.2 744.2C267.4 747.5 267.5 750.8 267.7 754.1C267.8 757.5 267.9 760.8 267.9 764.1C268.0 767.4 268.0 770.7 267.9 774.0C267.9 777.3 267.8 780.6 267.7 783.9C267.6 787.2 267.4 790.5 267.2 793.8C267.1 797.1 266.9 800.4 266.7 803.7C266.5 807.0 266.2 810.3 266.0 813.6C265.7 816.9 265.3 820.2 264.9 823.5C264.5 826.8 264.1 830.1 263.6 833.5C263.0 836.8 262.5 840.1 261.7 843.4C261.0 846.7 260.1 850.0 259.1 853.3C258.2 856.6 257.2 859.9 256.0 863.2C254.9 866.5 253.7 869.8 252.2 873.1C250.8 876.4 249.2 879.7 247.6 883.0C246.0 886.3 244.4 889.6 242.7 892.9C240.9 896.2 239.1 899.5 237.2 902.8C235.4 906.1 233.7 909.5 232.2 912.8C230.7 916.1 229.4 919.4 228.3 922.7C227.1 926.0 226.1 929.3 225.0 932.6C223.9 935.9 222.7 939.2 221.5 942.5C220.3 945.8 219.0 949.1 217.8 952.4C216.6 955.7 215.5 959.0 214.5 962.3C213.5 965.6 212.7 968.9 211.8 972.2C211.0 975.5 210.2 978.8 209.5 982.1C208.7 985.5 208.1 988.8 207.4 992.1C206.7 995.4 206.1 998.7 205.5 1002.0C205.0 1005.3 204.4 1008.6 203.9 1011.9C203.4 1015.2 202.9 1018.5 202.4 1021.8"/>
<path d="M241.1 526.1C241.5 529.5 241.9 532.8 242.4 536.1C242.8 539.4 243.4 542.7 243.9 546.0C244.5 549.3 245.1 552.6 245.7 555.9C246.4 559.2 247.0 562.5 247.8 565.8C248.5 569.1 249.3 572.4 250.1 575.7C251.0 579.0 251.9 582.3 252.8 585.6C253.7 588.9 254.7 592.2 255.6 595.5C256.6 598.8 257.6 602.1 258.7 605.5C259.8 608.8 260.9 612.1 262.0 615.4C263.1 618.7 264.2 622.0 265.4 625.3C266.6 628.6 267.8 631.9 269.0 635.2C270.3 638.5 271.6 641.8 272.9 645.1C274.1 648.4 275.2 651.7 276.2 655.0C277.3 658.3 278.2 661.6 279.1 664.9C280.0 668.2 280.8 671.5 281.5 674.8C282.2 678.1 282.8 681.5 283.4 684.8C283.9 688.1 284.4 691.4 284.7 694.7C285.1 698.0 285.4 701.3 285.6 704.6C285.9 707.9 286.0 711.2 286.2 714.5C286.3 717.8 286.3 721.1 286.4 724.4C286.4 727.7 286.5 731.0 286.5 734.3C286.6 737.6 286.6 740.9 286.7 744.2C286.7 747.5 286.7 750.8 286.7 754.1C286.8 757.5 286.8 760.8 286.8 764.1C286.8 767.4 286.8 770.7 286.8 774.0C286.8 777.3 286.8 780.6 286.8 783.9C286.7 787.2 286.7 790.5 286.7 793.8C286.6 797.1 286.6 800.4 286.6 803.7C286.5 807.0 286.5 810.3 286.4 813.6C286.3 816.9 286.3 820.2 286.2 823.5C286.1 826.8 285.9 830.1 285.7 833.5C285.5 836.8 285.2 840.1 284.8 843.4C284.5 846.7 284.1 850.0 283.5 853.3C283.0 856.6 282.4 859.9 281.7 863.2C281.0 866.5 280.2 869.8 279.4 873.1C278.5 876.4 277.5 879.7 276.5 883.0C275.5 886.3 274.4 889.6 273.2 892.9C272.0 896.2 270.7 899.5 269.4 902.8C268.1 906.1 266.9 909.5 265.7 912.8C264.6 916.1 263.4 919.4 262.3 922.7C261.2 926.0 260.1 929.3 259.0 932.6C257.9 935.9 256.9 939.2 255.9 942.5C254.9 945.8 254.0 949.1 253.1 952.4C252.2 955.7 251.3 959.0 250.4 962.3C249.5 965.6 248.7 968.9 248.0 972.2C247.2 975.5 246.5 978.8 245.9 982.1C245.3 985.5 244.7 988.8 244.1 992.1C243.5 995.4 243.0 998.7 242.5 1002.0C242.0 1005.3 241.6 1008.6 241.2 1011.9C240.8 1015.2 240.4 1018.5 240.1 1021.8"/>
<path d="M276.1 526.1C276.4 529.5 276.7 532.8 277.1 536.1C277.4 539.4 277.8 542.7 278.2 546.0C278.6 549.3 279.0 552.6 279.4 555.9C279.9 559.2 280.4 562.5 280.9 565.8C281.4 569.1 282.0 572.4 282.6 575.7C283.1 579.0 283.7 582.3 284.3 585.6C284.9 588.9 285.6 592.2 286.3 595.5C286.9 598.8 287.6 602.1 288.3 605.5C289.1 608.8 289.8 612.1 290.6 615.4C291.4 618.7 292.3 622.0 293.1 625.3C294.0 628.6 294.8 631.9 295.7 635.2C296.5 638.5 297.4 641.8 298.2 645.1C299.1 648.4 300.0 651.7 300.8 655.0C301.6 658.3 302.4 661.6 303.2 664.9C303.9 668.2 304.6 671.5 305.3 674.8C306.0 678.1 306.6 681.5 307.3 684.8C307.9 688.1 308.4 691.4 308.9 694.7C309.4 698.0 309.8 701.3 310.1 704.6C310.5 707.9 310.7 711.2 311.0 714.5C311.2 717.8 311.4 721.1 311.6 724.4C311.8 727.7 311.9 731.0 312.1 734.3C312.2 737.6 312.3 740.9 312.4 744.2C312.5 747.5 312.6 750.8 312.7 754.1C312.8 757.5 312.8 760.8 312.9 764.1C312.9 767.4 312.9 770.7 312.9 774.0C312.8 777.3 312.8 780.6 312.7 783.9C312.6 787.2 312.5 790.5 312.4 793.8C312.3 797.1 312.2 800.4 312.1 803.7C312.0 807.0 311.8 810.3 311.7 813.6C311.5 816.9 311.3 820.2 311.0 823.5C310.8 826.8 310.5 830.1 310.2 833.5C309.9 836.8 309.5 840.1 309.1 843.4C308.6 846.7 308.0 850.0 307.4 853.3C306.8 856.6 306.2 859.9 305.5 863.2C304.8 866.5 304.1 869.8 303.4 873.1C302.7 876.4 301.9 879.7 301.0 883.0C300.2 886.3 299.3 889.6 298.5 892.9C297.6 896.2 296.8 899.5 295.9 902.8C295.1 906.1 294.2 909.5 293.4 912.8C292.5 916.1 291.7 919.4 290.9 922.7C290.1 926.0 289.3 929.3 288.6 932.6C287.8 935.9 287.1 939.2 286.5 942.5C285.8 945.8 285.1 949.1 284.5 952.4C283.9 955.7 283.3 959.0 282.7 962.3C282.2 965.6 281.6 968.9 281.1 972.2C280.5 975.5 280.0 978.8 279.6 982.1C279.1 985.5 278.7 988.8 278.3 992.1C277.9 995.4 277.5 998.7 277.2 1002.0C276.8 1005.3 276.5 1008.6 276.2 1011.9C275.9 1015.2 275.6 1018.5 275.4 1021.8"/>
<path d="M311.2 526.1C311.5 529.5 311.7 532.8 312.0 536.1C312.3 539.4 312.7 542.7 313.0 546.0C313.3 549.3 313.7 552.6 314.1 555.9C314.4 559.2 314.8 562.5 315.3 565.8C315.7 569.1 316.2 572.4 316.6 575.7C317.1 579.0 317.6 582.3 318.2 585.6C318.7 588.9 319.3 592.2 319.9 595.5C320.5 598.8 321.2 602.1 321.8 605.5C322.3 608.8 322.9 612.1 323.5 615.4C324.1 618.7 324.7 622.0 325.3 625.3C325.9 628.6 326.4 631.9 327.0 635.2C327.6 638.5 328.1 641.8 328.6 645.1C329.1 648.4 329.7 651.7 330.2 655.0C330.7 658.3 331.1 661.6 331.6 664.9C332.0 668.2 332.4 671.5 332.8 674.8C333.1 678.1 333.5 681.5 333.8 684.8C334.1 688.1 334.4 691.4 334.7 694.7C335.0 698.0 335.3 701.3 335.5 704.6C335.8 707.9 336.0 711.2 336.3 714.5C336.5 717.8 336.7 721.1 336.9 724.4C337.1 727.7 337.2 731.0 337.4 734.3C337.5 737.6 337.6 740.9 337.8 744.2C337.9 747.5 338.0 750.8 338.1 754.1C338.2 757.5 338.2 760.8 338.3 764.1C338.3 767.4 338.3 770.7 338.3 774.0C338.2 777.3 338.2 780.6 338.1 783.9C338.0 787.2 337.9 790.5 337.8 793.8C337.7 797.1 337.5 800.4 337.4 803.7C337.3 807.0 337.1 810.3 337.0 813.6C336.8 816.9 336.6 820.2 336.3 823.5C336.1 826.8 335.8 830.1 335.6 833.5C335.3 836.8 335.1 840.1 334.8 843.4C334.5 846.7 334.2 850.0 333.9 853.3C333.6 856.6 333.2 859.9 332.9 863.2C332.5 866.5 332.1 869.8 331.7 873.1C331.3 876.4 330.8 879.7 330.3 883.0C329.8 886.3 329.3 889.6 328.8 892.9C328.2 896.2 327.7 899.5 327.2 902.8C326.6 906.1 326.0 909.5 325.5 912.8C324.9 916.1 324.3 919.4 323.7 922.7C323.1 926.0 322.5 929.3 321.9 932.6C321.3 935.9 320.7 939.2 320.1 942.5C319.5 945.8 318.9 949.1 318.3 952.4C317.8 955.7 317.3 959.0 316.8 962.3C316.3 965.6 315.8 968.9 315.4 972.2C315.0 975.5 314.6 978.8 314.2 982.1C313.8 985.5 313.4 988.8 313.1 992.1C312.8 995.4 312.4 998.7 312.1 1002.0C311.8 1005.3 311.5 1008.6 311.3 1011.9C311.0 1015.2 310.8 1018.5 310.6 1021.8"/>
<path d="M344.0 526.1C344.2 529.5 344.5 532.8 344.7 536.1C345.0 539.4 345.2 542.7 345.5 546.0C345.8 549.3 346.1 552.6 346.4 555.9C346.7 559.2 347.0 562.5 347.4 565.8C347.7 569.1 348.1 572.4 348.4 575.7C348.8 579.0 349.2 582.3 349.6 585.6C350.0 588.9 350.4 592.2 350.8 595.5C351.3 598.8 351.7 602.1 352.1 605.5C352.5 608.8 353.0 612.1 353.4 615.4C353.8 618.7 354.2 622.0 354.7 625.3C355.1 628.6 355.5 631.9 355.9 635.2C356.3 638.5 356.6 641.8 357.0 645.1C357.3 648.4 357.7 651.7 358.0 655.0C358.3 658.3 358.6 661.6 358.9 664.9C359.2 668.2 359.5 671.5 359.8 674.8C360.1 678.1 360.4 681.5 360.7 684.8C361.0 688.1 361.2 691.4 361.5 694.7C361.7 698.0 362.0 701.3 362.2 704.6C362.4 707.9 362.6 711.2 362.9 714.5C363.1 717.8 363.3 721.1 363.4 724.4C363.6 727.7 363.7 731.0 363.7 734.3C363.8 737.6 363.9 740.9 363.9 744.2C364.0 747.5 364.1 750.8 364.1 754.1C364.1 757.5 364.2 760.8 364.2 764.1C364.2 767.4 364.2 770.7 364.2 774.0C364.2 777.3 364.1 780.6 364.1 783.9C364.1 787.2 364.0 790.5 364.0 793.8C363.9 797.1 363.8 800.4 363.8 803.7C363.7 807.0 363.6 810.3 363.4 813.6C363.3 816.9 363.1 820.2 362.9 823.5C362.7 826.8 362.5 830.1 362.3 833.5C362.0 836.8 361.8 840.1 361.6 843.4C361.3 846.7 361.1 850.0 360.8 853.3C360.5 856.6 360.2 859.9 359.9 863.2C359.6 866.5 359.3 869.8 359.0 873.1C358.7 876.4 358.4 879.7 358.1 883.0C357.8 886.3 357.4 889.6 357.1 892.9C356.7 896.2 356.4 899.5 356.0 902.8C355.6 906.1 355.2 909.5 354.8 912.8C354.4 916.1 353.9 919.4 353.5 922.7C353.1 926.0 352.7 929.3 352.2 932.6C351.8 935.9 351.4 939.2 351.0 942.5C350.5 945.8 350.1 949.1 349.7 952.4C349.3 955.7 348.9 959.0 348.5 962.3C348.2 965.6 347.8 968.9 347.5 972.2C347.1 975.5 346.8 978.8 346.5 982.1C346.2 985.5 345.9 988.8 345.6 992.1C345.3 995.4 345.1 998.7 344.8 1002.0C344.5 1005.3 344.3 1008.6 344.0 1011.9C343.8 1015.2 343.6 1018.5 343.4 1021.8"/>
<path d="M376.7 526.1C376.9 529.5 377.2 532.8 377.4 536.1C377.7 539.4 377.9 542.7 378.2 546.0C378.4 549.3 378.6 552.6 378.8 555.9C379.0 559.2 379.2 562.5 379.5 565.8C379.7 569.1 379.9 572.4 380.1 575.7C380.3 579.0 380.5 582.3 380.7 585.6C380.9 588.9 381.1 592.2 381.2 595.5C381.4 598.8 381.6 602.1 381.8 605.5C382.0 608.8 382.1 612.1 382.3 615.4C382.4 618.7 382.6 622.0 382.7 625.3C382.9 628.6 383.1 631.9 383.2 635.2C383.4 638.5 383.5 641.8 383.7 645.1C383.9 648.4 384.0 651.7 384.2 655.0C384.4 658.3 384.5 661.6 384.7 664.9C384.8 668.2 385.0 671.5 385.2 674.8C385.3 678.1 385.5 681.5 385.6 684.8C385.8 688.1 385.9 691.4 386.1 694.7C386.2 698.0 386.4 701.3 386.5 704.6C386.6 707.9 386.8 711.2 386.9 714.5C387.0 717.8 387.1 721.1 387.2 724.4C387.3 727.7 387.4 731.0 387.5 734.3C387.6 737.6 387.7 740.9 387.7 744.2C387.8 747.5 387.9 750.8 387.9 754.1C387.9 757.5 388.0 760.8 388.0 764.1C388.0 767.4 388.0 770.7 388.0 774.0C388.0 777.3 387.9 780.6 387.9 783.9C387.9 787.2 387.8 790.5 387.8 793.8C387.7 797.1 387.6 800.4 387.5 803.7C387.5 807.0 387.4 810.3 387.3 813.6C387.2 816.9 387.0 820.2 386.9 823.5C386.8 826.8 386.7 830.1 386.5 833.5C386.4 836.8 386.3 840.1 386.1 843.4C386.0 846.7 385.8 850.0 385.7 853.3C385.5 856.6 385.4 859.9 385.2 863.2C385.1 866.5 384.9 869.8 384.7 873.1C384.6 876.4 384.4 879.7 384.2 883.0C384.1 886.3 383.9 889.6 383.7 892.9C383.6 896.2 383.4 899.5 383.3 902.8C383.1 906.1 382.9 909.5 382.8 912.8C382.6 916.1 382.5 919.4 382.3 922.7C382.2 926.0 382.0 929.3 381.8 932.6C381.7 935.9 381.5 939.2 381.3 942.5C381.1 945.8 380.9 949.1 380.7 952.4C380.5 955.7 380.3 959.0 380.1 962.3C379.9 965.6 379.7 968.9 379.5 972.2C379.3 975.5 379.1 978.8 378.9 982.1C378.7 985.5 378.5 988.8 378.2 992.1C378.0 995.4 377.8 998.7 377.5 1002.0C377.3 1005.3 377.0 1008.6 376.8 1011.9C376.5 1015.2 376.2 1018.5 376.0 1021.8"/>
<path d="M83.2 743.5L84.2 745.5L85.2 747.5L86.1 749.5L87.1 751.5L87.9 753.5L88.7 755.5L89.5 757.5L90.2 759.5L90.8 761.5L91.3 763.5L91.7 765.5L92.0 767.5L92.0 769.5L92.0 771.5L91.7 773.5L91.3 775.5L90.8 777.5L90.2 779.5L89.5 781.5L88.7 783.5L87.9 785.5L87.1 787.5L86.1 789.5L85.2 791.5L84.2 793.5L83.2 795.5L82.1 797.5L81.1 799.5L80.1 801.5L79.0 803.5L77.9 805.5L77.3 805.5L78.4 803.5L79.4 801.5L80.3 799.5L81.2 797.5L82.1 795.5L83.0 793.5L83.8 791.5L84.6 789.5L85.3 787.5L86.0 785.5L86.6 783.5L87.2 781.5L87.7 779.5L88.2 777.5L88.6 775.5L88.9 773.5L89.1 771.5L89.1 769.5L89.1 767.5L88.9 765.5L88.7 763.5L88.4 761.5L88.0 759.5L87.6 757.5L87.1 755.5L86.6 753.5L86.0 751.5L85.2 749.5L84.4 747.5L83.5 745.5L82.6 743.5Z" fill="#000" stroke="none"/>
</g>
<rect x="239.4" y="529.4" width="140.3" height="106.6" fill="#fff"/>
<rect x="135.3" y="648.2" width="151.4" height="242.9" fill="none" stroke="#000" stroke-linejoin="round" stroke-width="2.05"/>
<rect x="2.8" y="526.1" width="378.1" height="495.6" fill="none" stroke="#000" stroke-width="2.05"/>
<text x="261.1" y="607.6" font-size="69.5">(c)</text>
<clipPath id="clipd"><rect x="420.5" y="526.4" width="378.1" height="495.5"/></clipPath>
<g clip-path="url(#clipd)" fill="none" stroke="#000" stroke-width="2.3">
<path d="M431.2 526.4C431.2 529.7 431.2 533.0 431.2 536.3C431.2 539.6 431.2 542.9 431.2 546.2C431.2 549.5 431.2 552.8 431.2 556.1C431.2 559.4 431.2 562.7 431.2 566.0C431.2 569.3 431.2 572.6 431.2 575.9C431.2 579.3 431.2 582.6 431.2 585.9C431.2 589.2 431.2 592.5 431.2 595.8C431.2 599.1 431.2 602.4 431.2 605.7C431.2 609.0 431.2 612.3 431.2 615.6C431.2 618.9 431.2 622.2 431.2 625.5C431.2 628.8 431.2 632.1 431.2 635.4C431.2 638.7 431.2 642.0 431.2 645.3C431.2 648.6 431.2 651.9 431.2 655.2C431.2 658.5 431.2 661.8 431.2 665.1C431.2 668.4 431.2 671.7 431.2 675.0C431.2 678.4 431.2 681.7 431.2 685.0C431.2 688.3 431.2 691.6 431.2 694.9C431.2 698.2 431.2 701.5 431.2 704.8C431.2 708.1 431.2 711.4 431.2 714.7C431.2 718.0 431.2 721.3 431.2 724.6C431.2 727.9 431.2 731.2 431.2 734.5C431.2 737.8 431.2 741.1 431.2 744.4C431.2 747.7 431.2 751.0 431.2 754.3C431.2 757.6 431.2 760.9 431.2 764.2C431.2 767.5 431.2 770.8 431.2 774.1C431.2 777.5 431.2 780.8 431.2 784.1C431.2 787.4 431.2 790.7 431.2 794.0C431.2 797.3 431.2 800.6 431.2 803.9C431.2 807.2 431.2 810.5 431.2 813.8C431.2 817.1 431.2 820.4 431.2 823.7C431.2 827.0 431.2 830.3 431.2 833.6C431.2 836.9 431.2 840.2 431.2 843.5C431.2 846.8 431.2 850.1 431.2 853.4C431.2 856.7 431.2 860.0 431.2 863.3C431.2 866.6 431.2 869.9 431.2 873.2C431.2 876.6 431.2 879.9 431.2 883.2C431.2 886.5 431.2 889.8 431.2 893.1C431.2 896.4 431.2 899.7 431.2 903.0C431.2 906.3 431.2 909.6 431.2 912.9C431.2 916.2 431.2 919.5 431.2 922.8C431.2 926.1 431.2 929.4 431.2 932.7C431.2 936.0 431.2 939.3 431.2 942.6C431.2 945.9 431.2 949.2 431.2 952.5C431.2 955.8 431.2 959.1 431.2 962.4C431.2 965.7 431.2 969.0 431.2 972.3C431.2 975.7 431.2 979.0 431.2 982.3C431.2 985.6 431.2 988.9 431.2 992.2C431.2 995.5 431.2 998.8 431.2 1002.1C431.2 1005.4 431.2 1008.7 431.2 1012.0C431.2 1015.3 431.2 1018.6 431.2 1021.9"/>
<path d="M454.4 526.4C454.6 529.7 454.8 533.0 455.0 536.3C455.2 539.6 455.4 542.9 455.6 546.2C455.8 549.5 455.9 552.8 456.1 556.1C456.3 559.4 456.5 562.7 456.8 566.0C457.0 569.3 457.2 572.6 457.4 575.9C457.6 579.3 457.9 582.6 458.1 585.9C458.4 589.2 458.6 592.5 458.8 595.8C459.0 599.1 459.2 602.4 459.4 605.7C459.6 609.0 459.7 612.3 459.8 615.6C459.9 618.9 460.0 622.2 460.1 625.5C460.2 628.8 460.3 632.1 460.4 635.4C460.6 638.7 460.7 642.0 460.9 645.3C461.0 648.6 461.2 651.9 461.4 655.2C461.6 658.5 461.9 661.8 462.1 665.1C462.3 668.4 462.5 671.7 462.8 675.0C463.0 678.4 463.2 681.7 463.4 685.0C463.6 688.3 463.8 691.6 464.0 694.9C464.2 698.2 464.3 701.5 464.5 704.8C464.7 708.1 464.9 711.4 465.1 714.7C465.2 718.0 465.4 721.3 465.6 724.6C465.7 727.9 465.9 731.2 466.0 734.5C466.1 737.8 466.2 741.1 466.4 744.4C466.5 747.7 466.6 751.0 466.7 754.3C466.8 757.6 466.9 760.9 466.9 764.2C467.0 767.5 467.0 770.8 466.9 774.1C466.9 777.5 466.8 780.8 466.7 784.1C466.6 787.4 466.5 790.7 466.3 794.0C466.2 797.3 466.1 800.6 466.0 803.9C465.8 807.2 465.7 810.5 465.5 813.8C465.4 817.1 465.2 820.4 465.0 823.7C464.9 827.0 464.7 830.3 464.5 833.6C464.3 836.9 464.1 840.2 463.9 843.5C463.8 846.8 463.6 850.1 463.4 853.4C463.2 856.7 463.0 860.0 462.7 863.3C462.5 866.6 462.3 869.9 462.1 873.2C461.8 876.6 461.6 879.9 461.4 883.2C461.2 886.5 461.0 889.8 460.8 893.1C460.7 896.4 460.5 899.7 460.4 903.0C460.3 906.3 460.2 909.6 460.1 912.9C460.0 916.2 459.9 919.5 459.8 922.8C459.7 926.1 459.5 929.4 459.4 932.7C459.2 936.0 459.0 939.3 458.8 942.6C458.6 945.9 458.3 949.2 458.1 952.5C457.9 955.8 457.6 959.1 457.4 962.4C457.1 965.7 456.9 969.0 456.7 972.3C456.5 975.7 456.3 979.0 456.1 982.3C455.9 985.6 455.7 988.9 455.5 992.2C455.3 995.5 455.2 998.8 455.0 1002.1C454.8 1005.4 454.6 1008.7 454.4 1012.0C454.2 1015.3 454.1 1018.6 453.9 1021.9"/>
<path d="M493.6 526.4C493.8 529.7 494.1 533.0 494.3 536.3C494.6 539.6 494.8 542.9 495.1 546.2C495.4 549.5 495.7 552.8 496.0 556.1C496.3 559.4 496.6 562.7 497.0 566.0C497.3 569.3 497.7 572.6 498.1 575.9C498.5 579.3 498.9 582.6 499.4 585.9C499.8 589.2 500.3 592.5 500.8 595.8C501.2 599.1 501.7 602.4 502.2 605.7C502.6 609.0 503.0 612.3 503.5 615.6C503.9 618.9 504.3 622.2 504.8 625.5C505.2 628.8 505.7 632.1 506.2 635.4C506.7 638.7 507.3 642.0 507.9 645.3C508.6 648.6 509.3 651.9 510.1 655.2C510.9 658.5 511.7 661.8 512.4 665.1C513.2 668.4 514.0 671.7 514.9 675.0C515.7 678.4 516.5 681.7 517.4 685.0C518.2 688.3 519.0 691.6 519.8 694.9C520.6 698.2 521.5 701.5 522.2 704.8C523.0 708.1 523.7 711.4 524.3 714.7C524.9 718.0 525.5 721.3 526.0 724.6C526.5 727.9 527.0 731.2 527.3 734.5C527.7 737.8 528.0 741.1 528.2 744.4C528.5 747.7 528.7 751.0 528.9 754.3C529.1 757.6 529.2 760.9 529.3 764.2C529.4 767.5 529.4 770.8 529.3 774.1C529.2 777.5 529.1 780.8 528.9 784.1C528.7 787.4 528.5 790.7 528.2 794.0C527.9 797.3 527.7 800.6 527.3 803.9C526.9 807.2 526.4 810.5 525.9 813.8C525.4 817.1 524.9 820.4 524.2 823.7C523.6 827.0 522.9 830.3 522.1 833.6C521.4 836.9 520.5 840.2 519.7 843.5C518.9 846.8 518.1 850.1 517.3 853.4C516.4 856.7 515.6 860.0 514.8 863.3C513.9 866.6 513.1 869.9 512.3 873.2C511.6 876.6 510.8 879.9 510.0 883.2C509.2 886.5 508.5 889.8 507.9 893.1C507.2 896.4 506.6 899.7 506.1 903.0C505.6 906.3 505.1 909.6 504.7 912.9C504.3 916.2 503.8 919.5 503.4 922.8C503.0 926.1 502.6 929.4 502.1 932.7C501.6 936.0 501.2 939.3 500.7 942.6C500.2 945.9 499.8 949.2 499.3 952.5C498.9 955.8 498.4 959.1 498.0 962.4C497.7 965.7 497.3 969.0 497.0 972.3C496.6 975.7 496.3 979.0 496.0 982.3C495.7 985.6 495.4 988.9 495.1 992.2C494.8 995.5 494.5 998.8 494.3 1002.1C494.0 1005.4 493.8 1008.7 493.6 1012.0C493.4 1015.3 493.2 1018.6 493.0 1021.9"/>
<path d="M535.3 526.4C535.6 529.7 535.8 533.0 536.0 536.3C536.3 539.6 536.6 542.9 536.9 546.2C537.2 549.5 537.6 552.8 537.9 556.1C538.3 559.4 538.6 562.7 539.0 566.0C539.4 569.3 539.8 572.6 540.3 575.9C540.7 579.3 541.2 582.6 541.7 585.9C542.2 589.2 542.7 592.5 543.3 595.8C543.8 599.1 544.4 602.4 545.1 605.7C545.7 609.0 546.4 612.3 547.1 615.6C547.9 618.9 548.7 622.2 549.6 625.5C550.5 628.8 551.5 632.1 552.6 635.4C553.8 638.7 555.3 642.0 557.0 645.3C558.7 648.6 560.4 651.9 562.0 655.2C563.6 658.5 565.2 661.8 566.6 665.1C568.1 668.4 569.5 671.7 570.9 675.0C572.3 678.4 573.6 681.7 574.8 685.0C576.0 688.3 577.1 691.6 578.2 694.9C579.2 698.2 580.2 701.5 581.1 704.8C582.0 708.1 582.8 711.4 583.5 714.7C584.2 718.0 584.7 721.3 585.2 724.6C585.8 727.9 586.2 731.2 586.6 734.5C586.9 737.8 587.2 741.1 587.4 744.4C587.6 747.7 587.8 751.0 588.0 754.3C588.1 757.6 588.3 760.9 588.3 764.2C588.4 767.5 588.4 770.8 588.3 774.1C588.2 777.5 588.1 780.8 588.0 784.1C587.8 787.4 587.6 790.7 587.4 794.0C587.1 797.3 586.9 800.6 586.5 803.9C586.2 807.2 585.7 810.5 585.2 813.8C584.7 817.1 584.1 820.4 583.4 823.7C582.7 827.0 581.9 830.3 581.0 833.6C580.1 836.9 579.1 840.2 578.0 843.5C577.0 846.8 575.9 850.1 574.6 853.4C573.4 856.7 572.1 860.0 570.7 863.3C569.4 866.6 567.9 869.9 566.5 873.2C565.0 876.6 563.4 879.9 561.8 883.2C560.2 886.5 558.5 889.8 556.8 893.1C555.1 896.4 553.6 899.7 552.5 903.0C551.3 906.3 550.4 909.6 549.5 912.9C548.6 916.2 547.8 919.5 547.1 922.8C546.3 926.1 545.6 929.4 545.0 932.7C544.4 936.0 543.8 939.3 543.2 942.6C542.6 945.9 542.1 949.2 541.6 952.5C541.1 955.8 540.6 959.1 540.2 962.4C539.8 965.7 539.4 969.0 539.0 972.3C538.6 975.7 538.2 979.0 537.9 982.3C537.5 985.6 537.2 988.9 536.9 992.2C536.6 995.5 536.3 998.8 536.0 1002.1C535.8 1005.4 535.5 1008.7 535.3 1012.0C535.1 1015.3 534.9 1018.6 534.7 1021.9"/>
<path d="M576.1 526.4C576.2 529.7 576.4 533.0 576.7 536.3C576.9 539.6 577.3 542.9 577.6 546.2C578.0 549.5 578.4 552.8 578.8 556.1C579.2 559.4 579.7 562.7 580.1 566.0C580.6 569.3 581.1 572.6 581.7 575.9C582.3 579.3 583.0 582.6 583.7 585.9C584.5 589.2 585.3 592.5 586.1 595.8C586.9 599.1 587.8 602.4 588.7 605.7C589.5 609.0 590.4 612.3 591.3 615.6C592.2 618.9 593.2 622.2 594.2 625.5C595.3 628.8 596.3 632.1 597.5 635.4C598.7 638.7 600.0 642.0 601.4 645.3C602.8 648.6 604.4 651.9 606.0 655.2C607.5 658.5 609.0 661.8 610.3 665.1C611.5 668.4 612.6 671.7 613.7 675.0C614.7 678.4 615.7 681.7 616.5 685.0C617.4 688.3 618.1 691.6 618.8 694.9C619.5 698.2 620.2 701.5 620.7 704.8C621.3 708.1 621.8 711.4 622.2 714.7C622.7 718.0 623.0 721.3 623.4 724.6C623.7 727.9 624.0 731.2 624.2 734.5C624.5 737.8 624.6 741.1 624.8 744.4C625.0 747.7 625.1 751.0 625.2 754.3C625.3 757.6 625.4 760.9 625.4 764.2C625.5 767.5 625.5 770.8 625.4 774.1C625.4 777.5 625.3 780.8 625.2 784.1C625.1 787.4 624.9 790.7 624.8 794.0C624.6 797.3 624.5 800.6 624.2 803.9C624.0 807.2 623.7 810.5 623.3 813.8C623.0 817.1 622.6 820.4 622.2 823.7C621.8 827.0 621.3 830.3 620.7 833.6C620.1 836.9 619.5 840.2 618.8 843.5C618.1 846.8 617.3 850.1 616.4 853.4C615.6 856.7 614.6 860.0 613.6 863.3C612.5 866.6 611.4 869.9 610.1 873.2C608.8 876.6 607.3 879.9 605.8 883.2C604.2 886.5 602.7 889.8 601.2 893.1C599.8 896.4 598.5 899.7 597.4 903.0C596.2 906.3 595.1 909.6 594.1 912.9C593.1 916.2 592.1 919.5 591.2 922.8C590.3 926.1 589.4 929.4 588.6 932.7C587.7 936.0 586.8 939.3 586.0 942.6C585.2 945.9 584.4 949.2 583.7 952.5C582.9 955.8 582.2 959.1 581.7 962.4C581.1 965.7 580.6 969.0 580.1 972.3C579.6 975.7 579.2 979.0 578.7 982.3C578.3 985.6 577.9 988.9 577.6 992.2C577.2 995.5 576.9 998.8 576.7 1002.1C576.4 1005.4 576.2 1008.7 576.0 1012.0C575.9 1015.3 575.7 1018.6 575.6 1021.9"/>
<path d="M614.5 526.4C614.8 529.7 615.1 533.0 615.4 536.3C615.7 539.6 616.1 542.9 616.5 546.2C616.9 549.5 617.4 552.8 617.8 556.1C618.3 559.4 618.8 562.7 619.3 566.0C619.8 569.3 620.3 572.6 621.0 575.9C621.6 579.3 622.3 582.6 623.0 585.9C623.7 589.2 624.4 592.5 625.2 595.8C625.9 599.1 626.7 602.4 627.4 605.7C628.1 609.0 628.8 612.3 629.5 615.6C630.2 618.9 630.9 622.2 631.6 625.5C632.4 628.8 633.3 632.1 634.3 635.4C635.4 638.7 636.5 642.0 637.6 645.3C638.7 648.6 639.8 651.9 640.9 655.2C642.1 658.5 643.2 661.8 644.3 665.1C645.4 668.4 646.5 671.7 647.3 675.0C648.2 678.4 648.9 681.7 649.6 685.0C650.2 688.3 650.8 691.6 651.4 694.9C651.9 698.2 652.4 701.5 652.8 704.8C653.2 708.1 653.6 711.4 653.9 714.7C654.2 718.0 654.5 721.3 654.8 724.6C655.1 727.9 655.3 731.2 655.5 734.5C655.7 737.8 655.9 741.1 656.1 744.4C656.3 747.7 656.5 751.0 656.6 754.3C656.8 757.6 656.9 760.9 656.9 764.2C657.0 767.5 657.0 770.8 656.9 774.1C656.9 777.5 656.7 780.8 656.6 784.1C656.4 787.4 656.3 790.7 656.1 794.0C655.9 797.3 655.7 800.6 655.5 803.9C655.3 807.2 655.0 810.5 654.8 813.8C654.5 817.1 654.2 820.4 653.9 823.7C653.5 827.0 653.2 830.3 652.7 833.6C652.3 836.9 651.8 840.2 651.3 843.5C650.7 846.8 650.1 850.1 649.5 853.4C648.8 856.7 648.1 860.0 647.2 863.3C646.3 866.6 645.3 869.9 644.2 873.2C643.1 876.6 641.9 879.9 640.8 883.2C639.7 886.5 638.5 889.8 637.4 893.1C636.3 896.4 635.2 899.7 634.2 903.0C633.2 906.3 632.3 909.6 631.5 912.9C630.8 916.2 630.1 919.5 629.4 922.8C628.7 926.1 628.0 929.4 627.3 932.7C626.6 936.0 625.9 939.3 625.1 942.6C624.4 945.9 623.6 949.2 622.9 952.5C622.2 955.8 621.5 959.1 620.9 962.4C620.3 965.7 619.7 969.0 619.2 972.3C618.7 975.7 618.2 979.0 617.8 982.3C617.3 985.6 616.9 988.9 616.5 992.2C616.1 995.5 615.7 998.8 615.4 1002.1C615.0 1005.4 614.8 1008.7 614.5 1012.0C614.2 1015.3 614.0 1018.6 613.7 1021.9"/>
<path d="M651.6 526.4C651.9 529.7 652.2 533.0 652.5 536.3C652.8 539.6 653.2 542.9 653.5 546.2C653.9 549.5 654.2 552.8 654.6 556.1C654.9 559.4 655.3 562.7 655.7 566.0C656.1 569.3 656.5 572.6 657.0 575.9C657.4 579.3 657.9 582.6 658.4 585.9C658.9 589.2 659.5 592.5 660.0 595.8C660.6 599.1 661.2 602.4 661.8 605.7C662.4 609.0 663.1 612.3 663.8 615.6C664.5 618.9 665.3 622.2 666.1 625.5C667.0 628.8 667.8 632.1 668.7 635.4C669.6 638.7 670.6 642.0 671.5 645.3C672.5 648.6 673.3 651.9 674.2 655.2C675.1 658.5 675.9 661.8 676.7 665.1C677.4 668.4 678.1 671.7 678.8 675.0C679.4 678.4 680.0 681.7 680.5 685.0C681.0 688.3 681.5 691.6 681.9 694.9C682.3 698.2 682.7 701.5 683.1 704.8C683.4 708.1 683.7 711.4 684.0 714.7C684.2 718.0 684.5 721.3 684.7 724.6C684.9 727.9 685.1 731.2 685.3 734.5C685.4 737.8 685.6 741.1 685.7 744.4C685.9 747.7 686.0 751.0 686.1 754.3C686.2 757.6 686.3 760.9 686.3 764.2C686.4 767.5 686.4 770.8 686.3 774.1C686.3 777.5 686.2 780.8 686.1 784.1C686.0 787.4 685.8 790.7 685.7 794.0C685.6 797.3 685.4 800.6 685.2 803.9C685.1 807.2 684.9 810.5 684.7 813.8C684.4 817.1 684.2 820.4 683.9 823.7C683.7 827.0 683.4 830.3 683.0 833.6C682.7 836.9 682.3 840.2 681.9 843.5C681.4 846.8 680.9 850.1 680.4 853.4C679.9 856.7 679.3 860.0 678.7 863.3C678.1 866.6 677.3 869.9 676.6 873.2C675.8 876.6 675.0 879.9 674.1 883.2C673.2 886.5 672.4 889.8 671.4 893.1C670.5 896.4 669.5 899.7 668.6 903.0C667.7 906.3 666.9 909.6 666.0 912.9C665.2 916.2 664.4 919.5 663.7 922.8C663.0 926.1 662.3 929.4 661.7 932.7C661.1 936.0 660.5 939.3 660.0 942.6C659.4 945.9 658.9 949.2 658.4 952.5C657.8 955.8 657.4 959.1 656.9 962.4C656.4 965.7 656.0 969.0 655.6 972.3C655.2 975.7 654.9 979.0 654.5 982.3C654.2 985.6 653.8 988.9 653.5 992.2C653.1 995.5 652.8 998.8 652.5 1002.1C652.2 1005.4 651.9 1008.7 651.6 1012.0C651.3 1015.3 651.0 1018.6 650.7 1021.9"/>
<path d="M687.4 526.4C687.7 529.7 687.9 533.0 688.1 536.3C688.4 539.6 688.7 542.9 688.9 546.2C689.2 549.5 689.5 552.8 689.8 556.1C690.1 559.4 690.5 562.7 690.8 566.0C691.2 569.3 691.5 572.6 692.0 575.9C692.4 579.3 692.8 582.6 693.3 585.9C693.7 589.2 694.2 592.5 694.7 595.8C695.2 599.1 695.8 602.4 696.4 605.7C697.0 609.0 697.6 612.3 698.2 615.6C698.8 618.9 699.4 622.2 700.1 625.5C700.8 628.8 701.5 632.1 702.2 635.4C702.9 638.7 703.5 642.0 704.0 645.3C704.5 648.6 705.0 651.9 705.3 655.2C705.7 658.5 706.1 661.8 706.4 665.1C706.7 668.4 707.1 671.7 707.5 675.0C707.8 678.4 708.2 681.7 708.6 685.0C709.0 688.3 709.3 691.6 709.7 694.9C710.0 698.2 710.3 701.5 710.5 704.8C710.8 708.1 711.0 711.4 711.2 714.7C711.4 718.0 711.6 721.3 711.8 724.6C711.9 727.9 712.1 731.2 712.2 734.5C712.3 737.8 712.4 741.1 712.5 744.4C712.7 747.7 712.8 751.0 712.9 754.3C712.9 757.6 713.0 760.9 713.1 764.2C713.1 767.5 713.1 770.8 713.1 774.1C713.0 777.5 712.9 780.8 712.8 784.1C712.8 787.4 712.6 790.7 712.5 794.0C712.4 797.3 712.3 800.6 712.2 803.9C712.0 807.2 711.9 810.5 711.7 813.8C711.6 817.1 711.4 820.4 711.2 823.7C711.0 827.0 710.8 830.3 710.5 833.6C710.3 836.9 710.0 840.2 709.6 843.5C709.3 846.8 708.9 850.1 708.6 853.4C708.2 856.7 707.8 860.0 707.4 863.3C707.1 866.6 706.7 869.9 706.4 873.2C706.0 876.6 705.7 879.9 705.3 883.2C704.9 886.5 704.5 889.8 704.0 893.1C703.4 896.4 702.8 899.7 702.1 903.0C701.4 906.3 700.7 909.6 700.0 912.9C699.4 916.2 698.7 919.5 698.1 922.8C697.5 926.1 696.9 929.4 696.3 932.7C695.7 936.0 695.2 939.3 694.7 942.6C694.2 945.9 693.7 949.2 693.2 952.5C692.8 955.8 692.3 959.1 691.9 962.4C691.5 965.7 691.1 969.0 690.8 972.3C690.4 975.7 690.1 979.0 689.8 982.3C689.5 985.6 689.2 988.9 688.9 992.2C688.6 995.5 688.4 998.8 688.1 1002.1C687.9 1005.4 687.6 1008.7 687.4 1012.0C687.2 1015.3 687.0 1018.6 686.9 1021.9"/>
<path d="M723.3 526.4C723.4 529.7 723.5 533.0 723.7 536.3C723.9 539.6 724.1 542.9 724.3 546.2C724.5 549.5 724.7 552.8 724.9 556.1C725.2 559.4 725.4 562.7 725.7 566.0C726.0 569.3 726.3 572.6 726.6 575.9C726.9 579.3 727.2 582.6 727.5 585.9C727.8 589.2 728.1 592.5 728.5 595.8C728.8 599.1 729.1 602.4 729.5 605.7C729.9 609.0 730.3 612.3 730.7 615.6C731.1 618.9 731.5 622.2 731.9 625.5C732.3 628.8 732.8 632.1 733.2 635.4C733.6 638.7 734.0 642.0 734.5 645.3C734.9 648.6 735.3 651.9 735.7 655.2C736.2 658.5 736.6 661.8 736.9 665.1C737.2 668.4 737.5 671.7 737.8 675.0C738.1 678.4 738.4 681.7 738.7 685.0C738.9 688.3 739.2 691.6 739.4 694.9C739.6 698.2 739.8 701.5 740.0 704.8C740.2 708.1 740.4 711.4 740.6 714.7C740.7 718.0 740.9 721.3 741.0 724.6C741.2 727.9 741.3 731.2 741.4 734.5C741.5 737.8 741.6 741.1 741.7 744.4C741.7 747.7 741.8 751.0 741.9 754.3C741.9 757.6 742.0 760.9 742.0 764.2C742.0 767.5 742.0 770.8 742.0 774.1C741.9 777.5 741.9 780.8 741.9 784.1C741.8 787.4 741.7 790.7 741.7 794.0C741.6 797.3 741.5 800.6 741.4 803.9C741.3 807.2 741.2 810.5 741.0 813.8C740.9 817.1 740.7 820.4 740.5 823.7C740.4 827.0 740.2 830.3 740.0 833.6C739.8 836.9 739.6 840.2 739.4 843.5C739.1 846.8 738.9 850.1 738.6 853.4C738.4 856.7 738.1 860.0 737.8 863.3C737.5 866.6 737.2 869.9 736.9 873.2C736.5 876.6 736.1 879.9 735.7 883.2C735.3 886.5 734.8 889.8 734.4 893.1C734.0 896.4 733.6 899.7 733.1 903.0C732.7 906.3 732.3 909.6 731.9 912.9C731.4 916.2 731.0 919.5 730.6 922.8C730.2 926.1 729.8 929.4 729.5 932.7C729.1 936.0 728.8 939.3 728.4 942.6C728.1 945.9 727.8 949.2 727.5 952.5C727.1 955.8 726.8 959.1 726.5 962.4C726.3 965.7 726.0 969.0 725.7 972.3C725.4 975.7 725.1 979.0 724.9 982.3C724.6 985.6 724.4 988.9 724.2 992.2C724.0 995.5 723.9 998.8 723.7 1002.1C723.5 1005.4 723.4 1008.7 723.2 1012.0C723.1 1015.3 723.0 1018.6 722.9 1021.9"/>
<path d="M756.4 526.4C756.5 529.7 756.7 533.0 756.9 536.3C757.1 539.6 757.3 542.9 757.5 546.2C757.6 549.5 757.8 552.8 758.1 556.1C758.3 559.4 758.5 562.7 758.7 566.0C758.9 569.3 759.2 572.6 759.4 575.9C759.6 579.3 759.9 582.6 760.1 585.9C760.4 589.2 760.7 592.5 760.9 595.8C761.2 599.1 761.5 602.4 761.8 605.7C762.0 609.0 762.3 612.3 762.6 615.6C762.9 618.9 763.2 622.2 763.4 625.5C763.7 628.8 764.0 632.1 764.3 635.4C764.6 638.7 764.9 642.0 765.1 645.3C765.4 648.6 765.7 651.9 766.0 655.2C766.3 658.5 766.5 661.8 766.8 665.1C767.0 668.4 767.3 671.7 767.5 675.0C767.7 678.4 767.9 681.7 768.1 685.0C768.4 688.3 768.5 691.6 768.7 694.9C768.9 698.2 769.1 701.5 769.2 704.8C769.4 708.1 769.5 711.4 769.7 714.7C769.8 718.0 769.9 721.3 770.0 724.6C770.1 727.9 770.2 731.2 770.3 734.5C770.4 737.8 770.5 741.1 770.6 744.4C770.6 747.7 770.7 751.0 770.8 754.3C770.8 757.6 770.9 760.9 770.9 764.2C770.9 767.5 770.9 770.8 770.9 774.1C770.8 777.5 770.8 780.8 770.7 784.1C770.7 787.4 770.6 790.7 770.5 794.0C770.5 797.3 770.4 800.6 770.3 803.9C770.2 807.2 770.1 810.5 770.0 813.8C769.9 817.1 769.8 820.4 769.7 823.7C769.5 827.0 769.4 830.3 769.2 833.6C769.1 836.9 768.9 840.2 768.7 843.5C768.5 846.8 768.3 850.1 768.1 853.4C767.9 856.7 767.7 860.0 767.5 863.3C767.2 866.6 767.0 869.9 766.8 873.2C766.5 876.6 766.2 879.9 766.0 883.2C765.7 886.5 765.4 889.8 765.1 893.1C764.8 896.4 764.5 899.7 764.3 903.0C764.0 906.3 763.7 909.6 763.4 912.9C763.1 916.2 762.8 919.5 762.6 922.8C762.3 926.1 762.0 929.4 761.7 932.7C761.4 936.0 761.2 939.3 760.9 942.6C760.6 945.9 760.4 949.2 760.1 952.5C759.9 955.8 759.6 959.1 759.4 962.4C759.1 965.7 758.9 969.0 758.7 972.3C758.5 975.7 758.2 979.0 758.0 982.3C757.8 985.6 757.6 988.9 757.4 992.2C757.2 995.5 757.0 998.8 756.9 1002.1C756.7 1005.4 756.5 1008.7 756.3 1012.0C756.2 1015.3 756.0 1018.6 755.9 1021.9"/>
<path d="M789.8 526.4C790.0 529.7 790.2 533.0 790.3 536.3C790.5 539.6 790.7 542.9 790.8 546.2C791.0 549.5 791.2 552.8 791.4 556.1C791.5 559.4 791.7 562.7 791.9 566.0C792.1 569.3 792.3 572.6 792.5 575.9C792.7 579.3 792.9 582.6 793.1 585.9C793.3 589.2 793.5 592.5 793.7 595.8C793.9 599.1 794.1 602.4 794.3 605.7C794.5 609.0 794.7 612.3 795.0 615.6C795.2 618.9 795.4 622.2 795.6 625.5C795.8 628.8 796.1 632.1 796.3 635.4C796.5 638.7 796.8 642.0 796.9 645.3C797.1 648.6 797.3 651.9 797.4 655.2C797.6 658.5 797.7 661.8 797.8 665.1C797.9 668.4 798.0 671.7 798.1 675.0C798.2 678.4 798.3 681.7 798.3 685.0C798.4 688.3 798.5 691.6 798.6 694.9C798.6 698.2 798.7 701.5 798.7 704.8C798.8 708.1 798.9 711.4 798.9 714.7C799.0 718.0 799.0 721.3 799.1 724.6C799.1 727.9 799.2 731.2 799.2 734.5C799.3 737.8 799.3 741.1 799.3 744.4C799.4 747.7 799.4 751.0 799.4 754.3C799.5 757.6 799.5 760.9 799.5 764.2C799.5 767.5 799.5 770.8 799.5 774.1C799.5 777.5 799.5 780.8 799.4 784.1C799.4 787.4 799.4 790.7 799.3 794.0C799.3 797.3 799.3 800.6 799.2 803.9C799.2 807.2 799.1 810.5 799.1 813.8C799.0 817.1 799.0 820.4 798.9 823.7C798.8 827.0 798.8 830.3 798.7 833.6C798.7 836.9 798.6 840.2 798.6 843.5C798.5 846.8 798.4 850.1 798.3 853.4C798.3 856.7 798.2 860.0 798.1 863.3C798.0 866.6 797.9 869.9 797.8 873.2C797.7 876.6 797.5 879.9 797.4 883.2C797.3 886.5 797.1 889.8 796.9 893.1C796.7 896.4 796.5 899.7 796.3 903.0C796.0 906.3 795.8 909.6 795.6 912.9C795.3 916.2 795.1 919.5 794.9 922.8C794.7 926.1 794.5 929.4 794.3 932.7C794.1 936.0 793.9 939.3 793.7 942.6C793.5 945.9 793.3 949.2 793.1 952.5C792.9 955.8 792.7 959.1 792.5 962.4C792.3 965.7 792.1 969.0 791.9 972.3C791.7 975.7 791.5 979.0 791.3 982.3C791.2 985.6 791.0 988.9 790.8 992.2C790.7 995.5 790.5 998.8 790.3 1002.1C790.2 1005.4 790.0 1008.7 789.8 1012.0C789.7 1015.3 789.5 1018.6 789.4 1021.9"/>
</g>
<rect x="656.5" y="529.4" width="141.0" height="106.6" fill="#fff"/>
<rect x="553.7" y="647.4" width="152.5" height="243.4" fill="none" stroke="#000" stroke-linejoin="round" stroke-width="2.05"/>
<rect x="420.5" y="526.4" width="378.1" height="495.5" fill="none" stroke="#000" stroke-width="2.05"/>
<text x="678.0" y="607.8" font-size="69.5">(d)</text>
<rect x="846.2" y="59.8" width="58.7" height="683.0" fill="none" stroke="#000" stroke-width="3.4"/>
<path d="M846.2 174.2h11.3M904.9 174.2h-11.3M846.2 288.1h11.3M904.9 288.1h-11.3M846.2 401.9h11.3M904.9 401.9h-11.3M846.2 515.7h11.3M904.9 515.7h-11.3M846.2 629.6h11.3M904.9 629.6h-11.3" stroke="#000" stroke-width="3" fill="none"/>
<text x="926.6" y="79.8" font-size="57" letter-spacing="1">60</text>
<text x="926.6" y="193.4" font-size="57" letter-spacing="1">50</text>
<text x="926.6" y="307.0" font-size="57" letter-spacing="1">40</text>
<text x="926.6" y="420.6" font-size="57" letter-spacing="1">30</text>
<text x="926.6" y="534.3" font-size="57" letter-spacing="1">20</text>
<text x="926.6" y="648.3" font-size="57" letter-spacing="1">10</text>
<text x="935.8" y="762.8" font-size="57" letter-spacing="1">0</text>
<text x="830.1" y="840" font-size="56" letter-spacing="1">|B| [mT]</text>
</svg></div></body></html>
